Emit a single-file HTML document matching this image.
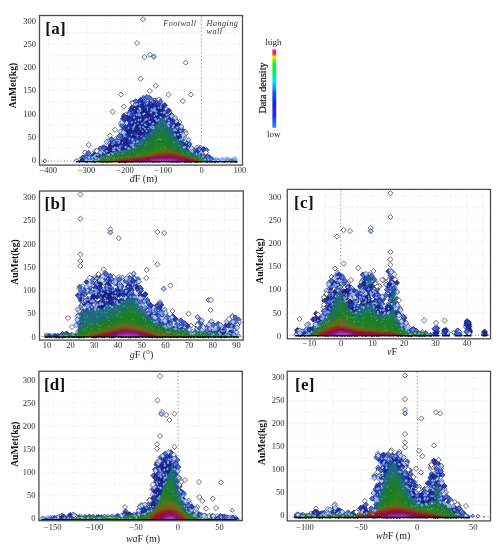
<!DOCTYPE html>
<html lang="en"><head><meta charset="utf-8"><title>Data density scatter plots</title>
<style>html,body{margin:0;padding:0;background:#fff}body{width:501px;height:550px;overflow:hidden}svg{display:block;font-family:"Liberation Serif", "DejaVu Serif", serif}</style></head><body>
<svg width="501" height="550" viewBox="0 0 501 550">
<defs><filter id="b1" x="-20%" y="-50%" width="140%" height="200%"><feGaussianBlur stdDeviation="0.8"/></filter><filter id="b2" x="-20%" y="-50%" width="140%" height="200%"><feGaussianBlur stdDeviation="1.3"/></filter><filter id="b3" x="-20%" y="-50%" width="140%" height="200%"><feGaussianBlur stdDeviation="2.2"/></filter><radialGradient id="gl"><stop offset="0.15" stop-color="#ffffff"/><stop offset="0.75" stop-color="#c6daff"/></radialGradient><radialGradient id="gm"><stop offset="0.15" stop-color="#cfe0ff"/><stop offset="0.75" stop-color="#5a84f0"/></radialGradient><radialGradient id="gd"><stop offset="0.15" stop-color="#8fb2f8"/><stop offset="0.75" stop-color="#3050d6"/></radialGradient><radialGradient id="gk"><stop offset="0.15" stop-color="#587ae6"/><stop offset="0.75" stop-color="#2234b4"/></radialGradient><path id="mw" d="M0 -2.6 L2.6 0 L0 2.6 L-2.6 0Z" fill="#fff" stroke="#5c5c5c" stroke-width="0.9"/><path id="mb" d="M0 -2.6 L2.6 0 L0 2.6 L-2.6 0Z" fill="url(#gm)" stroke="#55629a" stroke-width="0.9"/><path id="ms" d="M0 -1.9L1.9 0L0 1.9L-1.9 0Z" fill="#fff" stroke="#4a4a4a" stroke-width="0.95"/><path id="mu" d="M0 -1.9L1.9 0L0 1.9L-1.9 0Z" fill="#7fa4f4" stroke="#3c4a8c" stroke-width="0.9"/><circle id="mt" r="0.8" fill="#555"/><path id="ml" d="M0 -2.6 L2.6 0 L0 2.6 L-2.6 0Z" fill="#b4ceff" stroke="#4a5890" stroke-width="0.8"/><path id="mm" d="M0 -2.6 L2.6 0 L0 2.6 L-2.6 0Z" fill="#4a70e4" stroke="#222f88" stroke-width="0.8"/><path id="md" d="M0 -2.6 L2.6 0 L0 2.6 L-2.6 0Z" fill="#2640bc" stroke="#141b74" stroke-width="0.8"/><path id="mk" d="M0 -2.6 L2.6 0 L0 2.6 L-2.6 0Z" fill="#1c2a98" stroke="#0e1460" stroke-width="0.8"/><linearGradient id="cb" x1="0" y1="0" x2="0" y2="1"><stop offset="0" stop-color="#ff20d0"/><stop offset="0.025" stop-color="#ff10a0"/><stop offset="0.045" stop-color="#ff1020"/><stop offset="0.07" stop-color="#ff6000"/><stop offset="0.095" stop-color="#fff000"/><stop offset="0.13" stop-color="#80f000"/><stop offset="0.18" stop-color="#20f020"/><stop offset="0.28" stop-color="#00f050"/><stop offset="0.35" stop-color="#00f0b0"/><stop offset="0.41" stop-color="#00e8f0"/><stop offset="0.48" stop-color="#00a8ff"/><stop offset="0.56" stop-color="#1050ff"/><stop offset="0.7" stop-color="#1020f0"/><stop offset="0.85" stop-color="#1830f8"/><stop offset="0.93" stop-color="#2060ff"/><stop offset="1" stop-color="#3a86ff"/></linearGradient></defs>
<rect width="501" height="550" fill="#fff"/>
<g id="panel-a">
<path d="M48.3 15.5V165.1M67.5 15.5V165.1M86.6 15.5V165.1M105.8 15.5V165.1M124.9 15.5V165.1M144.1 15.5V165.1M163.2 15.5V165.1M182.3 15.5V165.1M201.5 15.5V165.1M220.7 15.5V165.1M239.8 15.5V165.1M39.5 21.1H242.5M39.5 32.7H242.5M39.5 44.2H242.5M39.5 55.8H242.5M39.5 67.4H242.5M39.5 79H242.5M39.5 90.5H242.5M39.5 102.1H242.5M39.5 113.7H242.5M39.5 125.3H242.5M39.5 136.8H242.5M39.5 148.4H242.5M39.5 160H242.5" stroke="#f3f3f3" stroke-width="0.7" fill="none"/>
<path d="M41.5 161.2H240.5" stroke="#8a8a8a" stroke-width="1" stroke-dasharray="1 2.2" fill="none"/>
<clipPath id="clipa"><rect x="39.5" y="15.5" width="203" height="146.3"/></clipPath>
<use href="#mw" x="143" y="19.2"/>
<use href="#mw" x="137" y="43.1"/>
<use href="#mw" x="144.6" y="57.1"/>
<use href="#mw" x="149.8" y="54.7"/>
<use href="#mb" x="153.8" y="56.7"/>
<use href="#mw" x="185.7" y="62.7"/>
<use href="#mw" x="140.6" y="78.7"/>
<use href="#mw" x="155.8" y="85.8"/>
<use href="#mw" x="149.8" y="91"/>
<use href="#mw" x="121" y="94.6"/>
<use href="#mw" x="168.5" y="94.6"/>
<use href="#mw" x="190.9" y="94.6"/>
<use href="#mw" x="182.9" y="101"/>
<use href="#mw" x="132.6" y="102.6"/>
<use href="#mw" x="123.8" y="106.6"/>
<use href="#mw" x="112.7" y="111.8"/>
<use href="#mw" x="125.8" y="114.6"/>
<use href="#mw" x="121" y="123.8"/>
<use href="#mw" x="115" y="129.8"/>
<use href="#mw" x="109.9" y="135.7"/>
<use href="#mw" x="88.7" y="144.9"/>
<use href="#mw" x="85.1" y="152.5"/>
<use href="#ms" x="44.8" y="160.9"/>
<g clip-path="url(#clipa)">
<path d="M205 163.2L205 157L206.5 157.6L208.6 156.9L210.5 157.2L212.3 156.5L214.7 157.2L216.5 157.2L218.8 157.8L220.4 157.9L222.8 157.1L224.6 157.5L226.4 156.8L228 156.8L231.4 157.9L234.4 156.3L237.5 158L237.5 163.2Z" fill="#8fb6fb"/>
<use href="#mm" x="232.6" y="161.6"/>
<use href="#mm" x="209" y="161.5"/>
<use href="#ml" x="226.8" y="162.3"/>
<use href="#mm" x="213.1" y="162.1"/>
<use href="#ml" x="233.9" y="162.4"/>
<use href="#mm" x="213.1" y="161.7"/>
<use href="#mm" x="230.5" y="162.2"/>
<use href="#mm" x="213.9" y="162"/>
<use href="#ml" x="235.2" y="162.6"/>
<use href="#ml" x="215.2" y="161.6"/>
<use href="#mm" x="213" y="161.8"/>
<use href="#ml" x="217.8" y="161.5"/>
<use href="#ml" x="227.7" y="161.9"/>
<use href="#ml" x="230.4" y="162.3"/>
<path d="M206 159.3h2.5v1.1h-2.5zM210.9 159.4h2v1.1h-2zM214.2 159h2.2v1.1h-2.2zM221.9 159h1.2v1.1h-1.2zM224.1 159.5h1.3v1.1h-1.3zM227.2 159.5h1v1.1h-1zM232.2 159.2h2v1.1h-2z" fill="#35b9e6" opacity="0.85"/>
</g>
<mask id="maska" maskUnits="userSpaceOnUse" x="0" y="0" width="501" height="550"><path d="M75 167.2L75 160.4L80 157L85 153.6L91 151.5L97.4 148.6L104 144L110 140L116 137L120 133L122 120L124 114L127 110L132 104L137 100L145 97.5L150 97.5L157 98.5L162.4 101.2L166 105L170 110L175 116L179 120.5L182.4 125L185 130L187.4 135L189 140L191 145L193 147.5L195 148.6L197.5 147L200 146L203.5 148L207 151L210 154L213 157.5L215 160.8L215 167.2Z" fill="#fff" stroke="#000" stroke-width="19" stroke-linejoin="round"/></mask>
<g clip-path="url(#clipa)"><rect x="39.5" y="15.5" width="203" height="149.6" fill="#1c2893" mask="url(#maska)"/></g>
<g clip-path="url(#clipa)">
<use href="#mw" x="206.4" y="158.9"/>
<use href="#ml" x="121.4" y="151.6"/>
<use href="#ml" x="161.2" y="117.5"/>
<use href="#ml" x="182.1" y="144"/>
<use href="#mm" x="138.5" y="140.8"/>
<use href="#mm" x="199.6" y="156.2"/>
<use href="#ml" x="97.8" y="156.7"/>
<use href="#mm" x="141" y="137.6"/>
<use href="#mm" x="112" y="152.6"/>
<use href="#mw" x="87.9" y="160.6"/>
<use href="#mm" x="198.2" y="157"/>
<use href="#mm" x="160.2" y="119.4"/>
<use href="#mm" x="115.8" y="150.8"/>
<use href="#mm" x="164.3" y="118.1"/>
<use href="#ml" x="170.4" y="127.2"/>
<use href="#md" x="165.8" y="120.4"/>
<use href="#md" x="94.6" y="158.7"/>
<use href="#mm" x="183.9" y="146.5"/>
<use href="#ml" x="101.1" y="156.9"/>
<use href="#md" x="112.4" y="153.8"/>
<use href="#md" x="205.4" y="157.2"/>
<use href="#md" x="147" y="135.5"/>
<use href="#ml" x="167.1" y="120"/>
<use href="#md" x="125.5" y="148"/>
<use href="#ml" x="173.8" y="132.7"/>
<use href="#mm" x="199.3" y="154.4"/>
<use href="#mm" x="202.2" y="156.1"/>
<use href="#mm" x="205" y="158"/>
<use href="#mm" x="125.4" y="150"/>
<use href="#mm" x="126.9" y="147.1"/>
<use href="#ml" x="88.3" y="159.4"/>
<use href="#mm" x="155.8" y="122.5"/>
<use href="#ml" x="94.3" y="161.1"/>
<use href="#md" x="128.5" y="148.9"/>
<use href="#mm" x="154.4" y="125.5"/>
<use href="#mm" x="155.4" y="124.8"/>
<use href="#md" x="87.5" y="161.1"/>
<use href="#md" x="104.8" y="156.4"/>
<use href="#md" x="130" y="148.8"/>
<use href="#ml" x="93.6" y="158.7"/>
<use href="#mm" x="132.3" y="147.1"/>
<use href="#md" x="135.6" y="141.7"/>
<use href="#md" x="158.2" y="123.2"/>
<use href="#mm" x="114.2" y="152.6"/>
<use href="#mm" x="186.4" y="149"/>
<use href="#mk" x="148.2" y="134.4"/>
<use href="#md" x="113.3" y="151.4"/>
<use href="#mk" x="161.1" y="116.9"/>
<use href="#mm" x="175.8" y="134.3"/>
<use href="#mk" x="157.3" y="119.8"/>
<use href="#mm" x="182.8" y="144.1"/>
<use href="#md" x="121.2" y="149.4"/>
<use href="#md" x="108.4" y="151.9"/>
<use href="#mk" x="159.2" y="118.6"/>
<use href="#mk" x="120.8" y="152.6"/>
<use href="#ml" x="196.5" y="153.1"/>
<use href="#mk" x="159.5" y="120.6"/>
<use href="#mm" x="116.6" y="150.1"/>
<use href="#mk" x="113.5" y="150.3"/>
<use href="#ml" x="124.9" y="150.3"/>
<use href="#ml" x="96.2" y="158.6"/>
<use href="#mk" x="113.2" y="151.4"/>
<use href="#md" x="180.7" y="142.2"/>
<use href="#mk" x="153.2" y="127.7"/>
<use href="#md" x="150.9" y="128.3"/>
<use href="#mm" x="120.7" y="150.3"/>
<use href="#mm" x="146.3" y="134.9"/>
<use href="#md" x="135.2" y="145.9"/>
<use href="#ml" x="191.4" y="152.6"/>
<use href="#md" x="122.9" y="147.9"/>
<use href="#md" x="181.2" y="142.8"/>
<use href="#mm" x="161.5" y="115.8"/>
<use href="#md" x="204.1" y="159.1"/>
<use href="#mm" x="135.2" y="142.8"/>
<use href="#ml" x="199.7" y="156.6"/>
<use href="#mm" x="174.7" y="134.8"/>
<use href="#ml" x="187.4" y="148.9"/>
<use href="#mk" x="115.4" y="152.5"/>
<use href="#mk" x="170" y="127.1"/>
<use href="#mk" x="115.8" y="149.8"/>
<use href="#ml" x="133.4" y="144.5"/>
<use href="#ml" x="196.9" y="155.1"/>
<use href="#ml" x="202.1" y="157.4"/>
<use href="#md" x="184.8" y="146.6"/>
<use href="#ml" x="170.7" y="128.3"/>
<use href="#md" x="145.8" y="137.3"/>
<use href="#md" x="158.9" y="121.1"/>
<use href="#mk" x="151.8" y="128.1"/>
<use href="#ml" x="140.3" y="140.2"/>
<use href="#md" x="159.4" y="118.6"/>
<use href="#mk" x="171.6" y="127.4"/>
<use href="#mk" x="189.8" y="151.6"/>
<use href="#mm" x="85.2" y="160.3"/>
<use href="#md" x="152" y="126.3"/>
<use href="#mm" x="191.6" y="153"/>
<use href="#md" x="200.5" y="154.5"/>
<use href="#mm" x="137.9" y="140.7"/>
<use href="#mk" x="179.8" y="140.9"/>
<use href="#md" x="173.5" y="131.9"/>
<use href="#mm" x="179.3" y="139.6"/>
<use href="#ml" x="189.6" y="150.7"/>
<use href="#ml" x="193.4" y="152.4"/>
<use href="#mk" x="157.1" y="124.5"/>
<use href="#mm" x="87" y="161.1"/>
<use href="#mk" x="98.3" y="159"/>
<use href="#md" x="195.1" y="153.8"/>
<use href="#md" x="143.9" y="139.2"/>
<use href="#mm" x="115.3" y="152.1"/>
<use href="#mk" x="145.4" y="135"/>
<use href="#mk" x="197.8" y="156.7"/>
<use href="#md" x="127.8" y="147.2"/>
<use href="#mk" x="130.4" y="147.5"/>
<use href="#mm" x="177.6" y="136.9"/>
<use href="#mk" x="113" y="151.3"/>
<use href="#md" x="146.3" y="136.9"/>
<use href="#mk" x="198.8" y="155.9"/>
<use href="#mk" x="133.7" y="142.9"/>
<use href="#md" x="129.7" y="149.4"/>
<use href="#md" x="162.1" y="116.4"/>
<use href="#md" x="151.3" y="129.9"/>
<use href="#md" x="170.1" y="127.1"/>
<use href="#md" x="103.3" y="157.3"/>
<use href="#mk" x="141.4" y="139.5"/>
<use href="#md" x="193.5" y="154.2"/>
<use href="#md" x="186.1" y="148.1"/>
<use href="#mk" x="148" y="133.2"/>
<use href="#mk" x="133.1" y="144"/>
<use href="#md" x="114.8" y="150"/>
<use href="#md" x="139.4" y="139.1"/>
<use href="#md" x="114.4" y="150.3"/>
<use href="#md" x="122.2" y="151.4"/>
<use href="#md" x="164.1" y="118.3"/>
<use href="#mk" x="193.9" y="154.9"/>
<use href="#md" x="102.7" y="157.5"/>
<use href="#mk" x="205.5" y="159"/>
<use href="#mk" x="109.1" y="151.9"/>
<use href="#md" x="160.4" y="116.6"/>
<use href="#mk" x="108.4" y="154.3"/>
<use href="#mk" x="148.6" y="134.2"/>
<use href="#md" x="100.9" y="157.4"/>
<use href="#mk" x="149.3" y="133.4"/>
<use href="#md" x="168" y="121.7"/>
<use href="#mk" x="106.4" y="154.9"/>
<use href="#mk" x="160.2" y="118.4"/>
<use href="#md" x="127.7" y="148.6"/>
<use href="#mk" x="187.5" y="150.3"/>
<use href="#mk" x="144.2" y="137.5"/>
<use href="#md" x="154.8" y="123.7"/>
<use href="#mk" x="198.7" y="156.4"/>
<use href="#mk" x="135.6" y="144.4"/>
<use href="#mk" x="163.2" y="118"/>
<use href="#md" x="142.7" y="137.2"/>
<use href="#md" x="152.7" y="127.4"/>
<use href="#mk" x="115.1" y="150.4"/>
<use href="#mk" x="125.6" y="148.4"/>
<use href="#mk" x="172.4" y="130.5"/>
<use href="#mk" x="127.1" y="146.6"/>
<use href="#mk" x="122.8" y="150.8"/>
<use href="#mk" x="163" y="116.4"/>
<use href="#mk" x="119.2" y="150.6"/>
<use href="#mk" x="173" y="129.9"/>
<use href="#mk" x="127.4" y="149.5"/>
<use href="#mk" x="172.8" y="130.3"/>
<use href="#mk" x="101.5" y="154.3"/>
<use href="#mk" x="122.3" y="149.3"/>
</g>
<mask id="clipap" maskUnits="userSpaceOnUse" x="0" y="0" width="501" height="550"><path d="M75 169.2L75 160.4L80 157L85 153.6L91 151.5L97.4 148.6L104 144L110 140L116 137L120 133L122 120L124 114L127 110L132 104L137 100L145 97.5L150 97.5L157 98.5L162.4 101.2L166 105L170 110L175 116L179 120.5L182.4 125L185 130L187.4 135L189 140L191 145L193 147.5L195 148.6L197.5 147L200 146L203.5 148L207 151L210 154L213 157.5L215 160.8L215 169.2Z" fill="#fff" stroke="#000" stroke-width="3" stroke-linejoin="round"/></mask>
<g clip-path="url(#clipa)"><g mask="url(#clipap)">
<path d="M84.5 169.2L84.5 160.7L96.5 156.4L109.5 150.8L118.5 149L127.5 146.1L136.5 140.6L145.5 132.3L154.5 122.1L159.5 116.7L163.5 112.9L166.5 116.2L169.8 122.1L175.2 131.3L182.4 140.6L187.7 147.1L193.1 150.8L200.3 153.6L206.5 157.4L210.5 160.7L210.5 169.2Z" fill="#1d4c98" filter="url(#b2)" opacity="0.8"/>
<path d="M85.5 169.2L85.5 161.2L97.5 157.2L110.5 152.1L119.5 150.4L128.5 147.7L137.5 142.7L146.5 135L155.5 125.6L158.5 120.6L162.5 117.1L165.5 120.2L168.8 125.6L174.2 134.1L181.4 142.7L186.7 148.7L192.1 152.1L199.3 154.6L205.5 158.2L209.5 161.2L209.5 169.2Z" fill="#1a6c78" filter="url(#b2)" opacity="0.95"/>
<path d="M87.5 169.2L87.5 161.2L99.5 158.2L112.5 154.3L121.5 153L130.5 151L139.5 147.2L148.5 141.3L157.5 134.2L156.5 130.5L160.5 127.8L163.5 130.1L166.8 134.2L172.2 140.7L179.4 147.2L184.7 151.7L190.1 154.3L197.3 156.2L203.5 158.9L207.5 161.2L207.5 169.2Z" fill="#1e7d28" filter="url(#b3)"/>
<path d="M91.5 169.2L91.5 161.2L103.5 159.4L116.5 157.1L125.5 156.3L134.5 155.1L143.5 152.8L152.5 149.3L153.5 145L160.5 142.8L156.5 141.2L159.5 142.5L162.8 145L168.2 148.9L175.4 152.8L180.7 155.5L186.1 157.1L193.3 158.2L199.5 159.8L203.5 161.2L203.5 169.2Z" fill="#33801c" filter="url(#b3)" opacity="0.7"/>
<path d="M100 169.2L100 161L120 158.2L140 155.2L155 151.5L166 148.8L176 151.5L186 155.5L195 159L200 161L200 169.2Z" fill="#646c18" filter="url(#b2)"/>
<path d="M115 169.2L115 161L135 158.7L150 156.3L160 154.3L166 153.4L175 154.6L185 157L195 160L198 161L198 169.2Z" fill="#a81424" filter="url(#b1)"/>
<path d="M119 169.2L119 161.1L139 159.6L154 158.2L164 156.9L162 156.4L171 157.1L181 158.6L191 160.5L194 161.1L194 169.2Z" fill="#860e38" filter="url(#b1)"/>
<path d="M140 169.2L140 161L150 159.2L160 157.8L170 157.5L180 158.7L188 161L188 169.2Z" fill="#82108a" filter="url(#b1)"/>
<ellipse cx="164" cy="160.6" rx="14.4" ry="1.4" fill="#a844b4" filter="url(#b1)"/>
<path d="M166.4 118.8h0.9v0.9h-0.9zM141.2 143.4h0.9v0.9h-0.9zM182.9 148.1h0.9v0.9h-0.9zM137.7 141.5h0.9v0.9h-0.9zM193.7 152.2h0.9v0.9h-0.9zM98.3 157h0.9v0.9h-0.9zM112.7 158.1h0.9v0.9h-0.9zM100.4 158.3h0.9v0.9h-0.9zM157.5 139h0.9v0.9h-0.9zM108.8 158.5h0.9v0.9h-0.9zM114.1 157.6h0.9v0.9h-0.9zM205.2 157.5h0.9v0.9h-0.9zM161.4 128.8h0.9v0.9h-0.9zM150.7 132.8h0.9v0.9h-0.9zM132.1 145.1h0.9v0.9h-0.9zM103.8 157.8h0.9v0.9h-0.9zM96.6 158.9h0.9v0.9h-0.9zM133.6 151.7h0.9v0.9h-0.9zM127.6 156h0.9v0.9h-0.9zM165.8 125.3h0.9v0.9h-0.9zM93.5 158.6h0.9v0.9h-0.9zM95.6 159.5h0.9v0.9h-0.9zM194.7 157.6h0.9v0.9h-0.9zM203.5 156.6h0.9v0.9h-0.9zM145.3 134.5h0.9v0.9h-0.9zM174.6 132.5h0.9v0.9h-0.9zM102.9 156.1h0.9v0.9h-0.9zM99.5 156h0.9v0.9h-0.9zM187 152.3h0.9v0.9h-0.9zM88.1 160.1h0.9v0.9h-0.9zM174.3 141.9h0.9v0.9h-0.9zM181.2 149.9h0.9v0.9h-0.9zM164.2 127.2h0.9v0.9h-0.9zM114.9 150.6h0.9v0.9h-0.9zM114.1 152.1h0.9v0.9h-0.9zM88.5 160.2h0.9v0.9h-0.9zM141.2 138.7h0.9v0.9h-0.9zM105.9 154.3h0.9v0.9h-0.9zM118.4 150.1h0.9v0.9h-0.9zM162.9 119h0.9v0.9h-0.9zM171.6 128.5h0.9v0.9h-0.9zM201.4 158.1h0.9v0.9h-0.9zM135.3 146.3h0.9v0.9h-0.9zM163.2 146.2h0.9v0.9h-0.9zM184.4 148h0.9v0.9h-0.9zM121.2 153.4h0.9v0.9h-0.9zM125.8 149.9h0.9v0.9h-0.9zM102.8 156.5h0.9v0.9h-0.9zM113.3 152.4h0.9v0.9h-0.9zM94.9 157.9h0.9v0.9h-0.9zM107.7 152.6h0.9v0.9h-0.9zM173.3 130.8h0.9v0.9h-0.9zM95.1 160.2h0.9v0.9h-0.9zM155.2 140.5h0.9v0.9h-0.9zM156.3 148.4h0.9v0.9h-0.9zM146.1 142.1h0.9v0.9h-0.9zM106.1 157.4h0.9v0.9h-0.9zM100.5 156.3h0.9v0.9h-0.9zM200.3 155.5h0.9v0.9h-0.9zM116.4 152.2h0.9v0.9h-0.9zM112.8 153.3h0.9v0.9h-0.9zM89.8 159.5h0.9v0.9h-0.9zM153.8 128.1h0.9v0.9h-0.9zM136.6 154.7h0.9v0.9h-0.9zM113.1 157.6h0.9v0.9h-0.9zM133.3 150.6h0.9v0.9h-0.9zM176.9 140.2h0.9v0.9h-0.9zM188.9 154.2h0.9v0.9h-0.9zM107.7 155.2h0.9v0.9h-0.9zM206.2 159h0.9v0.9h-0.9zM143.8 139.4h0.9v0.9h-0.9zM138.9 144h0.9v0.9h-0.9zM110.9 152h0.9v0.9h-0.9zM108.2 153.5h0.9v0.9h-0.9zM113.6 155.5h0.9v0.9h-0.9zM122.1 153.1h0.9v0.9h-0.9zM202.5 159.5h0.9v0.9h-0.9zM173.9 147.7h0.9v0.9h-0.9zM159.6 148.2h0.9v0.9h-0.9zM106.2 158h0.9v0.9h-0.9zM171.5 136.2h0.9v0.9h-0.9zM135 147.9h0.9v0.9h-0.9zM178 141.5h0.9v0.9h-0.9zM203.4 159.2h0.9v0.9h-0.9zM110.9 156.1h0.9v0.9h-0.9zM97.9 159.7h0.9v0.9h-0.9zM106.3 158.7h0.9v0.9h-0.9zM135.9 143.7h0.9v0.9h-0.9zM107.2 156.8h0.9v0.9h-0.9zM96.8 157.1h0.9v0.9h-0.9zM198.3 156.4h0.9v0.9h-0.9zM160.2 139h0.9v0.9h-0.9zM157.9 125.8h0.9v0.9h-0.9zM143.6 150.2h0.9v0.9h-0.9zM129.2 152.3h0.9v0.9h-0.9zM100.2 157.1h0.9v0.9h-0.9zM102.5 155.3h0.9v0.9h-0.9zM178.3 145h0.9v0.9h-0.9zM120.9 150.9h0.9v0.9h-0.9zM110 151.7h0.9v0.9h-0.9zM201.4 159.6h0.9v0.9h-0.9zM206.6 158.7h0.9v0.9h-0.9zM99 159h0.9v0.9h-0.9zM159.4 139.1h0.9v0.9h-0.9zM137.4 153.8h0.9v0.9h-0.9zM157.2 139.6h0.9v0.9h-0.9zM122.3 149.5h0.9v0.9h-0.9zM173.1 141.8h0.9v0.9h-0.9zM198.8 155h0.9v0.9h-0.9zM115.8 151.6h0.9v0.9h-0.9zM108.3 152.8h0.9v0.9h-0.9zM108.3 157.7h0.9v0.9h-0.9zM198.9 157.1h0.9v0.9h-0.9zM203.3 159.6h0.9v0.9h-0.9zM111.3 152.8h0.9v0.9h-0.9zM123.4 151.5h0.9v0.9h-0.9zM144.8 144.5h0.9v0.9h-0.9zM164.8 147.5h0.9v0.9h-0.9zM174.7 135.6h0.9v0.9h-0.9zM162.9 121.6h0.9v0.9h-0.9zM167.8 129.6h0.9v0.9h-0.9zM178.8 144.7h0.9v0.9h-0.9zM159 122h0.9v0.9h-0.9zM121.8 156.6h0.9v0.9h-0.9zM95.6 160.2h0.9v0.9h-0.9zM113.8 150.9h0.9v0.9h-0.9zM98.2 159.1h0.9v0.9h-0.9zM117 154.2h0.9v0.9h-0.9zM96.7 160h0.9v0.9h-0.9zM195.8 154.6h0.9v0.9h-0.9zM182.3 152.7h0.9v0.9h-0.9zM109.2 153.7h0.9v0.9h-0.9zM98 156.7h0.9v0.9h-0.9zM129.6 149.3h0.9v0.9h-0.9zM180.3 148.5h0.9v0.9h-0.9zM167.5 122.8h0.9v0.9h-0.9zM111.8 151.8h0.9v0.9h-0.9zM118.5 152.9h0.9v0.9h-0.9zM157.7 126h0.9v0.9h-0.9zM198.5 155h0.9v0.9h-0.9zM119.7 150.9h0.9v0.9h-0.9zM158.2 138.2h0.9v0.9h-0.9zM188.8 151.8h0.9v0.9h-0.9zM91.6 160.1h0.9v0.9h-0.9zM189.1 149.4h0.9v0.9h-0.9z" fill="#9fe0d0" opacity="0.45"/>
</g></g>
<g clip-path="url(#clipa)">
<use href="#mw" x="125" y="123.7"/>
<use href="#mw" x="187.2" y="142.8"/>
<use href="#mw" x="180" y="128.1"/>
<use href="#mw" x="130.1" y="112.2"/>
<use href="#mw" x="187.5" y="144.1"/>
<use href="#ml" x="160.7" y="115.4"/>
<use href="#ml" x="117.1" y="145.5"/>
<use href="#ml" x="191.7" y="150"/>
<use href="#ml" x="124.6" y="126"/>
<use href="#ml" x="138.8" y="102.7"/>
<use href="#ml" x="166.8" y="111.9"/>
<use href="#ml" x="88.1" y="158.5"/>
<use href="#ml" x="112.4" y="148"/>
<use href="#mw" x="80.1" y="160"/>
<use href="#ml" x="84.5" y="159.9"/>
<use href="#ml" x="113.9" y="146.6"/>
<use href="#ml" x="141.9" y="100.7"/>
<use href="#ml" x="127.2" y="117.8"/>
<use href="#ml" x="130.7" y="135.9"/>
<use href="#ml" x="108.5" y="141.3"/>
<use href="#ml" x="110" y="143.6"/>
<use href="#mw" x="90.8" y="156.3"/>
<use href="#ml" x="173" y="120.9"/>
<use href="#ml" x="129.4" y="117.1"/>
<use href="#mw" x="112.1" y="143.9"/>
<use href="#ml" x="185.4" y="131.6"/>
<use href="#ml" x="102.7" y="147.5"/>
<use href="#ml" x="156.1" y="102.9"/>
<use href="#mw" x="115.9" y="138.9"/>
<use href="#ml" x="203.5" y="154.7"/>
<use href="#ml" x="196.7" y="147.6"/>
<use href="#ml" x="179.3" y="126.6"/>
<use href="#mm" x="138.8" y="119.3"/>
<use href="#mm" x="133.5" y="117.1"/>
<use href="#mm" x="90.1" y="158.3"/>
<use href="#mm" x="179" y="128.8"/>
<use href="#mm" x="154.7" y="108.6"/>
<use href="#mw" x="113.5" y="142.4"/>
<use href="#mm" x="158.9" y="117.2"/>
<use href="#mm" x="135.3" y="107.6"/>
<use href="#ml" x="166.7" y="111.3"/>
<use href="#ml" x="135.5" y="128"/>
<use href="#mm" x="113.4" y="149.5"/>
<use href="#mm" x="142.7" y="123.8"/>
<use href="#mm" x="180.9" y="130.2"/>
<use href="#mm" x="126.9" y="141.1"/>
<use href="#mm" x="181.5" y="138.1"/>
<use href="#mw" x="185.7" y="133.8"/>
<use href="#mm" x="151.7" y="110.9"/>
<use href="#ml" x="182.1" y="133.2"/>
<use href="#ml" x="127.8" y="141.7"/>
<use href="#mm" x="132.2" y="131.4"/>
<use href="#mm" x="162.8" y="109.1"/>
<use href="#ml" x="126.9" y="129.5"/>
<use href="#ml" x="95.1" y="151.2"/>
<use href="#mw" x="174.1" y="121.3"/>
<use href="#mm" x="143.4" y="126.9"/>
<use href="#mm" x="143.4" y="101"/>
<use href="#mm" x="182.2" y="140"/>
<use href="#mm" x="181.3" y="138.9"/>
<use href="#mm" x="182.2" y="138.1"/>
<use href="#mw" x="124.4" y="132.2"/>
<use href="#mm" x="159.2" y="116.1"/>
<use href="#mm" x="130.9" y="112"/>
<use href="#mm" x="82.6" y="157.7"/>
<use href="#ml" x="176.5" y="124.3"/>
<use href="#mm" x="149.6" y="115.2"/>
<use href="#ml" x="200.3" y="147.7"/>
<use href="#ml" x="156.7" y="106.9"/>
<use href="#ml" x="127.7" y="118.1"/>
<use href="#mm" x="133.9" y="105.8"/>
<use href="#mm" x="127.1" y="140.2"/>
<use href="#ml" x="127.3" y="117.3"/>
<use href="#ml" x="129.7" y="123"/>
<use href="#ml" x="85.4" y="156"/>
<use href="#mm" x="127.6" y="140.5"/>
<use href="#md" x="145.8" y="118.8"/>
<use href="#md" x="152.6" y="111.8"/>
<use href="#mm" x="105.5" y="152.4"/>
<use href="#ml" x="132.3" y="109.9"/>
<use href="#ml" x="202.5" y="152.9"/>
<use href="#mm" x="196.8" y="150.9"/>
<use href="#ml" x="144.7" y="100.2"/>
<use href="#mm" x="126.2" y="119.8"/>
<use href="#ml" x="184.1" y="137.3"/>
<use href="#ml" x="213.2" y="161.2"/>
<use href="#mm" x="193.5" y="149.9"/>
<use href="#ml" x="132.4" y="130.1"/>
<use href="#ml" x="133.6" y="109.6"/>
<use href="#ml" x="171.7" y="116.3"/>
<use href="#md" x="148.3" y="110.1"/>
<use href="#mm" x="148.5" y="104.5"/>
<use href="#mw" x="83" y="158.8"/>
<use href="#md" x="135.3" y="106.5"/>
<use href="#md" x="125.2" y="139.3"/>
<use href="#ml" x="176.8" y="125.7"/>
<use href="#md" x="97.1" y="154.3"/>
<use href="#mm" x="153.2" y="108.6"/>
<use href="#md" x="122.8" y="132.8"/>
<use href="#ml" x="93.9" y="154.8"/>
<use href="#ml" x="124.1" y="134.3"/>
<use href="#md" x="112.1" y="148"/>
<use href="#mm" x="131.3" y="108.7"/>
<use href="#md" x="92.3" y="156.6"/>
<use href="#md" x="155.8" y="100.6"/>
<use href="#mw" x="179.4" y="121.9"/>
<use href="#md" x="154" y="104.6"/>
<use href="#ml" x="208.1" y="156.3"/>
<use href="#md" x="158.8" y="115.9"/>
<use href="#md" x="126.8" y="121"/>
<use href="#md" x="144.7" y="123.1"/>
<use href="#ml" x="181.7" y="138"/>
<use href="#md" x="158" y="106"/>
<use href="#mm" x="146.3" y="118.4"/>
<use href="#mm" x="130" y="116.5"/>
<use href="#md" x="119.6" y="146.3"/>
<use href="#ml" x="187.3" y="143.6"/>
<use href="#mm" x="199.2" y="150.8"/>
<use href="#md" x="133.2" y="112.6"/>
<use href="#md" x="158.8" y="110.6"/>
<use href="#mm" x="180.1" y="126.7"/>
<use href="#md" x="154.9" y="107.9"/>
<use href="#mw" x="181.1" y="127.1"/>
<use href="#mm" x="140.9" y="129.7"/>
<use href="#mm" x="160" y="109"/>
<use href="#mm" x="133" y="128"/>
<use href="#mm" x="135.7" y="140.8"/>
<use href="#md" x="153.7" y="113.8"/>
<use href="#md" x="174" y="124.3"/>
<use href="#ml" x="129.4" y="139.2"/>
<use href="#mm" x="137" y="132.2"/>
<use href="#mm" x="103.9" y="147.2"/>
<use href="#mm" x="161.8" y="114.7"/>
<use href="#mm" x="117.7" y="146"/>
<use href="#md" x="131.3" y="143.5"/>
<use href="#md" x="123.9" y="133.8"/>
<use href="#ml" x="156.5" y="104"/>
<use href="#md" x="94.9" y="155.7"/>
<use href="#mm" x="203.7" y="153.3"/>
<use href="#mm" x="140.9" y="135.8"/>
<use href="#md" x="111.9" y="148.7"/>
<use href="#md" x="133.1" y="123.8"/>
<use href="#mm" x="187.8" y="146.8"/>
<use href="#md" x="152.5" y="114.6"/>
<use href="#mw" x="171.4" y="115"/>
<use href="#md" x="126.2" y="135.4"/>
<use href="#md" x="117.2" y="146.3"/>
<use href="#mm" x="170.6" y="115.9"/>
<use href="#ml" x="147" y="101.2"/>
<use href="#mm" x="129.4" y="133.2"/>
<use href="#md" x="133.7" y="127.8"/>
<use href="#mk" x="141.3" y="131.2"/>
<use href="#mk" x="136.1" y="125.6"/>
<use href="#ml" x="142.2" y="130.5"/>
<use href="#ml" x="106.4" y="142.1"/>
<use href="#mk" x="137.1" y="125"/>
<use href="#mm" x="136" y="104.3"/>
<use href="#mm" x="84" y="157.9"/>
<use href="#md" x="145.5" y="107.6"/>
<use href="#mm" x="131.7" y="131"/>
<use href="#ml" x="109.3" y="148.2"/>
<use href="#mk" x="155" y="107.5"/>
<use href="#ml" x="154" y="101.5"/>
<use href="#ml" x="99.5" y="153.8"/>
<use href="#mk" x="120.8" y="145.4"/>
<use href="#mk" x="162.3" y="113.7"/>
<use href="#mk" x="137.8" y="132"/>
<use href="#md" x="113.3" y="146.6"/>
<use href="#mm" x="117.4" y="142.1"/>
<use href="#ml" x="122.3" y="138.9"/>
<use href="#mk" x="151.9" y="125.6"/>
<use href="#md" x="137.8" y="124.3"/>
<use href="#md" x="209.3" y="157.6"/>
<use href="#md" x="148" y="113.4"/>
<use href="#md" x="137.2" y="103.4"/>
<use href="#ml" x="88.1" y="157.2"/>
<use href="#ml" x="157.3" y="100.4"/>
<use href="#md" x="161.9" y="112.4"/>
<use href="#md" x="135.8" y="108.9"/>
<use href="#mk" x="137.7" y="114.7"/>
<use href="#ml" x="176.6" y="121.6"/>
<use href="#mm" x="128.9" y="119.2"/>
<use href="#md" x="112.7" y="145.5"/>
<use href="#mk" x="148.4" y="106.6"/>
<use href="#md" x="117.9" y="143.4"/>
<use href="#mk" x="134.3" y="137.4"/>
<use href="#mk" x="162.5" y="107.4"/>
<use href="#md" x="123.1" y="118.8"/>
<use href="#ml" x="144.3" y="107.7"/>
<use href="#md" x="134.6" y="112"/>
<use href="#md" x="134.7" y="110.9"/>
<use href="#mk" x="144.7" y="113.6"/>
<use href="#md" x="149" y="103.1"/>
<use href="#md" x="170.1" y="121.9"/>
<use href="#md" x="138.4" y="122"/>
<use href="#md" x="133.7" y="116.3"/>
<use href="#mk" x="133.5" y="123.8"/>
<use href="#ml" x="130.9" y="114.8"/>
<use href="#mk" x="132.3" y="131.5"/>
<use href="#md" x="186.3" y="145.5"/>
<use href="#mk" x="130.2" y="132.9"/>
<use href="#ml" x="147.4" y="119.9"/>
<use href="#mm" x="202.9" y="153.8"/>
<use href="#md" x="129.6" y="138.1"/>
<use href="#mm" x="154.9" y="111.5"/>
<use href="#mw" x="169.3" y="112.1"/>
<use href="#ml" x="76.3" y="161.2"/>
<use href="#md" x="127" y="119.6"/>
<use href="#mm" x="131.7" y="115.5"/>
<use href="#md" x="152.2" y="120.9"/>
<use href="#mk" x="103.3" y="152.8"/>
<use href="#md" x="147.2" y="103.8"/>
<use href="#mm" x="152.4" y="118.2"/>
<use href="#mk" x="110.6" y="148"/>
<use href="#md" x="201.5" y="151.6"/>
<use href="#mm" x="115.3" y="144.1"/>
<use href="#mm" x="176.4" y="131.9"/>
<use href="#ml" x="188.4" y="139.9"/>
<use href="#md" x="172.1" y="125.1"/>
<use href="#ml" x="120.4" y="131.6"/>
<use href="#mm" x="150.1" y="105"/>
<use href="#mk" x="143.2" y="106.9"/>
<use href="#mw" x="134.6" y="108.6"/>
<use href="#mm" x="147.6" y="107"/>
<use href="#ml" x="126.7" y="130.3"/>
<use href="#mm" x="173.4" y="121.5"/>
<use href="#ml" x="176.9" y="124.5"/>
<use href="#md" x="127.6" y="132"/>
<use href="#mm" x="127.1" y="131.1"/>
<use href="#mk" x="138.7" y="112.3"/>
<use href="#md" x="134.7" y="133.1"/>
<use href="#mm" x="132.9" y="113"/>
<use href="#mm" x="143.3" y="100.6"/>
<use href="#md" x="149.6" y="119.9"/>
<use href="#mk" x="137.4" y="118.1"/>
<use href="#mk" x="148.3" y="115.9"/>
<use href="#mm" x="146.1" y="109.6"/>
<use href="#mk" x="117.9" y="146.6"/>
<use href="#mm" x="207.5" y="157"/>
<use href="#ml" x="158.2" y="106.1"/>
<use href="#mm" x="159.7" y="104.7"/>
<use href="#mk" x="179.6" y="137.4"/>
<use href="#mm" x="129.7" y="141.8"/>
<use href="#md" x="126.1" y="126.5"/>
<use href="#mm" x="153.9" y="108.3"/>
<use href="#ml" x="154.1" y="100.5"/>
<use href="#mk" x="145.2" y="127"/>
<use href="#md" x="156.1" y="104.3"/>
<use href="#md" x="130.8" y="111"/>
<use href="#mw" x="191.4" y="149.6"/>
<use href="#md" x="136.4" y="137.5"/>
<use href="#mk" x="108.4" y="151.2"/>
<use href="#ml" x="199.5" y="151.7"/>
<use href="#md" x="164.3" y="108.5"/>
<use href="#mw" x="156" y="102.5"/>
<use href="#md" x="201.7" y="151.6"/>
<use href="#mm" x="116.6" y="140.3"/>
<use href="#mk" x="123.2" y="145.1"/>
<use href="#mw" x="133.9" y="105.7"/>
<use href="#mk" x="146.3" y="113.6"/>
<use href="#md" x="143.1" y="117.3"/>
<use href="#mk" x="131.2" y="116.2"/>
<use href="#ml" x="105" y="150.7"/>
<use href="#mm" x="130.3" y="128.1"/>
<use href="#mk" x="141.1" y="116"/>
<use href="#mk" x="133.7" y="124.9"/>
<use href="#mm" x="145.7" y="114.5"/>
<use href="#mk" x="135.8" y="132.4"/>
<use href="#md" x="127.9" y="124.4"/>
<use href="#md" x="152.2" y="120.5"/>
<use href="#md" x="124.1" y="129.1"/>
<use href="#mm" x="125.7" y="132.9"/>
<use href="#ml" x="157.5" y="103.1"/>
<use href="#md" x="138.1" y="127.9"/>
<use href="#mm" x="126.4" y="135"/>
<use href="#mm" x="140.5" y="113.7"/>
<use href="#md" x="145.6" y="121.4"/>
<use href="#md" x="114.6" y="148.5"/>
<use href="#ml" x="139.7" y="118.8"/>
<use href="#mk" x="112.8" y="150"/>
<use href="#md" x="136.6" y="138.6"/>
<use href="#mk" x="156.1" y="109"/>
<use href="#mw" x="190.5" y="148.8"/>
<use href="#ml" x="135.8" y="126.7"/>
<use href="#md" x="127.3" y="123.1"/>
<use href="#mm" x="138.1" y="112.2"/>
<use href="#md" x="176.2" y="127"/>
<use href="#mm" x="139.3" y="114.9"/>
<use href="#mm" x="143.6" y="97.8"/>
<use href="#ml" x="123.3" y="132.5"/>
<use href="#mm" x="133.3" y="141.8"/>
<use href="#mk" x="174.5" y="119.6"/>
<use href="#md" x="149.3" y="112.5"/>
<use href="#ml" x="126.6" y="123"/>
<use href="#mm" x="177.5" y="126.5"/>
<use href="#ml" x="173" y="118.4"/>
<use href="#ml" x="153.8" y="117.9"/>
<use href="#md" x="130.2" y="139.4"/>
<use href="#md" x="118.7" y="147.4"/>
<use href="#md" x="106.2" y="148.5"/>
<use href="#md" x="163.4" y="113.8"/>
<use href="#mm" x="157.6" y="114.4"/>
<use href="#mm" x="163.6" y="107.6"/>
<use href="#mk" x="133.5" y="111.4"/>
<use href="#mm" x="133" y="139.6"/>
<use href="#mm" x="156.4" y="103.3"/>
<use href="#mm" x="102.5" y="151.7"/>
<use href="#md" x="105.6" y="150.4"/>
<use href="#mm" x="113.2" y="145.3"/>
<use href="#mk" x="82.1" y="160.6"/>
<use href="#md" x="132.9" y="121.4"/>
<use href="#md" x="125.7" y="139.1"/>
<use href="#mk" x="124.8" y="147.1"/>
<use href="#md" x="153.5" y="102.1"/>
<use href="#ml" x="127.9" y="138.3"/>
<use href="#md" x="165.6" y="113"/>
<use href="#md" x="135.6" y="116.6"/>
<use href="#md" x="182" y="130"/>
<use href="#mk" x="130.5" y="128.1"/>
<use href="#md" x="159.7" y="113.2"/>
<use href="#mm" x="172" y="122.5"/>
<use href="#mm" x="129.4" y="116.4"/>
<use href="#mm" x="153.6" y="107.6"/>
<use href="#ml" x="183.5" y="134.9"/>
<use href="#ml" x="133.7" y="133.3"/>
<use href="#md" x="136.2" y="128.6"/>
<use href="#ml" x="104.7" y="151.5"/>
<use href="#mk" x="142.1" y="110.6"/>
<use href="#md" x="127.4" y="130.7"/>
<use href="#md" x="106.9" y="151.2"/>
<use href="#mm" x="132.5" y="112.9"/>
<use href="#mk" x="121.8" y="145.8"/>
<use href="#md" x="143.9" y="115.4"/>
<use href="#mm" x="137" y="132.3"/>
<use href="#mk" x="156" y="120.4"/>
<use href="#mk" x="142.7" y="106.8"/>
<use href="#mk" x="141.8" y="114.9"/>
<use href="#ml" x="160.5" y="104"/>
<use href="#mm" x="136.5" y="110.2"/>
<use href="#mm" x="145.3" y="121.5"/>
<use href="#ml" x="101.5" y="151.2"/>
<use href="#mk" x="134.7" y="119.5"/>
<use href="#ml" x="158.3" y="104.3"/>
<use href="#mm" x="149.8" y="124.3"/>
<use href="#ml" x="99.6" y="152.5"/>
<use href="#mm" x="115.3" y="148.9"/>
<use href="#mk" x="199" y="151.2"/>
<use href="#mm" x="111.1" y="144.5"/>
<use href="#mk" x="131.2" y="118.1"/>
<use href="#md" x="145.4" y="123.9"/>
<use href="#mm" x="152.7" y="120"/>
<use href="#mk" x="137.3" y="110.8"/>
<use href="#md" x="141.6" y="103.3"/>
<use href="#md" x="122.4" y="142.5"/>
<use href="#md" x="128.8" y="126.4"/>
<use href="#ml" x="176.4" y="121.2"/>
<use href="#mm" x="112.2" y="147.6"/>
<use href="#mm" x="86.4" y="156.7"/>
<use href="#md" x="121.7" y="140.2"/>
<use href="#md" x="175.9" y="126.8"/>
<use href="#mk" x="110.1" y="149.5"/>
<use href="#mk" x="139.2" y="115.1"/>
<use href="#md" x="148.1" y="111.8"/>
<use href="#md" x="151.6" y="121.2"/>
<use href="#ml" x="143.5" y="113.2"/>
<use href="#mk" x="150.9" y="122.2"/>
<use href="#md" x="140.8" y="102.9"/>
<use href="#mk" x="145.1" y="129.3"/>
<use href="#mk" x="154.6" y="116.7"/>
<use href="#md" x="110.8" y="145.9"/>
<use href="#ml" x="170.3" y="116"/>
<use href="#mk" x="144.6" y="119.7"/>
<use href="#mk" x="113.4" y="144.9"/>
<use href="#mk" x="136.9" y="113.9"/>
<use href="#mm" x="129.7" y="118.8"/>
<use href="#mm" x="116.3" y="147.1"/>
<use href="#mm" x="131" y="122.1"/>
<use href="#md" x="173.6" y="119.4"/>
<use href="#md" x="163.9" y="113.4"/>
<use href="#mk" x="112" y="145.8"/>
<use href="#mm" x="157.3" y="118.9"/>
<use href="#md" x="138.3" y="118.8"/>
<use href="#mk" x="146.6" y="116.7"/>
<use href="#mk" x="136.8" y="114.2"/>
<use href="#mk" x="127.1" y="137"/>
<use href="#md" x="130.3" y="135.9"/>
<use href="#md" x="127.7" y="118"/>
<use href="#mk" x="136.8" y="133.6"/>
<use href="#mm" x="134.2" y="131.3"/>
<use href="#mm" x="199.5" y="149"/>
<use href="#md" x="121.1" y="147.3"/>
<use href="#mk" x="152.8" y="106.7"/>
<use href="#md" x="133.6" y="115"/>
<use href="#mk" x="138" y="137.6"/>
<use href="#mk" x="141.3" y="125.1"/>
<use href="#mk" x="148.7" y="119.5"/>
<use href="#md" x="128.7" y="139.7"/>
<use href="#md" x="127.8" y="129.4"/>
<use href="#md" x="130" y="120.1"/>
<use href="#md" x="107.5" y="150.8"/>
<use href="#md" x="145.4" y="107.5"/>
<use href="#mk" x="128.4" y="116.6"/>
<use href="#mk" x="170.2" y="119"/>
<use href="#mk" x="174.7" y="126.1"/>
<use href="#mm" x="135.4" y="126.9"/>
<use href="#mm" x="201" y="152.3"/>
<use href="#md" x="166.5" y="114.8"/>
<use href="#mm" x="159.1" y="107.4"/>
<use href="#mm" x="113.4" y="143"/>
<use href="#mm" x="210.9" y="158.9"/>
<use href="#md" x="172.3" y="124.2"/>
<use href="#md" x="138.1" y="123.6"/>
<use href="#md" x="149.8" y="124.6"/>
<use href="#md" x="131.4" y="122.6"/>
<use href="#mk" x="147.3" y="124.6"/>
<use href="#md" x="120.6" y="148.3"/>
<use href="#md" x="156.9" y="106.3"/>
<use href="#mm" x="142.3" y="129.9"/>
<use href="#md" x="128.5" y="141.7"/>
<use href="#mk" x="139.1" y="129.5"/>
<use href="#mk" x="122.9" y="147.1"/>
<use href="#mm" x="143.1" y="110"/>
<use href="#mm" x="108.9" y="149.3"/>
<use href="#mk" x="147.6" y="107.3"/>
<use href="#mm" x="136.7" y="121.1"/>
<use href="#mm" x="134.2" y="126.4"/>
<use href="#mm" x="119.1" y="148.4"/>
<use href="#mm" x="138.4" y="126.7"/>
<use href="#md" x="135.2" y="125.1"/>
<use href="#mk" x="139.5" y="123.4"/>
<use href="#mk" x="157.1" y="110.7"/>
<use href="#mk" x="157.2" y="111.3"/>
<use href="#md" x="132.7" y="132.5"/>
<use href="#md" x="130.4" y="131.6"/>
<use href="#mm" x="103.5" y="148.6"/>
<use href="#mm" x="121.9" y="143.1"/>
<use href="#mk" x="107.5" y="150.6"/>
<use href="#md" x="136.6" y="128.1"/>
<use href="#md" x="119.5" y="137.8"/>
<use href="#mm" x="147.4" y="104.1"/>
<use href="#md" x="126.4" y="143.8"/>
<use href="#mm" x="130.1" y="114.5"/>
<use href="#md" x="131.5" y="133.7"/>
<use href="#mm" x="129.3" y="112.9"/>
<use href="#md" x="148.3" y="118.5"/>
<use href="#mk" x="130.2" y="131.6"/>
<use href="#mm" x="137.3" y="121.7"/>
<use href="#mm" x="139.8" y="113.8"/>
<use href="#mm" x="88.5" y="152.8"/>
<use href="#mm" x="156.3" y="111.4"/>
<use href="#md" x="171.3" y="115.5"/>
<use href="#mm" x="100.3" y="148.5"/>
<use href="#md" x="155.7" y="118.8"/>
<use href="#md" x="139.8" y="112.8"/>
<use href="#mk" x="148.9" y="106.2"/>
<use href="#md" x="126.9" y="136.8"/>
<use href="#md" x="148.2" y="117.9"/>
<use href="#mk" x="156.2" y="120.5"/>
<use href="#mk" x="124.8" y="143.4"/>
<use href="#mk" x="137.1" y="122.7"/>
<use href="#mm" x="150.7" y="107.1"/>
<use href="#mk" x="135.7" y="134.2"/>
<use href="#md" x="161.8" y="112.1"/>
<use href="#mk" x="177.8" y="132.3"/>
<use href="#mk" x="153.1" y="111.1"/>
<use href="#mk" x="151.9" y="107.1"/>
<use href="#md" x="138.8" y="132"/>
<use href="#mk" x="152.3" y="108.5"/>
<use href="#mk" x="142.5" y="124"/>
<use href="#mk" x="143.2" y="110.7"/>
<use href="#mk" x="134.9" y="135.5"/>
<use href="#mk" x="110.9" y="148.2"/>
<use href="#mk" x="133.6" y="131.1"/>
<use href="#mk" x="164.3" y="108.1"/>
<use href="#md" x="155.9" y="107.1"/>
<use href="#md" x="137.3" y="137.8"/>
<use href="#md" x="136.6" y="107.1"/>
<use href="#md" x="144.7" y="117.6"/>
<use href="#md" x="132.7" y="107"/>
<use href="#md" x="124.2" y="119.8"/>
<use href="#md" x="170.9" y="115.5"/>
<use href="#md" x="143.4" y="128.6"/>
<use href="#mk" x="159.2" y="115.3"/>
<use href="#md" x="140.4" y="116.6"/>
<use href="#md" x="136.8" y="117.7"/>
<use href="#mk" x="155.1" y="118.4"/>
<use href="#md" x="151.2" y="111.4"/>
<use href="#mk" x="138.9" y="112.8"/>
<use href="#md" x="145.4" y="116.9"/>
<use href="#mk" x="160.6" y="112.9"/>
<use href="#mk" x="140.6" y="133.2"/>
<use href="#mk" x="117.8" y="145.6"/>
<use href="#mk" x="178.2" y="124.7"/>
<use href="#md" x="138.8" y="115.3"/>
<use href="#md" x="138" y="107.1"/>
<use href="#md" x="126.4" y="146.6"/>
<use href="#md" x="126.9" y="136.5"/>
<use href="#md" x="154.5" y="107.2"/>
<use href="#mk" x="148" y="121.2"/>
<use href="#mk" x="137.4" y="119.9"/>
<use href="#md" x="176.2" y="130.6"/>
<use href="#md" x="168" y="119.6"/>
<use href="#md" x="140.6" y="100.2"/>
<use href="#md" x="138" y="121.2"/>
<use href="#md" x="135.3" y="134.2"/>
<use href="#md" x="144.3" y="109.6"/>
<use href="#mk" x="121.6" y="143.8"/>
<use href="#md" x="121.8" y="145.3"/>
<use href="#md" x="138.7" y="112.8"/>
<use href="#md" x="136.5" y="123.5"/>
<use href="#md" x="98.6" y="155.2"/>
<use href="#mk" x="137" y="107.3"/>
<use href="#md" x="146" y="106.6"/>
<use href="#md" x="158.3" y="104.3"/>
<use href="#mk" x="159" y="109.3"/>
<use href="#mk" x="136.2" y="120.8"/>
<use href="#md" x="148.5" y="118.9"/>
<use href="#mk" x="142" y="110.3"/>
<use href="#md" x="147.1" y="130.8"/>
<use href="#mk" x="124.5" y="140.8"/>
<use href="#md" x="154.1" y="117"/>
<use href="#mk" x="107.4" y="151"/>
<use href="#md" x="137" y="105"/>
<use href="#mk" x="142" y="130.5"/>
<use href="#mk" x="129" y="131"/>
<use href="#mk" x="150.9" y="124.5"/>
<use href="#mk" x="120.1" y="137"/>
<use href="#mk" x="136.3" y="128.8"/>
<use href="#mk" x="139.7" y="125.3"/>
<use href="#mk" x="134" y="122.2"/>
<use href="#mk" x="156" y="117.7"/>
<use href="#mk" x="146.2" y="110.7"/>
<use href="#mk" x="187" y="143.7"/>
<use href="#mk" x="116.7" y="148"/>
<use href="#mk" x="118.9" y="141.4"/>
<use href="#mk" x="146.7" y="115.9"/>
<use href="#mk" x="130" y="132.4"/>
<use href="#mk" x="143.4" y="126.7"/>
<use href="#mk" x="158.7" y="108.5"/>
<use href="#mk" x="95.8" y="153"/>
<use href="#mk" x="178" y="135"/>
<use href="#mk" x="147.4" y="123.6"/>
<path d="M184 145.7l1.4 1.4l-1.4 1.4l-1.4 -1.4zM161 107.2l1 1l-1 1l-1 -1zM137 141.2l1 1l-1 1l-1 -1zM152.5 109.4l1 1l-1 1l-1 -1zM175 133.2l1.5 1.5l-1.5 1.5l-1.5 -1.5zM173 126.1l1.3 1.3l-1.3 1.3l-1.3 -1.3zM174 124.1l1.2 1.2l-1.2 1.2l-1.2 -1.2zM138 109.7l1.4 1.4l-1.4 1.4l-1.4 -1.4zM151 126.4l1.2 1.2l-1.2 1.2l-1.2 -1.2zM169 119.4l1.2 1.2l-1.2 1.2l-1.2 -1.2zM151.5 126.3l1.1 1.1l-1.1 1.1l-1.1 -1.1zM147.5 101.2l1 1l-1 1l-1 -1zM112.5 152.5l1.3 1.3l-1.3 1.3l-1.3 -1.3zM140 108.1l1.3 1.3l-1.3 1.3l-1.3 -1.3zM119.5 148.7l1.3 1.3l-1.3 1.3l-1.3 -1.3zM158.5 118.7l1.3 1.3l-1.3 1.3l-1.3 -1.3zM142 121.9l1.3 1.3l-1.3 1.3l-1.3 -1.3zM168 122.1l1.2 1.2l-1.2 1.2l-1.2 -1.2zM153 109.3l1.1 1.1l-1.1 1.1l-1.1 -1.1zM123.5 129.9l1.4 1.4l-1.4 1.4l-1.4 -1.4zM128.5 146.9l1.5 1.5l-1.5 1.5l-1.5 -1.5zM137 113.8l1.1 1.1l-1.1 1.1l-1.1 -1.1zM87 159.3l1.1 1.1l-1.1 1.1l-1.1 -1.1zM95 156l1.1 1.1l-1.1 1.1l-1.1 -1.1zM114 140.8l1 1l-1 1l-1 -1zM137.5 139.5l1.4 1.4l-1.4 1.4l-1.4 -1.4zM106.5 149.7l1.5 1.5l-1.5 1.5l-1.5 -1.5zM100 152.6l1 1l-1 1l-1 -1zM135.5 120.1l1.1 1.1l-1.1 1.1l-1.1 -1.1zM144 137.1l1 1l-1 1l-1 -1zM93.5 155.4l1.3 1.3l-1.3 1.3l-1.3 -1.3zM145 123.3l1.3 1.3l-1.3 1.3l-1.3 -1.3zM140.5 118.8l1 1l-1 1l-1 -1zM140 102.3l1 1l-1 1l-1 -1zM169 121.3l1.1 1.1l-1.1 1.1l-1.1 -1.1zM154.5 115.1l1 1l-1 1l-1 -1zM155.5 109.9l1.1 1.1l-1.1 1.1l-1.1 -1.1zM96 156.8l1.3 1.3l-1.3 1.3l-1.3 -1.3zM173 124.9l0.9 0.9l-0.9 0.9l-0.9 -0.9zM92.5 158.3l1.3 1.3l-1.3 1.3l-1.3 -1.3zM118 141.6l0.9 0.9l-0.9 0.9l-0.9 -0.9zM142.5 130.1l1.1 1.1l-1.1 1.1l-1.1 -1.1zM95.5 159.5l1.2 1.2l-1.2 1.2l-1.2 -1.2zM149.5 117.2l0.9 0.9l-0.9 0.9l-0.9 -0.9zM205 158.4l1.2 1.2l-1.2 1.2l-1.2 -1.2zM175 128.1l1.4 1.4l-1.4 1.4l-1.4 -1.4zM130.5 143.9l1.1 1.1l-1.1 1.1l-1.1 -1.1zM128.5 127l1.1 1.1l-1.1 1.1l-1.1 -1.1zM202.5 151.7l1.4 1.4l-1.4 1.4l-1.4 -1.4zM144 121l1 1l-1 1l-1 -1zM169.5 122.8l1 1l-1 1l-1 -1zM185.5 145.7l1.2 1.2l-1.2 1.2l-1.2 -1.2zM97.5 153.1l1.4 1.4l-1.4 1.4l-1.4 -1.4zM150 125.8l1 1l-1 1l-1 -1zM146.5 117.7l1.5 1.5l-1.5 1.5l-1.5 -1.5zM148.5 99.8l0.9 0.9l-0.9 0.9l-0.9 -0.9zM156.5 113.1l1.4 1.4l-1.4 1.4l-1.4 -1.4zM124.5 133.8l1.4 1.4l-1.4 1.4l-1.4 -1.4zM186.5 141.8l0.9 0.9l-0.9 0.9l-0.9 -0.9zM178 126.2l1.1 1.1l-1.1 1.1l-1.1 -1.1zM102 149.1l0.9 0.9l-0.9 0.9l-0.9 -0.9zM146 124.4l1 1l-1 1l-1 -1zM177 126.2l1.4 1.4l-1.4 1.4l-1.4 -1.4zM125.5 145.7l1.5 1.5l-1.5 1.5l-1.5 -1.5zM117 139.6l1.2 1.2l-1.2 1.2l-1.2 -1.2zM156.5 113.3l1.4 1.4l-1.4 1.4l-1.4 -1.4zM153 108.4l0.9 0.9l-0.9 0.9l-0.9 -0.9zM138 122.6l1 1l-1 1l-1 -1zM186.5 141.5l1.3 1.3l-1.3 1.3l-1.3 -1.3zM107.5 153.4l1.1 1.1l-1.1 1.1l-1.1 -1.1zM180.5 129.5l1.4 1.4l-1.4 1.4l-1.4 -1.4zM208.5 158.4l1.3 1.3l-1.3 1.3l-1.3 -1.3zM98 153.4l1.2 1.2l-1.2 1.2l-1.2 -1.2zM203 155.8l1 1l-1 1l-1 -1zM192.5 150.6l1.3 1.3l-1.3 1.3l-1.3 -1.3zM165.5 118.5l1.1 1.1l-1.1 1.1l-1.1 -1.1zM168 123.7l1.2 1.2l-1.2 1.2l-1.2 -1.2zM92 156.4l1.3 1.3l-1.3 1.3l-1.3 -1.3zM172.5 125l1.1 1.1l-1.1 1.1l-1.1 -1.1zM139.5 106.7l1.5 1.5l-1.5 1.5l-1.5 -1.5zM133 146.3l1.1 1.1l-1.1 1.1l-1.1 -1.1zM120 145.2l1.3 1.3l-1.3 1.3l-1.3 -1.3zM155.5 107l1.1 1.1l-1.1 1.1l-1.1 -1.1zM203 154.9l1 1l-1 1l-1 -1zM182.5 136.5l1.2 1.2l-1.2 1.2l-1.2 -1.2zM99.5 150.5l1.3 1.3l-1.3 1.3l-1.3 -1.3zM98.5 157.7l1.3 1.3l-1.3 1.3l-1.3 -1.3zM178 133.2l1.4 1.4l-1.4 1.4l-1.4 -1.4zM136.5 113.3l1.4 1.4l-1.4 1.4l-1.4 -1.4zM120.5 137.4l1.2 1.2l-1.2 1.2l-1.2 -1.2zM143 126l1.3 1.3l-1.3 1.3l-1.3 -1.3zM98.5 158l1 1l-1 1l-1 -1zM133.5 126.2l1.3 1.3l-1.3 1.3l-1.3 -1.3zM154.5 109.4l1.3 1.3l-1.3 1.3l-1.3 -1.3zM134 141l1.4 1.4l-1.4 1.4l-1.4 -1.4zM132 120.8l1.4 1.4l-1.4 1.4l-1.4 -1.4zM174 128.7l1.1 1.1l-1.1 1.1l-1.1 -1.1zM176 129.3l1.1 1.1l-1.1 1.1l-1.1 -1.1zM132 143.6l1.5 1.5l-1.5 1.5l-1.5 -1.5zM138.5 118.6l1.3 1.3l-1.3 1.3l-1.3 -1.3zM147.5 106.7l1.2 1.2l-1.2 1.2l-1.2 -1.2zM86.5 159.6l1.4 1.4l-1.4 1.4l-1.4 -1.4zM129.5 137.3l1.3 1.3l-1.3 1.3l-1.3 -1.3zM139 112.2l1 1l-1 1l-1 -1zM137.5 134.6l1.2 1.2l-1.2 1.2l-1.2 -1.2zM173 125.8l1.4 1.4l-1.4 1.4l-1.4 -1.4zM158.5 106.4l1.1 1.1l-1.1 1.1l-1.1 -1.1zM161.5 111.6l1.1 1.1l-1.1 1.1l-1.1 -1.1zM145 119.1l1.2 1.2l-1.2 1.2l-1.2 -1.2zM153 122.2l1.4 1.4l-1.4 1.4l-1.4 -1.4zM95.5 153.9l1.2 1.2l-1.2 1.2l-1.2 -1.2zM132 138.5l1.3 1.3l-1.3 1.3l-1.3 -1.3zM89.5 159.2l1.5 1.5l-1.5 1.5l-1.5 -1.5zM174 128.8l1.4 1.4l-1.4 1.4l-1.4 -1.4zM99 151.3l1.1 1.1l-1.1 1.1l-1.1 -1.1zM124.5 132.8l1 1l-1 1l-1 -1zM113 147.3l1.1 1.1l-1.1 1.1l-1.1 -1.1zM128.5 113.1l1.4 1.4l-1.4 1.4l-1.4 -1.4zM196.5 152.6l1.3 1.3l-1.3 1.3l-1.3 -1.3zM160.5 105.7l1.2 1.2l-1.2 1.2l-1.2 -1.2zM154.5 107.6l1.4 1.4l-1.4 1.4l-1.4 -1.4zM115 146.1l1.4 1.4l-1.4 1.4l-1.4 -1.4zM122.5 141.7l1 1l-1 1l-1 -1zM165 111.2l1.1 1.1l-1.1 1.1l-1.1 -1.1zM167.5 116.5l1.1 1.1l-1.1 1.1l-1.1 -1.1zM152.5 100.5l1.2 1.2l-1.2 1.2l-1.2 -1.2zM133 127.7l1.3 1.3l-1.3 1.3l-1.3 -1.3zM112 143.6l1 1l-1 1l-1 -1zM147.5 108.9l1 1l-1 1l-1 -1zM151 111.3l1.3 1.3l-1.3 1.3l-1.3 -1.3zM89 155.8l1.3 1.3l-1.3 1.3l-1.3 -1.3zM199.5 152.7l1.1 1.1l-1.1 1.1l-1.1 -1.1zM150 120.5l1.4 1.4l-1.4 1.4l-1.4 -1.4zM109 154.1l1.2 1.2l-1.2 1.2l-1.2 -1.2zM139 113.9l1.2 1.2l-1.2 1.2l-1.2 -1.2zM180 138.3l1.3 1.3l-1.3 1.3l-1.3 -1.3zM125.5 131.3l0.9 0.9l-0.9 0.9l-0.9 -0.9zM156.5 119.3l1.2 1.2l-1.2 1.2l-1.2 -1.2zM95.5 153.6l1.2 1.2l-1.2 1.2l-1.2 -1.2zM101.5 153.3l1 1l-1 1l-1 -1zM133.5 145.7l1.4 1.4l-1.4 1.4l-1.4 -1.4zM119.5 140.4l1.1 1.1l-1.1 1.1l-1.1 -1.1zM169 125l1.2 1.2l-1.2 1.2l-1.2 -1.2zM140 113.7l1.4 1.4l-1.4 1.4l-1.4 -1.4zM120 137.8l1 1l-1 1l-1 -1zM189 146.9l0.9 0.9l-0.9 0.9l-0.9 -0.9zM160.5 115.9l1.4 1.4l-1.4 1.4l-1.4 -1.4zM117.5 146.5l1.5 1.5l-1.5 1.5l-1.5 -1.5zM125 135.4l1.1 1.1l-1.1 1.1l-1.1 -1.1zM199.5 148.9l1.1 1.1l-1.1 1.1l-1.1 -1.1zM119 141.9l1.2 1.2l-1.2 1.2l-1.2 -1.2zM95 154.1l1.3 1.3l-1.3 1.3l-1.3 -1.3zM134.5 124.7l1 1l-1 1l-1 -1zM182.5 134.7l1.1 1.1l-1.1 1.1l-1.1 -1.1zM168 113.2l1.2 1.2l-1.2 1.2l-1.2 -1.2zM119 139.5l1.2 1.2l-1.2 1.2l-1.2 -1.2zM140.5 128.1l1 1l-1 1l-1 -1zM145 127.4l1.3 1.3l-1.3 1.3l-1.3 -1.3zM153 127.2l1.2 1.2l-1.2 1.2l-1.2 -1.2zM152 124.6l1 1l-1 1l-1 -1zM118.5 148.5l0.9 0.9l-0.9 0.9l-0.9 -0.9zM201 150.9l1.3 1.3l-1.3 1.3l-1.3 -1.3zM157 120l1.1 1.1l-1.1 1.1l-1.1 -1.1zM131.5 133.4l1.2 1.2l-1.2 1.2l-1.2 -1.2zM166.5 113.7l1.1 1.1l-1.1 1.1l-1.1 -1.1zM146.5 129.8l1.1 1.1l-1.1 1.1l-1.1 -1.1zM140 125.3l1.3 1.3l-1.3 1.3l-1.3 -1.3zM91.5 159.2l1.2 1.2l-1.2 1.2l-1.2 -1.2zM151.5 108.1l1.4 1.4l-1.4 1.4l-1.4 -1.4zM139 103.4l0.9 0.9l-0.9 0.9l-0.9 -0.9zM134 116.1l1.4 1.4l-1.4 1.4l-1.4 -1.4zM153.5 125.5l1.3 1.3l-1.3 1.3l-1.3 -1.3zM155.5 117.4l1.5 1.5l-1.5 1.5l-1.5 -1.5zM164 111.1l1.5 1.5l-1.5 1.5l-1.5 -1.5zM146.5 102.7l1.1 1.1l-1.1 1.1l-1.1 -1.1zM165.5 117.1l1.3 1.3l-1.3 1.3l-1.3 -1.3zM114.5 149.6l1 1l-1 1l-1 -1zM114.5 146.7l1.1 1.1l-1.1 1.1l-1.1 -1.1zM180.5 138.2l1.1 1.1l-1.1 1.1l-1.1 -1.1zM201.5 149.7l1.2 1.2l-1.2 1.2l-1.2 -1.2zM135 123.4l1 1l-1 1l-1 -1zM113 148.9l1.4 1.4l-1.4 1.4l-1.4 -1.4zM133 143.5l1.3 1.3l-1.3 1.3l-1.3 -1.3zM149.5 120.6l1.2 1.2l-1.2 1.2l-1.2 -1.2zM140.5 109.6l1.3 1.3l-1.3 1.3l-1.3 -1.3zM148.5 127.5l1 1l-1 1l-1 -1zM86 157.9l1.1 1.1l-1.1 1.1l-1.1 -1.1zM153.5 126.7l1.1 1.1l-1.1 1.1l-1.1 -1.1zM86 159.5l1.4 1.4l-1.4 1.4l-1.4 -1.4z" fill="#a3c2fb" opacity="0.78"/>
<use href="#mw" x="96.8" y="151"/>
<use href="#mm" x="111.5" y="139.3"/>
<use href="#ml" x="119.1" y="137.3"/>
<use href="#mm" x="119.6" y="135.8"/>
<use href="#mm" x="121.9" y="125.7"/>
<use href="#ml" x="121.7" y="122.3"/>
<use href="#mm" x="124.3" y="117"/>
<use href="#md" x="124" y="115.9"/>
<use href="#mw" x="132.8" y="103.3"/>
<use href="#ml" x="135.7" y="103.9"/>
<use href="#mm" x="135.5" y="101.3"/>
<use href="#mm" x="147" y="97.1"/>
<use href="#ml" x="149" y="97.9"/>
<use href="#mm" x="150" y="98.1"/>
<use href="#mw" x="159.2" y="99.6"/>
<use href="#mm" x="160.5" y="101.5"/>
<use href="#md" x="164.8" y="105.2"/>
<use href="#ml" x="166.3" y="109.1"/>
<use href="#md" x="168.7" y="110.5"/>
<use href="#ml" x="171.9" y="116.1"/>
<use href="#ml" x="175.4" y="117.9"/>
<use href="#ml" x="181.4" y="126.6"/>
<use href="#mm" x="189.5" y="143.9"/>
<use href="#ml" x="191.5" y="148.1"/>
<use href="#md" x="203.5" y="149.2"/>
<use href="#mm" x="206.5" y="150.1"/>
<use href="#mw" x="205.8" y="152.5"/>
</g>
<path d="M201.4 16.5V160.2" stroke="#6e6e6e" stroke-width="1" stroke-dasharray="1 2.6" fill="none" opacity="0.85"/>
<path d="M76 161H237.5V162.4L235.8 162.9L234.1 162.5L232.9 162.6L231.8 162.5L230.6 162.7L229.3 162.3L227.8 162.7L226.2 162.3L224.5 163L222.8 162.5L221.1 162.5L219.4 162.3L217.9 163L216.5 162.2L214.8 163.3L213 162.2L211.7 163L210.3 162.6L209.6 162.8L208.8 162.3L207.5 163L206.2 162.5L204.8 162.8L203.4 162.3L202.6 162.6L201.7 162.6L200.3 162.8L198.8 162.6L198 162.9L197.2 162.5L196.1 163.2L195 162.5L193.4 162.6L191.9 162.4L190.8 163.3L189.7 162.6L188.1 162.8L186.5 162.4L185.2 163.1L183.9 162.5L182.5 162.5L181 162.3L179.3 163.1L177.7 162.3L176.9 163.3L176 162.5L174.6 162.8L173.1 162.4L172 162.9L171 162.6L170.2 162.5L169.3 162.5L167.7 162.5L166 162.5L165.3 162.6L164.5 162.2L162.9 162.6L161.3 162.2L159.7 163.1L158.1 162.2L157.1 162.8L156.1 162.4L155.3 162.7L154.4 162.5L152.8 163L151.1 162.3L149.5 162.8L147.8 162.2L146.3 163L144.8 162.2L143.7 162.7L142.6 162.5L141.6 162.7L140.6 162.4L139.8 163.2L138.9 162.3L138 162.6L137.2 162.4L135.7 162.8L134.2 162.3L133 163.1L131.8 162.4L130.7 163.1L129.6 162.5L128.2 162.8L126.8 162.4L125.1 163.2L123.4 162.6L122.3 163.1L121.1 162.5L119.6 163.2L118 162.5L116.3 162.6L114.6 162.2L113.8 162.8L113 162.3L111.9 162.8L110.9 162.5L109.5 162.8L108.2 162.4L106.9 163.2L105.7 162.2L104.2 162.7L102.8 162.4L101.8 163L100.9 162.5L99.8 162.8L98.7 162.2L97.3 162.6L95.9 162.3L94.9 163.2L93.9 162.4L92.4 162.5L91 162.4L89.5 162.5L88.1 162.3L87.1 163.2L86.2 162.4L85.1 162.8L84 162.2L82.3 162.6L80.6 162.2L79.4 162.9L78.1 162.3L77.1 162.6L76 162.4Z" fill="#0b0b0b"/>
<rect x="39.5" y="15.5" width="203" height="149.6" fill="none" stroke="#4d4d4d" stroke-width="1.3"/>
<g font-size="8.5" fill="#2e2e2e"><text x="35.9" y="24" text-anchor="end">300</text><text x="35.9" y="47.1" text-anchor="end">250</text><text x="35.9" y="70.3" text-anchor="end">200</text><text x="35.9" y="93.4" text-anchor="end">150</text><text x="35.9" y="116.6" text-anchor="end">100</text><text x="35.9" y="139.8" text-anchor="end">50</text><text x="35.9" y="162.9" text-anchor="end">0</text><text x="48.3" y="173.3" text-anchor="middle">−400</text><text x="86.6" y="173.3" text-anchor="middle">−300</text><text x="124.9" y="173.3" text-anchor="middle">−200</text><text x="163.2" y="173.3" text-anchor="middle">−100</text><text x="201.5" y="173.3" text-anchor="middle">0</text><text x="239.8" y="173.3" text-anchor="middle">100</text></g>
<text x="45.3" y="33.9" font-size="17" font-weight="bold" letter-spacing="0.3" fill="#111">[a]</text>
<text x="143.5" y="182.2" font-size="10" text-anchor="middle" fill="#222"><tspan font-style="italic">d</tspan>F (m)</text>
<text transform="translate(15.7 85.5) rotate(-90)" font-size="9.6" font-weight="bold" text-anchor="middle" fill="#111">AuMet(kg)</text>
</g>
<g id="panel-b">
<path d="M46.9 191V340.1M58.8 191V340.1M70.6 191V340.1M82.5 191V340.1M94.3 191V340.1M106.2 191V340.1M118 191V340.1M129.8 191V340.1M141.7 191V340.1M153.5 191V340.1M165.4 191V340.1M177.2 191V340.1M189.1 191V340.1M200.9 191V340.1M212.8 191V340.1M224.6 191V340.1M236.5 191V340.1M39.5 196.9H243.3M39.5 208.5H243.3M39.5 220.2H243.3M39.5 231.8H243.3M39.5 243.4H243.3M39.5 255H243.3M39.5 266.6H243.3M39.5 278.3H243.3M39.5 289.9H243.3M39.5 301.5H243.3M39.5 313.1H243.3M39.5 324.8H243.3M39.5 336.4H243.3" stroke="#f3f3f3" stroke-width="0.7" fill="none"/>
<path d="M41.5 336.5H241.3" stroke="#8a8a8a" stroke-width="1" stroke-dasharray="1 2.2" fill="none"/>
<clipPath id="clipb"><rect x="39.5" y="191" width="203.8" height="146.1"/></clipPath>
<use href="#mw" x="80.4" y="194.5"/>
<use href="#mw" x="80.4" y="218.7"/>
<use href="#mw" x="110.4" y="229.4"/>
<use href="#mb" x="110.4" y="232.4"/>
<use href="#mw" x="118.8" y="238.2"/>
<use href="#mw" x="157.3" y="232"/>
<use href="#mw" x="164.2" y="233"/>
<use href="#mw" x="80.4" y="254.4"/>
<use href="#mw" x="80.4" y="261"/>
<use href="#mw" x="80.4" y="266"/>
<use href="#mw" x="157.3" y="264.4"/>
<use href="#mw" x="103.6" y="269.3"/>
<use href="#mw" x="146.8" y="270"/>
<use href="#mw" x="146.2" y="278"/>
<use href="#mw" x="130" y="275"/>
<use href="#mb" x="133.7" y="273.7"/>
<use href="#mb" x="163.7" y="288.7"/>
<use href="#mw" x="170.4" y="285.5"/>
<use href="#mw" x="160" y="302"/>
<use href="#mb" x="208.6" y="300"/>
<use href="#mw" x="211" y="300"/>
<use href="#mw" x="210.6" y="310"/>
<use href="#mw" x="188.6" y="313.7"/>
<use href="#mw" x="172.4" y="311"/>
<use href="#mb" x="197.4" y="317"/>
<use href="#mw" x="191" y="325.6"/>
<use href="#mw" x="232.3" y="316"/>
<use href="#mw" x="68" y="318"/>
<use href="#mw" x="72" y="327"/>
<g clip-path="url(#clipb)">
<path d="M44 338.5L44 333L45.7 333.2L48.9 333.6L51.2 333L53 333L55.7 333.4L58.7 333.1L60.8 333.6L64.2 333L66.2 332.7L68 333.5L69.6 332.6L71.9 332.7L74.4 333.7L77 334L77 338.5Z" fill="#8fb6fb"/>
<use href="#md" x="59.1" y="336.7"/>
<use href="#mm" x="58.9" y="336.9"/>
<use href="#ml" x="60.1" y="336.8"/>
<use href="#ml" x="47" y="337.1"/>
<use href="#ml" x="55" y="337.9"/>
<use href="#ml" x="62.1" y="337.4"/>
<use href="#md" x="53.9" y="336.9"/>
<use href="#ml" x="75.4" y="337.2"/>
<use href="#ml" x="53.9" y="337.2"/>
<use href="#mm" x="69" y="336.7"/>
<use href="#mm" x="68.1" y="336.8"/>
<use href="#mm" x="67.6" y="337.9"/>
<use href="#ml" x="73.4" y="336.8"/>
<use href="#mm" x="69.2" y="336.8"/>
<path d="M49.1 334.3h2.5v1.1h-2.5zM52.5 334.8h1.7v1.1h-1.7zM64.4 334.5h1.6v1.1h-1.6zM71 334.8h1.3v1.1h-1.3z" fill="#35b9e6" opacity="0.85"/>
</g>
<mask id="maskb" maskUnits="userSpaceOnUse" x="0" y="0" width="501" height="550"><path d="M44 342.5L44 335.5L46 333.5L58 333.5L62 331.5L66 331L70 333L76 332L77 290L80 285L85 280L90 277.5L100 272.5L108 274L115 275L122 277.5L128 276L135 275L138 278L142 287L146 297L150 303L155 304L160 302.4L164 308L167.4 315L175 317.4L185 322.4L192.4 330L196 322L200 318.6L205 325L212.4 318.6L216 323L220 325L225 321L230 318.6L237.3 316L239 320L239.2 336L239.2 342.5Z" fill="#fff" stroke="#000" stroke-width="19" stroke-linejoin="round"/></mask>
<g clip-path="url(#clipb)">
<use href="#mw" x="183.8" y="329.9"/>
<use href="#mw" x="193.8" y="333.3"/>
<use href="#ml" x="140.8" y="307.4"/>
<use href="#mw" x="66.2" y="333.5"/>
<use href="#ml" x="238.6" y="336.4"/>
<use href="#ml" x="197.5" y="330.4"/>
<use href="#ml" x="187.4" y="329.6"/>
<use href="#ml" x="124.3" y="299.9"/>
<use href="#ml" x="85.6" y="308.3"/>
<use href="#ml" x="72.3" y="336.2"/>
<use href="#ml" x="177.4" y="329.2"/>
<use href="#ml" x="151.2" y="316.2"/>
<use href="#ml" x="164.1" y="326.5"/>
<use href="#ml" x="71.1" y="336"/>
<use href="#ml" x="65.7" y="334.9"/>
<use href="#ml" x="215.5" y="334"/>
<use href="#mm" x="150.9" y="318.6"/>
<use href="#mm" x="158" y="322.8"/>
<use href="#mm" x="136.5" y="299"/>
<use href="#mm" x="180.5" y="330.5"/>
<use href="#ml" x="77" y="334.1"/>
<use href="#md" x="164.7" y="325.2"/>
<use href="#mm" x="169.2" y="327.8"/>
<use href="#mm" x="187.2" y="331.3"/>
<use href="#mm" x="81.2" y="331.7"/>
<use href="#mm" x="96.8" y="309.7"/>
<use href="#mm" x="71.8" y="335.2"/>
<use href="#mm" x="212.5" y="331.4"/>
<use href="#md" x="114.8" y="303.6"/>
<use href="#md" x="110.2" y="308.2"/>
<use href="#ml" x="151.7" y="317.1"/>
<use href="#ml" x="68.6" y="335.8"/>
<use href="#mm" x="99.5" y="308.9"/>
<use href="#md" x="124.1" y="301.8"/>
<use href="#md" x="79.2" y="314.6"/>
<use href="#md" x="181.9" y="329.2"/>
<use href="#mk" x="102.7" y="307.2"/>
<use href="#mw" x="81.8" y="325.2"/>
<use href="#ml" x="216.5" y="334.2"/>
<use href="#md" x="148.7" y="317.5"/>
<use href="#mk" x="127.8" y="298.1"/>
<use href="#mk" x="172" y="327.6"/>
<use href="#mk" x="115.1" y="305.1"/>
<use href="#md" x="133.4" y="296.9"/>
<use href="#mm" x="57.9" y="336"/>
<use href="#ml" x="84.6" y="308.1"/>
<use href="#mm" x="232" y="334.3"/>
<use href="#ml" x="203.5" y="334.5"/>
<use href="#md" x="113.2" y="304.6"/>
<use href="#mk" x="102.4" y="306.2"/>
<use href="#ml" x="78.3" y="331.6"/>
<use href="#ml" x="72.8" y="335.1"/>
<use href="#md" x="161.8" y="325.4"/>
<use href="#md" x="81.9" y="329.3"/>
<use href="#ml" x="188.7" y="330.4"/>
<use href="#ml" x="217.6" y="334.2"/>
<use href="#md" x="131.4" y="295"/>
<use href="#mk" x="159" y="322.3"/>
<use href="#md" x="162.6" y="323.3"/>
<use href="#ml" x="65.1" y="334.8"/>
<use href="#mk" x="102.1" y="306.6"/>
<use href="#md" x="215.4" y="333.8"/>
<use href="#mk" x="161" y="325.9"/>
<use href="#mm" x="62.4" y="334.3"/>
<use href="#mk" x="211.1" y="331.7"/>
<use href="#mk" x="97.9" y="309.3"/>
<use href="#md" x="133.2" y="295.5"/>
<use href="#mm" x="136.4" y="298.4"/>
<use href="#mm" x="134.7" y="298.7"/>
<use href="#ml" x="81.4" y="309.6"/>
<use href="#mm" x="233.7" y="334.6"/>
<use href="#ml" x="66.6" y="333.8"/>
<use href="#ml" x="183.6" y="329.9"/>
<use href="#mm" x="62.6" y="334"/>
<use href="#md" x="67.1" y="334.2"/>
<use href="#mm" x="122.3" y="302.5"/>
<use href="#mk" x="111.7" y="303.9"/>
<use href="#mm" x="228.8" y="334.7"/>
<use href="#mm" x="163.5" y="326.5"/>
<use href="#md" x="162.8" y="323"/>
<use href="#mm" x="63.8" y="336.3"/>
<use href="#md" x="157.6" y="323.3"/>
<use href="#mm" x="105.2" y="306.5"/>
<use href="#md" x="162.9" y="326.5"/>
<use href="#mk" x="126.9" y="299.9"/>
<use href="#mm" x="80.8" y="319.8"/>
<use href="#md" x="213.5" y="333.9"/>
<use href="#mm" x="80.9" y="316.4"/>
<use href="#mk" x="103.2" y="309.2"/>
<use href="#mk" x="127.3" y="299.4"/>
<use href="#mk" x="126.1" y="298.9"/>
<use href="#mk" x="116.2" y="306.4"/>
<use href="#md" x="85.6" y="309.6"/>
<use href="#md" x="123.4" y="299"/>
<use href="#mk" x="120.2" y="301.1"/>
<use href="#md" x="182.5" y="330.5"/>
<use href="#md" x="89.4" y="310.9"/>
<use href="#md" x="84.3" y="309.4"/>
<use href="#mk" x="111.5" y="305.5"/>
<use href="#mk" x="101.4" y="307.9"/>
<use href="#mk" x="92.3" y="307.8"/>
</g>
<mask id="clipbp" maskUnits="userSpaceOnUse" x="0" y="0" width="501" height="550"><path d="M44 344.5L44 335.5L46 333.5L58 333.5L62 331.5L66 331L70 333L76 332L77 290L80 285L85 280L90 277.5L100 272.5L108 274L115 275L122 277.5L128 276L135 275L138 278L142 287L146 297L150 303L155 304L160 302.4L164 308L167.4 315L175 317.4L185 322.4L192.4 330L196 322L200 318.6L205 325L212.4 318.6L216 323L220 325L225 321L230 318.6L237.3 316L239 320L239.2 336L239.2 344.5Z" fill="#fff" stroke="#000" stroke-width="3" stroke-linejoin="round"/></mask>
<g clip-path="url(#clipb)"><g mask="url(#clipbp)">
<path d="M57.5 344.5L57.5 336L60.5 333.2L69.5 332.6L75.5 332L76.9 329.3L78.5 313.9L80.3 308.7L87.5 306.6L96.5 305.8L105.5 304.9L114.5 302.1L123.5 297.4L127.5 293.8L131.5 291.9L134.5 293.8L137 297.4L142.4 305.8L147.7 312.3L154.9 318L160.3 321.6L173.5 326.7L191.5 329.8L218.5 332L235.5 334.5L239.5 336L239.5 344.5Z" fill="#1d4c98" filter="url(#b2)" opacity="0.8"/>
<path d="M58.5 344.5L58.5 336.5L61.5 333.9L70.5 333.4L76.5 332.8L77.9 330.3L79.5 316.1L81.3 311.3L88.5 309.4L97.5 308.7L106.5 307.8L115.5 305.2L124.5 300.9L128.5 297.6L130.5 295.8L133.5 297.6L136 300.9L141.4 308.7L146.7 314.6L153.9 319.9L159.3 323.2L172.5 327.9L190.5 330.8L217.5 332.8L234.5 335.1L238.5 336.5L238.5 344.5Z" fill="#1a6c78" filter="url(#b2)" opacity="0.95"/>
<path d="M60 344.5L60 336.5L63 334.5L76 334L79 331L80.8 328L97 322.5L115 315.3L124 309.5L131 305.4L137 309.5L141.9 315.3L150.8 322.5L159.8 327L173 330.5L191 333L218 334.6L235 336.5L235 344.5Z" fill="#1e7d28" filter="url(#b3)"/>
<path d="M64 344.5L64 336.5L67 335.3L80 335L83 333.2L84.8 331.4L101 328.1L119 323.8L128 320.3L135 317.8L133 320.3L137.9 323.8L146.8 328.1L155.8 330.8L169 332.9L187 334.4L214 335.4L231 336.5L231 344.5Z" fill="#33801c" filter="url(#b3)" opacity="0.7"/>
<path d="M82 344.5L82 336.5L92 332.5L102 329.5L112 326.5L120 324L127 322.5L134 323.5L142 326.5L152 330L165 333L180 335.5L185 336.5L185 344.5Z" fill="#646c18" filter="url(#b2)"/>
<path d="M91.6 344.5L91.6 336.5L100 334L110 331.5L120 329.3L125.7 328.8L132 329.3L140 331L150 333.5L158 336.5L158 344.5Z" fill="#a81424" filter="url(#b1)"/>
<path d="M95.6 344.5L95.6 336.5L104 334.9L114 333.4L124 332L121.7 331.7L128 332L136 333.1L146 334.6L154 336.5L154 344.5Z" fill="#860e38" filter="url(#b1)"/>
<path d="M108 344.5L108 336.5L115 333L122 331.5L130 331.2L138 332.5L145 335L148 336.5L148 344.5Z" fill="#82108a" filter="url(#b1)"/>
<ellipse cx="128" cy="335.9" rx="12" ry="2" fill="#a844b4" filter="url(#b1)"/>
<path d="M143.6 318h0.9v0.9h-0.9zM219.3 334.3h0.9v0.9h-0.9zM168.4 326.1h0.9v0.9h-0.9zM197.7 333.5h0.9v0.9h-0.9zM191.1 332.6h0.9v0.9h-0.9zM157.8 321.3h0.9v0.9h-0.9zM235.7 335.3h0.9v0.9h-0.9zM108.2 309.3h0.9v0.9h-0.9zM133.6 299.9h0.9v0.9h-0.9zM151.7 327.5h0.9v0.9h-0.9zM98.3 307.6h0.9v0.9h-0.9zM77.5 332.5h0.9v0.9h-0.9zM116 306.1h0.9v0.9h-0.9zM183.8 329.8h0.9v0.9h-0.9zM91.9 324h0.9v0.9h-0.9zM229 334.5h0.9v0.9h-0.9zM96.4 311.6h0.9v0.9h-0.9zM182.1 334.7h0.9v0.9h-0.9zM197.1 334.4h0.9v0.9h-0.9zM182.6 333.3h0.9v0.9h-0.9zM220.5 333h0.9v0.9h-0.9zM169.5 331.3h0.9v0.9h-0.9zM206.4 331.9h0.9v0.9h-0.9zM216.8 335h0.9v0.9h-0.9zM74.5 333.7h0.9v0.9h-0.9zM137.8 302.6h0.9v0.9h-0.9zM107.3 309.4h0.9v0.9h-0.9zM206.7 332.2h0.9v0.9h-0.9zM81 324.9h0.9v0.9h-0.9zM151.2 320.4h0.9v0.9h-0.9zM191.5 331.5h0.9v0.9h-0.9zM233.4 334.8h0.9v0.9h-0.9zM111.3 322.6h0.9v0.9h-0.9zM207.4 332h0.9v0.9h-0.9zM130.7 311.5h0.9v0.9h-0.9zM186.5 332.3h0.9v0.9h-0.9zM79.9 316.2h0.9v0.9h-0.9zM212.6 333h0.9v0.9h-0.9zM201.5 331.3h0.9v0.9h-0.9zM67.3 335h0.9v0.9h-0.9zM195.7 331.6h0.9v0.9h-0.9zM166 331.1h0.9v0.9h-0.9zM105.5 306.6h0.9v0.9h-0.9zM152.1 324.9h0.9v0.9h-0.9zM140.9 311.4h0.9v0.9h-0.9zM190.9 333.9h0.9v0.9h-0.9zM137.1 309.9h0.9v0.9h-0.9zM226.8 335.2h0.9v0.9h-0.9zM226.9 334.9h0.9v0.9h-0.9zM63.9 334.7h0.9v0.9h-0.9zM146.1 313.9h0.9v0.9h-0.9zM123.5 306.4h0.9v0.9h-0.9zM229.3 335.5h0.9v0.9h-0.9zM105.4 314.7h0.9v0.9h-0.9zM228.9 335.5h0.9v0.9h-0.9zM117.1 315.7h0.9v0.9h-0.9zM120.7 304.4h0.9v0.9h-0.9zM206 333.8h0.9v0.9h-0.9zM231.9 334.7h0.9v0.9h-0.9zM219.3 334.8h0.9v0.9h-0.9zM178.6 329h0.9v0.9h-0.9zM204.1 332h0.9v0.9h-0.9zM169.8 332.3h0.9v0.9h-0.9zM77 332h0.9v0.9h-0.9zM68.7 333.3h0.9v0.9h-0.9zM116.4 309.1h0.9v0.9h-0.9zM200.3 331.3h0.9v0.9h-0.9zM98.3 328.5h0.9v0.9h-0.9zM151.9 317.1h0.9v0.9h-0.9zM142.9 316.6h0.9v0.9h-0.9zM150.4 326.6h0.9v0.9h-0.9zM192.1 330.6h0.9v0.9h-0.9zM99.6 325.3h0.9v0.9h-0.9zM227.9 335.1h0.9v0.9h-0.9zM151.1 319.9h0.9v0.9h-0.9zM62.4 334.9h0.9v0.9h-0.9zM212.9 332.7h0.9v0.9h-0.9zM72.4 334.1h0.9v0.9h-0.9zM156.3 321.5h0.9v0.9h-0.9zM209.8 332h0.9v0.9h-0.9zM211.2 333.2h0.9v0.9h-0.9zM163.7 326.5h0.9v0.9h-0.9zM168.6 326.8h0.9v0.9h-0.9zM222.6 335h0.9v0.9h-0.9zM60.9 334.4h0.9v0.9h-0.9zM96.6 316.3h0.9v0.9h-0.9zM62.3 335.4h0.9v0.9h-0.9zM179.6 331.1h0.9v0.9h-0.9zM106.4 312.2h0.9v0.9h-0.9zM153.1 321.1h0.9v0.9h-0.9zM79.3 314.4h0.9v0.9h-0.9zM208.9 332.2h0.9v0.9h-0.9zM76.9 335.2h0.9v0.9h-0.9zM120.5 301.1h0.9v0.9h-0.9zM61 334.2h0.9v0.9h-0.9zM118.4 312.3h0.9v0.9h-0.9zM158.5 328.9h0.9v0.9h-0.9zM78.3 323.7h0.9v0.9h-0.9zM66.5 333.6h0.9v0.9h-0.9zM82 310.6h0.9v0.9h-0.9zM217.4 333.7h0.9v0.9h-0.9zM162.7 326.1h0.9v0.9h-0.9zM158 325.9h0.9v0.9h-0.9zM167.3 332.1h0.9v0.9h-0.9zM226.3 334.3h0.9v0.9h-0.9zM184.4 332.2h0.9v0.9h-0.9zM219.6 335.5h0.9v0.9h-0.9zM147.2 313.5h0.9v0.9h-0.9zM148.9 317.4h0.9v0.9h-0.9zM112.6 305.9h0.9v0.9h-0.9zM204.7 331.8h0.9v0.9h-0.9zM87.1 315.5h0.9v0.9h-0.9zM107 317.1h0.9v0.9h-0.9zM120.5 316.6h0.9v0.9h-0.9zM137.8 301.7h0.9v0.9h-0.9zM167.8 327.3h0.9v0.9h-0.9zM157.7 322.7h0.9v0.9h-0.9zM61.1 335.4h0.9v0.9h-0.9zM75.5 332.6h0.9v0.9h-0.9zM139.6 304.8h0.9v0.9h-0.9zM221.5 333.5h0.9v0.9h-0.9zM157.1 323.4h0.9v0.9h-0.9zM219.8 335.4h0.9v0.9h-0.9zM85.6 331.2h0.9v0.9h-0.9zM184.8 330.7h0.9v0.9h-0.9zM135.4 303.1h0.9v0.9h-0.9zM164.4 327.4h0.9v0.9h-0.9zM208.2 333.1h0.9v0.9h-0.9zM116.3 304.6h0.9v0.9h-0.9zM164.4 324.3h0.9v0.9h-0.9zM90.6 310.7h0.9v0.9h-0.9zM116 303.3h0.9v0.9h-0.9zM162 323.8h0.9v0.9h-0.9zM114.3 305.7h0.9v0.9h-0.9zM91.5 321.9h0.9v0.9h-0.9zM116.5 314.6h0.9v0.9h-0.9zM89.6 323.2h0.9v0.9h-0.9zM85.7 328.5h0.9v0.9h-0.9zM214.7 332.4h0.9v0.9h-0.9zM146.8 326.2h0.9v0.9h-0.9zM160.7 323.2h0.9v0.9h-0.9zM87.7 317.4h0.9v0.9h-0.9zM104.2 311.6h0.9v0.9h-0.9zM209.4 334.5h0.9v0.9h-0.9zM179 333.3h0.9v0.9h-0.9zM82.3 328.4h0.9v0.9h-0.9zM139.7 306.7h0.9v0.9h-0.9zM72.2 335.1h0.9v0.9h-0.9zM127.3 307.4h0.9v0.9h-0.9zM144.7 321h0.9v0.9h-0.9zM146.4 325.8h0.9v0.9h-0.9zM184.2 330.2h0.9v0.9h-0.9zM91.1 328.5h0.9v0.9h-0.9zM132 318.6h0.9v0.9h-0.9zM62.8 333.9h0.9v0.9h-0.9zM163.7 326.3h0.9v0.9h-0.9zM155.4 324.3h0.9v0.9h-0.9zM135.1 299.9h0.9v0.9h-0.9zM214.2 334.3h0.9v0.9h-0.9zM177.4 334.1h0.9v0.9h-0.9zM73.8 334.4h0.9v0.9h-0.9zM108.4 320.3h0.9v0.9h-0.9zM190.6 333.9h0.9v0.9h-0.9zM211.3 333.8h0.9v0.9h-0.9zM195 335.3h0.9v0.9h-0.9zM222.7 335h0.9v0.9h-0.9zM223.6 335.1h0.9v0.9h-0.9zM233.2 335h0.9v0.9h-0.9zM168.7 331.9h0.9v0.9h-0.9zM173 328h0.9v0.9h-0.9zM108 306.3h0.9v0.9h-0.9zM175.8 328.1h0.9v0.9h-0.9zM90.1 324.4h0.9v0.9h-0.9zM84.3 321.3h0.9v0.9h-0.9zM235.6 335.4h0.9v0.9h-0.9zM84.8 313.2h0.9v0.9h-0.9zM141 308.7h0.9v0.9h-0.9zM172.5 333.2h0.9v0.9h-0.9zM129.6 295.4h0.9v0.9h-0.9zM72.2 333.6h0.9v0.9h-0.9zM80.6 321h0.9v0.9h-0.9zM124.1 305.2h0.9v0.9h-0.9zM147.6 324.2h0.9v0.9h-0.9zM203.3 335.1h0.9v0.9h-0.9zM84.2 317.3h0.9v0.9h-0.9zM83.8 329.5h0.9v0.9h-0.9zM64.6 334.4h0.9v0.9h-0.9zM179.4 329.9h0.9v0.9h-0.9zM72.4 333.9h0.9v0.9h-0.9zM60.3 335h0.9v0.9h-0.9zM110.4 308.4h0.9v0.9h-0.9zM226.8 333.9h0.9v0.9h-0.9zM108.5 326.1h0.9v0.9h-0.9zM70.3 334.6h0.9v0.9h-0.9zM87.2 326.5h0.9v0.9h-0.9zM138.3 308.1h0.9v0.9h-0.9zM95.7 307.4h0.9v0.9h-0.9zM190.8 331.2h0.9v0.9h-0.9zM62.4 334.7h0.9v0.9h-0.9zM85.7 317.2h0.9v0.9h-0.9zM170.3 329h0.9v0.9h-0.9zM234.8 335.1h0.9v0.9h-0.9zM134.3 311.8h0.9v0.9h-0.9zM100.6 310.7h0.9v0.9h-0.9zM101.3 312.3h0.9v0.9h-0.9zM110.4 313.9h0.9v0.9h-0.9zM79.8 315.1h0.9v0.9h-0.9zM95.8 307.3h0.9v0.9h-0.9zM157.9 321.7h0.9v0.9h-0.9zM213.3 333.8h0.9v0.9h-0.9zM157.4 321h0.9v0.9h-0.9zM96.3 323.6h0.9v0.9h-0.9zM119.3 311h0.9v0.9h-0.9z" fill="#9fe0d0" opacity="0.45"/>
</g></g>
<g clip-path="url(#clipb)">
<use href="#mw" x="151.1" y="310.2"/>
<use href="#mw" x="96.1" y="278.7"/>
<use href="#mw" x="234.3" y="321.2"/>
<use href="#ml" x="210.6" y="322.1"/>
<use href="#ml" x="105" y="273.1"/>
<use href="#ml" x="236.7" y="332.1"/>
<use href="#ml" x="128.9" y="282.4"/>
<use href="#ml" x="81.7" y="288.6"/>
<use href="#ml" x="139.8" y="297.7"/>
<use href="#ml" x="86" y="288.3"/>
<use href="#mw" x="230.8" y="322.7"/>
<use href="#ml" x="103.6" y="283.4"/>
<use href="#mw" x="82.7" y="288.5"/>
<use href="#ml" x="129.7" y="279.8"/>
<use href="#mw" x="118.4" y="279.2"/>
<use href="#mw" x="117.1" y="280.5"/>
<use href="#ml" x="219.1" y="329.5"/>
<use href="#mw" x="198.7" y="327.6"/>
<use href="#ml" x="109.5" y="278.6"/>
<use href="#ml" x="129.2" y="284.2"/>
<use href="#ml" x="97.8" y="276.6"/>
<use href="#ml" x="114.7" y="279.5"/>
<use href="#mw" x="203.6" y="327.2"/>
<use href="#ml" x="138.7" y="296.1"/>
<use href="#mw" x="164.6" y="315.4"/>
<use href="#mm" x="103.8" y="279.3"/>
<use href="#mm" x="90.2" y="301.6"/>
<use href="#mm" x="95.8" y="302.8"/>
<use href="#mm" x="170.5" y="321.7"/>
<use href="#mm" x="167.8" y="317.1"/>
<use href="#mm" x="113.8" y="301.2"/>
<use href="#mw" x="138.8" y="288.1"/>
<use href="#mm" x="113.3" y="278.6"/>
<use href="#ml" x="235.6" y="319.4"/>
<use href="#mm" x="140" y="290.2"/>
<use href="#mm" x="122.3" y="281.8"/>
<use href="#mm" x="135.4" y="286"/>
<use href="#mw" x="211.2" y="327.2"/>
<use href="#mm" x="167.2" y="321.4"/>
<use href="#mw" x="225.8" y="326.2"/>
<use href="#mm" x="99" y="275.3"/>
<use href="#ml" x="232.1" y="321.2"/>
<use href="#ml" x="46.4" y="336.3"/>
<use href="#mm" x="158.9" y="320.2"/>
<use href="#ml" x="126.3" y="280.7"/>
<use href="#mw" x="145.9" y="304.1"/>
<use href="#ml" x="145.9" y="304.7"/>
<use href="#mm" x="109.3" y="286.9"/>
<use href="#ml" x="212.6" y="328"/>
<use href="#mm" x="96.1" y="296.7"/>
<use href="#mm" x="152.5" y="310.1"/>
<use href="#mw" x="81.2" y="300.8"/>
<use href="#mm" x="90.4" y="306"/>
<use href="#ml" x="138.1" y="289.7"/>
<use href="#mm" x="236.4" y="325"/>
<use href="#mm" x="128.4" y="279.3"/>
<use href="#mm" x="157.8" y="307.3"/>
<use href="#mw" x="232.6" y="317.3"/>
<use href="#ml" x="107.9" y="276.1"/>
<use href="#mw" x="82.7" y="286.3"/>
<use href="#ml" x="47.4" y="336"/>
<use href="#mm" x="207.2" y="326.9"/>
<use href="#mw" x="118.8" y="280.2"/>
<use href="#ml" x="115" y="283.6"/>
<use href="#mm" x="130.2" y="285.2"/>
<use href="#ml" x="80.7" y="296.1"/>
<use href="#mm" x="218.9" y="330.9"/>
<use href="#ml" x="126.7" y="279.6"/>
<use href="#mm" x="233.6" y="326.7"/>
<use href="#mm" x="105.2" y="289.3"/>
<use href="#mm" x="155" y="308.5"/>
<use href="#mm" x="141" y="295.3"/>
<use href="#mm" x="104.9" y="277.7"/>
<use href="#mw" x="116.3" y="282.9"/>
<use href="#md" x="114.1" y="294.2"/>
<use href="#md" x="177.1" y="324"/>
<use href="#mm" x="156.3" y="318.4"/>
<use href="#ml" x="147.2" y="309.5"/>
<use href="#mm" x="219" y="327.2"/>
<use href="#ml" x="158.8" y="310.6"/>
<use href="#mm" x="84.9" y="291.4"/>
<use href="#mm" x="81.1" y="306"/>
<use href="#ml" x="235.9" y="319.3"/>
<use href="#ml" x="143.1" y="301.2"/>
<use href="#ml" x="108.5" y="280.6"/>
<use href="#mm" x="95.3" y="287.9"/>
<use href="#mm" x="129.4" y="290.2"/>
<use href="#mm" x="234.5" y="322.8"/>
<use href="#ml" x="95.9" y="277.2"/>
<use href="#md" x="124.9" y="294.6"/>
<use href="#md" x="90.5" y="291.5"/>
<use href="#mm" x="142.7" y="297.9"/>
<use href="#md" x="109.7" y="296.9"/>
<use href="#mw" x="113.5" y="277.2"/>
<use href="#md" x="156.2" y="314.5"/>
<use href="#mm" x="129.9" y="284"/>
<use href="#ml" x="178.5" y="325.4"/>
<use href="#mm" x="100.1" y="291.5"/>
<use href="#mm" x="114.1" y="292.2"/>
<use href="#md" x="77.9" y="295.3"/>
<use href="#ml" x="110.4" y="280.1"/>
<use href="#ml" x="123.3" y="292.3"/>
<use href="#ml" x="199.5" y="324.6"/>
<use href="#md" x="99.2" y="289.2"/>
<use href="#md" x="119.2" y="295"/>
<use href="#md" x="226.1" y="325.3"/>
<use href="#ml" x="233.9" y="325"/>
<use href="#mm" x="92.2" y="298.9"/>
<use href="#ml" x="92.8" y="280.5"/>
<use href="#md" x="199.1" y="327"/>
<use href="#mw" x="95.4" y="282"/>
<use href="#ml" x="131.3" y="280.7"/>
<use href="#mm" x="92.5" y="283"/>
<use href="#mw" x="163.8" y="314"/>
<use href="#md" x="87.5" y="289.5"/>
<use href="#mm" x="108.9" y="297.9"/>
<use href="#mm" x="107.1" y="286.7"/>
<use href="#md" x="111" y="299.1"/>
<use href="#md" x="86.6" y="282"/>
<use href="#md" x="223.5" y="330.4"/>
<use href="#md" x="172.9" y="316.4"/>
<use href="#md" x="115.5" y="301.2"/>
<use href="#md" x="156.6" y="305.9"/>
<use href="#ml" x="137.8" y="289.4"/>
<use href="#ml" x="95.7" y="294.2"/>
<use href="#mm" x="120.2" y="291.1"/>
<use href="#mm" x="176.5" y="326.8"/>
<use href="#mk" x="95.2" y="294.4"/>
<use href="#md" x="128.2" y="286.3"/>
<use href="#ml" x="85.2" y="293.6"/>
<use href="#mm" x="197.3" y="326.6"/>
<use href="#mm" x="145.2" y="308.3"/>
<use href="#mw" x="101.9" y="280.3"/>
<use href="#ml" x="124.7" y="297.2"/>
<use href="#ml" x="233.9" y="322"/>
<use href="#mm" x="159.3" y="315.8"/>
<use href="#mm" x="231.6" y="323"/>
<use href="#mm" x="130.5" y="289"/>
<use href="#mm" x="158.1" y="304.9"/>
<use href="#mk" x="109.2" y="285.7"/>
<use href="#md" x="105.1" y="298.6"/>
<use href="#mm" x="100" y="287.7"/>
<use href="#mm" x="161.6" y="321.1"/>
<use href="#md" x="114.2" y="296.3"/>
<use href="#mm" x="224.1" y="329.4"/>
<use href="#ml" x="122.3" y="277.7"/>
<use href="#ml" x="230.8" y="320.8"/>
<use href="#mm" x="127" y="290.6"/>
<use href="#mm" x="207.1" y="330.6"/>
<use href="#mw" x="123.2" y="281.1"/>
<use href="#mm" x="90.2" y="287.3"/>
<use href="#mk" x="117.9" y="284.4"/>
<use href="#mk" x="99.2" y="305.4"/>
<use href="#mk" x="105.1" y="297.5"/>
<use href="#mm" x="170.4" y="323.9"/>
<use href="#mw" x="211.1" y="323.4"/>
<use href="#mm" x="96.7" y="296.4"/>
<use href="#mm" x="200.8" y="323.3"/>
<use href="#ml" x="89.3" y="284.7"/>
<use href="#md" x="140.6" y="296"/>
<use href="#md" x="134.2" y="277.8"/>
<use href="#ml" x="197.2" y="328.5"/>
<use href="#mm" x="95.9" y="291.1"/>
<use href="#mm" x="233.2" y="321.8"/>
<use href="#mm" x="160.9" y="311.7"/>
<use href="#mk" x="110.8" y="300.4"/>
<use href="#mm" x="155.4" y="311.6"/>
<use href="#md" x="150.4" y="307.8"/>
<use href="#mm" x="140.8" y="302.2"/>
<use href="#mk" x="111" y="294.2"/>
<use href="#md" x="105.6" y="302.4"/>
<use href="#mm" x="106.1" y="297.4"/>
<use href="#mk" x="119.7" y="291.1"/>
<use href="#mm" x="109.7" y="301.7"/>
<use href="#mk" x="101.7" y="305.8"/>
<use href="#ml" x="199.8" y="326.2"/>
<use href="#md" x="140.6" y="288.7"/>
<use href="#md" x="120.7" y="290.7"/>
<use href="#mm" x="91.9" y="278.6"/>
<use href="#md" x="127.7" y="287.5"/>
<use href="#mm" x="118" y="279.7"/>
<use href="#mw" x="82" y="304.7"/>
<use href="#md" x="107.8" y="280.9"/>
<use href="#mm" x="157.6" y="306.3"/>
<use href="#mm" x="138" y="279.1"/>
<use href="#mm" x="217.5" y="329.4"/>
<use href="#mm" x="111.6" y="279.2"/>
<use href="#mm" x="110.1" y="276"/>
<use href="#mm" x="134.2" y="280.8"/>
<use href="#mw" x="82.5" y="303.6"/>
<use href="#md" x="109.1" y="280.6"/>
<use href="#mm" x="100.6" y="296.6"/>
<use href="#md" x="114.4" y="292.8"/>
<use href="#ml" x="153.2" y="307.3"/>
<use href="#mk" x="98.8" y="286.2"/>
<use href="#md" x="131.8" y="290"/>
<use href="#mm" x="177.9" y="324.7"/>
<use href="#ml" x="122.3" y="281.7"/>
<use href="#mm" x="183" y="324.5"/>
<use href="#mm" x="111.3" y="288.1"/>
<use href="#mm" x="81.1" y="300.1"/>
<use href="#ml" x="108.7" y="280"/>
<use href="#mk" x="152.1" y="315.2"/>
<use href="#mm" x="109.9" y="282.9"/>
<use href="#mm" x="83.3" y="290"/>
<use href="#ml" x="134.4" y="278.5"/>
<use href="#mm" x="95.4" y="291.3"/>
<use href="#mk" x="87.9" y="298.8"/>
<use href="#mk" x="104.3" y="292.4"/>
<use href="#mk" x="109.5" y="297.7"/>
<use href="#mm" x="175.4" y="319.9"/>
<use href="#ml" x="211.5" y="321.4"/>
<use href="#ml" x="140.5" y="298.1"/>
<use href="#ml" x="197.9" y="323.6"/>
<use href="#mm" x="121.6" y="292.4"/>
<use href="#md" x="102" y="301.1"/>
<use href="#mm" x="135.6" y="284.5"/>
<use href="#mm" x="121.6" y="286.2"/>
<use href="#md" x="55.3" y="336"/>
<use href="#mm" x="149" y="313"/>
<use href="#mm" x="86.4" y="292.6"/>
<use href="#mk" x="92" y="299"/>
<use href="#mm" x="232.8" y="327.8"/>
<use href="#mm" x="233" y="327.8"/>
<use href="#ml" x="155.1" y="317.6"/>
<use href="#mm" x="92.3" y="292.9"/>
<use href="#md" x="99" y="291.8"/>
<use href="#mk" x="117" y="301.2"/>
<use href="#mm" x="233.8" y="330.6"/>
<use href="#mm" x="97.1" y="291"/>
<use href="#ml" x="223.9" y="331.8"/>
<use href="#mm" x="115.2" y="301.9"/>
<use href="#md" x="117.9" y="293.7"/>
<use href="#ml" x="87.3" y="290.5"/>
<use href="#mm" x="129.5" y="278.1"/>
<use href="#ml" x="99.7" y="283.2"/>
<use href="#mk" x="117.4" y="295"/>
<use href="#md" x="110.5" y="290.5"/>
<use href="#ml" x="117.3" y="279"/>
<use href="#mm" x="199" y="324.4"/>
<use href="#ml" x="233" y="321.9"/>
<use href="#md" x="161.2" y="304.9"/>
<use href="#ml" x="84.5" y="307.4"/>
<use href="#ml" x="103.2" y="276.4"/>
<use href="#mm" x="216.2" y="327.3"/>
<use href="#mk" x="129.8" y="286.7"/>
<use href="#md" x="232.1" y="325.7"/>
<use href="#mm" x="139.9" y="287.6"/>
<use href="#ml" x="215.5" y="326.6"/>
<use href="#mm" x="83.9" y="290.8"/>
<use href="#md" x="166.4" y="321.3"/>
<use href="#md" x="109.2" y="303.5"/>
<use href="#mm" x="82.2" y="295.4"/>
<use href="#mm" x="165.6" y="319.5"/>
<use href="#ml" x="86.5" y="286.7"/>
<use href="#mm" x="89.9" y="305"/>
<use href="#mm" x="131.2" y="292.6"/>
<use href="#ml" x="77.8" y="316.3"/>
<use href="#ml" x="164.8" y="320.8"/>
<use href="#md" x="130" y="287.7"/>
<use href="#md" x="127" y="289.2"/>
<use href="#mm" x="80.8" y="291"/>
<use href="#md" x="96.1" y="287.2"/>
<use href="#mk" x="109.7" y="295.6"/>
<use href="#mk" x="99.3" y="303"/>
<use href="#mm" x="93" y="301.4"/>
<use href="#mk" x="100.1" y="284.3"/>
<use href="#md" x="99.7" y="288.1"/>
<use href="#mk" x="97.1" y="282.5"/>
<use href="#mm" x="235.3" y="317.4"/>
<use href="#mk" x="109.6" y="297.8"/>
<use href="#md" x="138.9" y="291.2"/>
<use href="#mk" x="107.1" y="294.2"/>
<use href="#mk" x="91.2" y="301.4"/>
<use href="#mk" x="113.4" y="297.1"/>
<use href="#mm" x="223.4" y="331.4"/>
<use href="#md" x="116.8" y="289.7"/>
<use href="#mm" x="131.9" y="280.1"/>
<use href="#md" x="115.3" y="291"/>
<use href="#md" x="119.5" y="288"/>
<use href="#mm" x="114.7" y="294.7"/>
<use href="#md" x="96.6" y="284.4"/>
<use href="#mk" x="230" y="332.2"/>
<use href="#md" x="117.4" y="292.8"/>
<use href="#mm" x="122.9" y="292.3"/>
<use href="#mm" x="149.7" y="308.1"/>
<use href="#mk" x="114.7" y="295.8"/>
<use href="#md" x="82.4" y="296.5"/>
<use href="#md" x="123.6" y="295.2"/>
<use href="#md" x="220.4" y="331.4"/>
<use href="#mm" x="102.3" y="293.3"/>
<use href="#mk" x="102.6" y="295.1"/>
<use href="#mk" x="136.2" y="286.9"/>
<use href="#mm" x="213.1" y="324.8"/>
<use href="#mm" x="199.2" y="327.6"/>
<use href="#mm" x="80.6" y="298.5"/>
<use href="#md" x="159.6" y="307.8"/>
<use href="#mm" x="120.6" y="287.8"/>
<use href="#md" x="228.7" y="325.8"/>
<use href="#mk" x="105.6" y="293.6"/>
<use href="#md" x="102.7" y="290.1"/>
<use href="#mk" x="84.3" y="303.8"/>
<use href="#mk" x="114.9" y="299.2"/>
<use href="#mm" x="162.2" y="314.6"/>
<use href="#mk" x="126.4" y="292.1"/>
<use href="#mm" x="125.9" y="281.1"/>
<use href="#md" x="116.3" y="300.8"/>
<use href="#md" x="49.1" y="336"/>
<use href="#md" x="113.4" y="291.7"/>
<use href="#md" x="97.8" y="277.6"/>
<use href="#md" x="125.1" y="292.1"/>
<use href="#md" x="145.2" y="294.6"/>
<use href="#mk" x="97.2" y="296.7"/>
<use href="#md" x="111.9" y="300.1"/>
<use href="#md" x="108.5" y="279.4"/>
<use href="#md" x="133.1" y="280.8"/>
<use href="#mk" x="87.7" y="301"/>
<use href="#mk" x="82" y="299.3"/>
<use href="#mk" x="102.4" y="304.1"/>
<use href="#md" x="187.6" y="326.2"/>
<use href="#mk" x="106.4" y="295.8"/>
<use href="#mk" x="92.5" y="297.3"/>
<use href="#mk" x="107.4" y="296.1"/>
<use href="#mk" x="223.1" y="332.2"/>
<use href="#mk" x="107.4" y="284.2"/>
<use href="#mk" x="105.9" y="291.5"/>
<use href="#mk" x="113.3" y="292.5"/>
<use href="#mk" x="102.8" y="304.4"/>
<use href="#mk" x="110.7" y="301.7"/>
<use href="#mk" x="106.2" y="295.2"/>
<path d="M154 314.8l1.3 1.3l-1.3 1.3l-1.3 -1.3zM81 306l0.9 0.9l-0.9 0.9l-0.9 -0.9zM102 275.5l1.2 1.2l-1.2 1.2l-1.2 -1.2zM109 285.5l1.1 1.1l-1.1 1.1l-1.1 -1.1zM115 294.9l1.1 1.1l-1.1 1.1l-1.1 -1.1zM95.5 291l1 1l-1 1l-1 -1zM175 327.3l1.1 1.1l-1.1 1.1l-1.1 -1.1zM128 286.1l0.9 0.9l-0.9 0.9l-0.9 -0.9zM112.5 294.3l1.3 1.3l-1.3 1.3l-1.3 -1.3zM100 302.9l1.5 1.5l-1.5 1.5l-1.5 -1.5zM119 303.5l1 1l-1 1l-1 -1zM136 295.8l1.4 1.4l-1.4 1.4l-1.4 -1.4zM115.5 291.5l1.3 1.3l-1.3 1.3l-1.3 -1.3zM231 327l1.1 1.1l-1.1 1.1l-1.1 -1.1zM215 327.4l1.3 1.3l-1.3 1.3l-1.3 -1.3zM116 294.9l1 1l-1 1l-1 -1zM155.5 308.9l1.1 1.1l-1.1 1.1l-1.1 -1.1zM95.5 306.7l1.4 1.4l-1.4 1.4l-1.4 -1.4zM172 324.6l1.2 1.2l-1.2 1.2l-1.2 -1.2zM88 305.5l1.4 1.4l-1.4 1.4l-1.4 -1.4zM230 332.1l1.2 1.2l-1.2 1.2l-1.2 -1.2zM148 312.3l1.2 1.2l-1.2 1.2l-1.2 -1.2zM91.5 290.3l1.2 1.2l-1.2 1.2l-1.2 -1.2zM107 304.9l0.9 0.9l-0.9 0.9l-0.9 -0.9zM115 278.6l1 1l-1 1l-1 -1zM136.5 300.2l1.2 1.2l-1.2 1.2l-1.2 -1.2zM175.5 324.4l1.3 1.3l-1.3 1.3l-1.3 -1.3zM94.5 302.4l1.3 1.3l-1.3 1.3l-1.3 -1.3zM104.5 307.2l1.1 1.1l-1.1 1.1l-1.1 -1.1zM96.5 290.3l1 1l-1 1l-1 -1zM114.5 281.3l1 1l-1 1l-1 -1zM106.5 295.2l0.9 0.9l-0.9 0.9l-0.9 -0.9zM114.5 299.3l1.4 1.4l-1.4 1.4l-1.4 -1.4zM97 276.8l1.5 1.5l-1.5 1.5l-1.5 -1.5zM216 327.7l1.5 1.5l-1.5 1.5l-1.5 -1.5zM99 279.7l1.2 1.2l-1.2 1.2l-1.2 -1.2zM101 279.5l1.4 1.4l-1.4 1.4l-1.4 -1.4zM155 316.4l1 1l-1 1l-1 -1zM209.5 326.7l1.5 1.5l-1.5 1.5l-1.5 -1.5zM140.5 298.1l0.9 0.9l-0.9 0.9l-0.9 -0.9zM85 300.4l1.3 1.3l-1.3 1.3l-1.3 -1.3zM107 287.7l1.2 1.2l-1.2 1.2l-1.2 -1.2zM60.5 335.1l1.1 1.1l-1.1 1.1l-1.1 -1.1zM73.5 334.8l0.9 0.9l-0.9 0.9l-0.9 -0.9zM193 332.6l1.4 1.4l-1.4 1.4l-1.4 -1.4zM103 287.4l1.1 1.1l-1.1 1.1l-1.1 -1.1zM82.5 298.4l1.2 1.2l-1.2 1.2l-1.2 -1.2zM96 281.6l1.2 1.2l-1.2 1.2l-1.2 -1.2zM93 300l1.5 1.5l-1.5 1.5l-1.5 -1.5zM166 320.9l1.5 1.5l-1.5 1.5l-1.5 -1.5zM97 304.1l1.5 1.5l-1.5 1.5l-1.5 -1.5zM221 329.2l0.9 0.9l-0.9 0.9l-0.9 -0.9zM231.5 324.5l1.5 1.5l-1.5 1.5l-1.5 -1.5zM83 297.1l1 1l-1 1l-1 -1zM174.5 322l1 1l-1 1l-1 -1zM138.5 297.1l1.2 1.2l-1.2 1.2l-1.2 -1.2zM145 300.3l1.2 1.2l-1.2 1.2l-1.2 -1.2zM102.5 292.5l1.2 1.2l-1.2 1.2l-1.2 -1.2zM83.5 302.4l0.9 0.9l-0.9 0.9l-0.9 -0.9zM84 305.2l1.2 1.2l-1.2 1.2l-1.2 -1.2zM179 325.8l1.1 1.1l-1.1 1.1l-1.1 -1.1zM234.5 328.1l1.3 1.3l-1.3 1.3l-1.3 -1.3zM140 304.2l1 1l-1 1l-1 -1zM94 291.9l0.9 0.9l-0.9 0.9l-0.9 -0.9zM103 281l1.1 1.1l-1.1 1.1l-1.1 -1.1zM130.5 296l1.1 1.1l-1.1 1.1l-1.1 -1.1zM125.5 289.8l1 1l-1 1l-1 -1zM87 296.6l1 1l-1 1l-1 -1zM120 284l1 1l-1 1l-1 -1zM141.5 303.3l1.2 1.2l-1.2 1.2l-1.2 -1.2zM120 285.4l1.4 1.4l-1.4 1.4l-1.4 -1.4zM160 311.8l1.1 1.1l-1.1 1.1l-1.1 -1.1zM86 298.3l1.2 1.2l-1.2 1.2l-1.2 -1.2zM139.5 303.8l1.1 1.1l-1.1 1.1l-1.1 -1.1zM120 286.8l1.2 1.2l-1.2 1.2l-1.2 -1.2zM165 324.8l1.5 1.5l-1.5 1.5l-1.5 -1.5zM96 289.2l0.9 0.9l-0.9 0.9l-0.9 -0.9zM140 295.8l1.5 1.5l-1.5 1.5l-1.5 -1.5zM148 308.8l1.1 1.1l-1.1 1.1l-1.1 -1.1zM120.5 284.2l1.2 1.2l-1.2 1.2l-1.2 -1.2zM206 327.1l1.2 1.2l-1.2 1.2l-1.2 -1.2zM161.5 316.6l1.5 1.5l-1.5 1.5l-1.5 -1.5zM90 281.1l1.4 1.4l-1.4 1.4l-1.4 -1.4zM92 305.6l1.4 1.4l-1.4 1.4l-1.4 -1.4zM91 300l1.5 1.5l-1.5 1.5l-1.5 -1.5zM170 325.2l1.5 1.5l-1.5 1.5l-1.5 -1.5zM119 282.6l1 1l-1 1l-1 -1zM173 322.1l1 1l-1 1l-1 -1zM143.5 307.6l1 1l-1 1l-1 -1zM134.5 295.5l1.4 1.4l-1.4 1.4l-1.4 -1.4zM114.5 279.6l1.2 1.2l-1.2 1.2l-1.2 -1.2zM116.5 277.7l1.5 1.5l-1.5 1.5l-1.5 -1.5zM99 278l1.1 1.1l-1.1 1.1l-1.1 -1.1zM166 316.8l1.2 1.2l-1.2 1.2l-1.2 -1.2zM126 291.6l1 1l-1 1l-1 -1zM152 314.5l1.4 1.4l-1.4 1.4l-1.4 -1.4zM232 327.5l1.2 1.2l-1.2 1.2l-1.2 -1.2zM153.5 316.7l1 1l-1 1l-1 -1zM105.5 276.4l1.2 1.2l-1.2 1.2l-1.2 -1.2zM215.5 327.4l1.1 1.1l-1.1 1.1l-1.1 -1.1zM105 281.6l1 1l-1 1l-1 -1zM138 295.9l1.3 1.3l-1.3 1.3l-1.3 -1.3zM229 332.3l0.9 0.9l-0.9 0.9l-0.9 -0.9zM112.5 294.5l1.2 1.2l-1.2 1.2l-1.2 -1.2zM104.5 288.8l1 1l-1 1l-1 -1zM166.5 326.5l1.3 1.3l-1.3 1.3l-1.3 -1.3zM118.5 282.9l1 1l-1 1l-1 -1zM96 291.6l1.3 1.3l-1.3 1.3l-1.3 -1.3zM184 326.3l1 1l-1 1l-1 -1zM152.5 308l1.5 1.5l-1.5 1.5l-1.5 -1.5zM161 312.1l1.4 1.4l-1.4 1.4l-1.4 -1.4zM88.5 304.8l1.2 1.2l-1.2 1.2l-1.2 -1.2zM118.5 284.3l1.2 1.2l-1.2 1.2l-1.2 -1.2zM89 295.8l1.2 1.2l-1.2 1.2l-1.2 -1.2zM162 311.6l1.1 1.1l-1.1 1.1l-1.1 -1.1zM162 314.3l1 1l-1 1l-1 -1zM105 297.2l1 1l-1 1l-1 -1zM94.5 308.3l0.9 0.9l-0.9 0.9l-0.9 -0.9zM111.5 277.4l1.1 1.1l-1.1 1.1l-1.1 -1.1zM153 310.1l1.2 1.2l-1.2 1.2l-1.2 -1.2zM102 276.6l1.5 1.5l-1.5 1.5l-1.5 -1.5zM228.5 328.2l1.5 1.5l-1.5 1.5l-1.5 -1.5zM226.5 327.3l1 1l-1 1l-1 -1zM234.5 334l1.1 1.1l-1.1 1.1l-1.1 -1.1zM123 296.4l1.3 1.3l-1.3 1.3l-1.3 -1.3zM228.5 334l1.2 1.2l-1.2 1.2l-1.2 -1.2zM119.5 280.7l1.4 1.4l-1.4 1.4l-1.4 -1.4zM175.5 327.7l1.4 1.4l-1.4 1.4l-1.4 -1.4zM88 303.1l1 1l-1 1l-1 -1zM97.5 283.3l1.3 1.3l-1.3 1.3l-1.3 -1.3zM126 295.5l1.2 1.2l-1.2 1.2l-1.2 -1.2zM235.5 334.4l0.9 0.9l-0.9 0.9l-0.9 -0.9zM202.5 328.9l1.3 1.3l-1.3 1.3l-1.3 -1.3zM106.5 279.9l1.3 1.3l-1.3 1.3l-1.3 -1.3zM132.5 283.9l1.2 1.2l-1.2 1.2l-1.2 -1.2zM87.5 298.8l1.1 1.1l-1.1 1.1l-1.1 -1.1zM150 308.9l1.2 1.2l-1.2 1.2l-1.2 -1.2zM132 290.2l1 1l-1 1l-1 -1zM95.5 308.8l1.2 1.2l-1.2 1.2l-1.2 -1.2zM112 306l1.3 1.3l-1.3 1.3l-1.3 -1.3zM219 331.3l1.2 1.2l-1.2 1.2l-1.2 -1.2zM92 279.1l1 1l-1 1l-1 -1zM220 332.3l1.5 1.5l-1.5 1.5l-1.5 -1.5zM66 334.8l1.3 1.3l-1.3 1.3l-1.3 -1.3zM107.5 290.3l1.2 1.2l-1.2 1.2l-1.2 -1.2zM91 291.8l1.1 1.1l-1.1 1.1l-1.1 -1.1zM96 293.3l1.1 1.1l-1.1 1.1l-1.1 -1.1zM101.5 289.2l1 1l-1 1l-1 -1zM154.5 321.1l1.2 1.2l-1.2 1.2l-1.2 -1.2zM116 282.7l1 1l-1 1l-1 -1zM138 290.8l1.2 1.2l-1.2 1.2l-1.2 -1.2zM103.5 287.9l1 1l-1 1l-1 -1zM133.5 295.6l1.2 1.2l-1.2 1.2l-1.2 -1.2zM232.5 333l1.1 1.1l-1.1 1.1l-1.1 -1.1zM96.5 280.5l0.9 0.9l-0.9 0.9l-0.9 -0.9zM200.5 332.7l0.9 0.9l-0.9 0.9l-0.9 -0.9zM110 304.4l1.4 1.4l-1.4 1.4l-1.4 -1.4zM122 300.9l1 1l-1 1l-1 -1zM100.5 301.3l1.4 1.4l-1.4 1.4l-1.4 -1.4zM211 323.8l1 1l-1 1l-1 -1zM145 305.4l1.4 1.4l-1.4 1.4l-1.4 -1.4zM137 296.1l1 1l-1 1l-1 -1zM153 314.2l1 1l-1 1l-1 -1zM96 288.8l1 1l-1 1l-1 -1zM101 301.9l1.1 1.1l-1.1 1.1l-1.1 -1.1zM216 327.2l1.4 1.4l-1.4 1.4l-1.4 -1.4zM162 318.6l1.3 1.3l-1.3 1.3l-1.3 -1.3zM231.5 324.3l1.1 1.1l-1.1 1.1l-1.1 -1.1zM100.5 303.5l1 1l-1 1l-1 -1zM168 324l1.4 1.4l-1.4 1.4l-1.4 -1.4zM176 327.8l1.3 1.3l-1.3 1.3l-1.3 -1.3zM88 305.4l1 1l-1 1l-1 -1zM97.5 303l1.4 1.4l-1.4 1.4l-1.4 -1.4zM134.5 285.5l1.3 1.3l-1.3 1.3l-1.3 -1.3zM175.5 321.5l0.9 0.9l-0.9 0.9l-0.9 -0.9zM96 306.4l1.1 1.1l-1.1 1.1l-1.1 -1.1zM116.5 286.7l1.1 1.1l-1.1 1.1l-1.1 -1.1zM235 330.5l1.2 1.2l-1.2 1.2l-1.2 -1.2zM164 318.5l0.9 0.9l-0.9 0.9l-0.9 -0.9zM142.5 296.7l1.1 1.1l-1.1 1.1l-1.1 -1.1zM123.5 282l1.4 1.4l-1.4 1.4l-1.4 -1.4zM210 328.8l1.2 1.2l-1.2 1.2l-1.2 -1.2zM130 278.4l1.1 1.1l-1.1 1.1l-1.1 -1.1zM120 283.9l1.2 1.2l-1.2 1.2l-1.2 -1.2zM107.5 278l1 1l-1 1l-1 -1zM107 284.6l1.3 1.3l-1.3 1.3l-1.3 -1.3zM89.5 298l1.4 1.4l-1.4 1.4l-1.4 -1.4zM212 326.2l1.3 1.3l-1.3 1.3l-1.3 -1.3zM113 285.4l1.1 1.1l-1.1 1.1l-1.1 -1.1zM86 283.9l1 1l-1 1l-1 -1zM194.5 331.7l1.4 1.4l-1.4 1.4l-1.4 -1.4zM213 329l1.4 1.4l-1.4 1.4l-1.4 -1.4zM212 334.4l0.9 0.9l-0.9 0.9l-0.9 -0.9zM82.5 295.2l1.4 1.4l-1.4 1.4l-1.4 -1.4zM193.5 333.2l0.9 0.9l-0.9 0.9l-0.9 -0.9zM126.5 289.4l1.5 1.5l-1.5 1.5l-1.5 -1.5zM157 320.4l1.3 1.3l-1.3 1.3l-1.3 -1.3zM92.5 298.8l1.3 1.3l-1.3 1.3l-1.3 -1.3zM224 329.7l1.2 1.2l-1.2 1.2l-1.2 -1.2zM136 292.4l1.5 1.5l-1.5 1.5l-1.5 -1.5zM89.5 307.8l1.3 1.3l-1.3 1.3l-1.3 -1.3zM125 284.1l1 1l-1 1l-1 -1zM82 307.4l1.2 1.2l-1.2 1.2l-1.2 -1.2zM90 296.3l1 1l-1 1l-1 -1zM101.5 291.9l1.2 1.2l-1.2 1.2l-1.2 -1.2zM112 283.4l1.2 1.2l-1.2 1.2l-1.2 -1.2zM126 287.1l0.9 0.9l-0.9 0.9l-0.9 -0.9zM112.5 289.4l1.2 1.2l-1.2 1.2l-1.2 -1.2zM150 306.5l1 1l-1 1l-1 -1zM190.5 332l1.4 1.4l-1.4 1.4l-1.4 -1.4zM143 303.5l1.2 1.2l-1.2 1.2l-1.2 -1.2zM102 279.5l0.9 0.9l-0.9 0.9l-0.9 -0.9zM96 282.4l1 1l-1 1l-1 -1zM115.5 280.2l1.1 1.1l-1.1 1.1l-1.1 -1.1zM125 298.7l1 1l-1 1l-1 -1zM226 333.4l1.2 1.2l-1.2 1.2l-1.2 -1.2zM135.5 282l1.2 1.2l-1.2 1.2l-1.2 -1.2zM106.5 284.2l1 1l-1 1l-1 -1zM233 322.2l1.3 1.3l-1.3 1.3l-1.3 -1.3zM213.5 333.2l1.1 1.1l-1.1 1.1l-1.1 -1.1zM95 288.3l1.3 1.3l-1.3 1.3l-1.3 -1.3zM183 328.6l1 1l-1 1l-1 -1zM129 280l1 1l-1 1l-1 -1zM92 283.7l1.2 1.2l-1.2 1.2l-1.2 -1.2zM154 312.1l1.3 1.3l-1.3 1.3l-1.3 -1.3zM92.5 284.8l1.1 1.1l-1.1 1.1l-1.1 -1.1zM98.5 308l0.9 0.9l-0.9 0.9l-0.9 -0.9zM117.5 302.5l1.2 1.2l-1.2 1.2l-1.2 -1.2zM128 285.2l1.2 1.2l-1.2 1.2l-1.2 -1.2zM82.5 287.7l1.3 1.3l-1.3 1.3l-1.3 -1.3zM227.5 330.7l1.4 1.4l-1.4 1.4l-1.4 -1.4zM198 329.5l1.3 1.3l-1.3 1.3l-1.3 -1.3zM98.5 308.4l1 1l-1 1l-1 -1zM234 333.2l1.3 1.3l-1.3 1.3l-1.3 -1.3zM102.5 302.5l1.5 1.5l-1.5 1.5l-1.5 -1.5zM117 300.8l1.5 1.5l-1.5 1.5l-1.5 -1.5zM105.5 299.1l1.2 1.2l-1.2 1.2l-1.2 -1.2zM222 330l1.3 1.3l-1.3 1.3l-1.3 -1.3zM122.5 281.5l1.1 1.1l-1.1 1.1l-1.1 -1.1zM90 285.9l0.9 0.9l-0.9 0.9l-0.9 -0.9zM227.5 331.3l0.9 0.9l-0.9 0.9l-0.9 -0.9zM101.5 279.2l1 1l-1 1l-1 -1zM103 292.2l1.2 1.2l-1.2 1.2l-1.2 -1.2zM114 288.7l1.1 1.1l-1.1 1.1l-1.1 -1.1zM86.5 304.2l1.1 1.1l-1.1 1.1l-1.1 -1.1zM82.5 300.2l1.3 1.3l-1.3 1.3l-1.3 -1.3z" fill="#a3c2fb" opacity="0.78"/>
<use href="#ml" x="76.1" y="325"/>
<use href="#mm" x="78.7" y="322.7"/>
<use href="#ml" x="77.3" y="319.7"/>
<use href="#mw" x="79.1" y="310.9"/>
<use href="#ml" x="77.6" y="309.5"/>
<use href="#mm" x="79" y="296.1"/>
<use href="#mw" x="79.4" y="288.1"/>
<use href="#mm" x="79.8" y="286.8"/>
<use href="#mw" x="89.8" y="277.7"/>
<use href="#mw" x="98.5" y="274.1"/>
<use href="#mm" x="105.7" y="273.6"/>
<use href="#mw" x="119" y="277"/>
<use href="#mm" x="119.2" y="279.2"/>
<use href="#ml" x="126.4" y="278.4"/>
<use href="#ml" x="138.9" y="281.6"/>
<use href="#mm" x="140.9" y="290.4"/>
<use href="#md" x="145.3" y="294.2"/>
<use href="#mm" x="147.4" y="300"/>
<use href="#mm" x="148.4" y="303"/>
<use href="#md" x="150.9" y="305.4"/>
<use href="#mm" x="159.9" y="303.6"/>
<use href="#ml" x="164.9" y="309.8"/>
<use href="#ml" x="165.7" y="312.9"/>
<use href="#ml" x="171.9" y="317.4"/>
<use href="#md" x="175.4" y="319"/>
<use href="#ml" x="178.5" y="321.3"/>
<use href="#mm" x="180.9" y="320.5"/>
<use href="#mm" x="183.8" y="322.8"/>
<use href="#mm" x="185.4" y="323.9"/>
<use href="#ml" x="189.5" y="329.7"/>
<use href="#mw" x="197.4" y="325.2"/>
<use href="#mm" x="200.8" y="320.2"/>
<use href="#ml" x="201.8" y="320.6"/>
<use href="#ml" x="209.1" y="324.7"/>
<use href="#mm" x="218" y="323.8"/>
<use href="#ml" x="219.8" y="324.9"/>
<use href="#ml" x="220.7" y="325.2"/>
<use href="#ml" x="226.7" y="321.6"/>
<use href="#mw" x="229.1" y="319.2"/>
<use href="#mm" x="238.5" y="319.5"/>
<use href="#ml" x="239.3" y="322.6"/>
<use href="#mw" x="237.4" y="325"/>
<use href="#ml" x="237.1" y="327.7"/>
</g>
<path d="M44.5 336.3H239.2V337.7L238.2 338.1L237.2 337.6L236.4 338.3L235.5 337.6L234.2 338.3L232.8 337.6L231.7 338.1L230.6 337.6L229.5 338.1L228.3 337.5L226.9 338.1L225.5 337.9L224.2 338.3L222.9 337.6L221.5 338.5L220.1 337.8L218.3 338L216.6 337.5L215.6 338.1L214.5 337.7L213.5 338L212.4 337.6L211.2 338.1L209.9 337.6L208.3 338.5L206.7 337.6L205.6 338.2L204.6 337.7L203 338.5L201.4 337.5L200.5 338.3L199.7 337.9L198.6 338.3L197.4 337.9L196.5 337.8L195.5 337.5L193.9 338.4L192.3 337.5L190.8 338.4L189.2 337.6L188.1 338.4L187.1 337.7L186.2 338.3L185.2 337.7L183.5 338.2L181.8 337.7L180.6 338L179.3 337.6L177.6 338.3L175.9 337.8L174.9 338L174 337.9L173 337.9L172 337.6L171 338.4L170 337.8L168.5 337.9L167 337.7L165.3 338.1L163.6 337.8L162.5 338.4L161.3 337.8L160 338.3L158.8 337.8L157.5 338.4L156.2 337.7L155.1 338.5L154 337.5L152.5 338.5L151 337.7L150.2 338.1L149.3 337.9L148.2 338.1L147 337.5L145.6 338.3L144.1 337.5L142.4 338.1L140.8 337.6L139.1 338.1L137.5 337.7L135.8 338.2L134.2 337.7L133.3 337.9L132.5 337.6L130.8 338.4L129.2 337.8L128.2 338.6L127.3 337.5L126 337.9L124.7 337.8L123.9 338L123.1 337.7L121.4 338.2L119.7 337.6L118.8 338.2L117.8 337.5L116.6 337.8L115.4 337.5L113.8 338.3L112.2 337.9L111.3 338.5L110.4 337.6L109.3 338.5L108.3 337.6L107.3 337.8L106.3 337.5L104.7 338.3L103.1 337.8L101.8 338.3L100.5 337.6L99.7 337.8L98.9 337.7L98.1 338.2L97.3 337.6L96 338.5L94.6 337.9L93.6 338.5L92.5 337.9L91 337.8L89.4 337.6L88.5 337.8L87.6 337.7L86.4 337.8L85.2 337.5L84 338.6L82.8 337.6L81.8 338.6L80.7 337.7L79.1 338.4L77.4 337.8L76.2 337.9L75.1 337.8L74.3 338.2L73.5 337.8L72 338.1L70.4 337.5L68.8 338.3L67.2 337.6L65.6 338.1L64 337.9L62.3 338.5L60.6 337.7L59 338.5L57.5 337.7L56.2 338.5L55 337.8L53.7 337.8L52.5 337.6L51.4 338.1L50.4 337.7L49.5 338.1L48.7 337.6L46.9 338.1L45.2 337.8L44.9 338.1L44.5 337.8Z" fill="#0b0b0b"/>
<rect x="39.5" y="191" width="203.8" height="149.1" fill="none" stroke="#4d4d4d" stroke-width="1.3"/>
<g font-size="8.5" fill="#2e2e2e"><text x="35.7" y="200" text-anchor="end">300</text><text x="35.7" y="223.2" text-anchor="end">250</text><text x="35.7" y="246.5" text-anchor="end">200</text><text x="35.7" y="269.7" text-anchor="end">150</text><text x="35.7" y="293" text-anchor="end">100</text><text x="35.7" y="316.2" text-anchor="end">50</text><text x="35.7" y="339.5" text-anchor="end">0</text><text x="46.9" y="347.9" text-anchor="middle">10</text><text x="70.6" y="347.9" text-anchor="middle">20</text><text x="94.3" y="347.9" text-anchor="middle">30</text><text x="118" y="347.9" text-anchor="middle">40</text><text x="141.7" y="347.9" text-anchor="middle">50</text><text x="165.4" y="347.9" text-anchor="middle">60</text><text x="189.1" y="347.9" text-anchor="middle">70</text><text x="212.8" y="347.9" text-anchor="middle">80</text><text x="236.5" y="347.9" text-anchor="middle">90</text></g>
<text x="44.5" y="209.4" font-size="17" font-weight="bold" letter-spacing="0.3" fill="#111">[b]</text>
<text x="141.5" y="357.5" font-size="10" text-anchor="middle" fill="#222"><tspan font-style="italic">g</tspan>F (°)</text>
<text transform="translate(17.8 262) rotate(-90)" font-size="9.6" font-weight="bold" text-anchor="middle" fill="#111">AuMet(kg)</text>
</g>
<g id="panel-c">
<path d="M293.8 189.4V338.8M309.5 189.4V338.8M325.2 189.4V338.8M341 189.4V338.8M356.8 189.4V338.8M372.5 189.4V338.8M388.2 189.4V338.8M404 189.4V338.8M419.8 189.4V338.8M435.5 189.4V338.8M451.2 189.4V338.8M467 189.4V338.8M482.8 189.4V338.8M287.3 196.2H490.5M287.3 207.8H490.5M287.3 219.4H490.5M287.3 231H490.5M287.3 242.6H490.5M287.3 254.2H490.5M287.3 265.8H490.5M287.3 277.4H490.5M287.3 289H490.5M287.3 300.6H490.5M287.3 312.2H490.5M287.3 323.8H490.5M287.3 335.4H490.5" stroke="#f3f3f3" stroke-width="0.7" fill="none"/>
<path d="M289.3 335.2H488.5" stroke="#8a8a8a" stroke-width="1" stroke-dasharray="1 2.2" fill="none"/>
<clipPath id="clipc"><rect x="287.3" y="189.4" width="203.2" height="146.4"/></clipPath>
<use href="#mw" x="390.4" y="193.2"/>
<use href="#mw" x="390.4" y="217"/>
<use href="#mw" x="390.4" y="251.9"/>
<use href="#mw" x="390.4" y="259.4"/>
<use href="#mw" x="390.4" y="264.8"/>
<use href="#mw" x="343.7" y="230"/>
<use href="#mw" x="350" y="231"/>
<use href="#mw" x="337" y="236.6"/>
<use href="#mw" x="370.7" y="228"/>
<use href="#mb" x="370.7" y="231.2"/>
<use href="#mw" x="343.7" y="263.6"/>
<use href="#mw" x="335" y="268.5"/>
<use href="#mw" x="358.2" y="268"/>
<use href="#mw" x="373.3" y="271"/>
<use href="#mw" x="351" y="280"/>
<use href="#mw" x="383.5" y="280"/>
<use href="#mw" x="379.3" y="286.2"/>
<use href="#mw" x="329.4" y="282.4"/>
<use href="#mw" x="326.2" y="295"/>
<use href="#mw" x="323.7" y="307.4"/>
<use href="#mw" x="402.3" y="316"/>
<use href="#mw" x="424.2" y="320.4"/>
<use href="#mw" x="436" y="323"/>
<use href="#mw" x="444.6" y="320.6"/>
<use href="#mb" x="467" y="321"/>
<use href="#mb" x="484.6" y="331.5"/>
<use href="#ms" x="453.3" y="332.4"/>
<use href="#mw" x="299.5" y="319"/>
<use href="#mw" x="382.2" y="280"/>
<use href="#mw" x="379.7" y="286.2"/>
<g clip-path="url(#clipc)">
</g>
<mask id="maskc" maskUnits="userSpaceOnUse" x="0" y="0" width="501" height="550"><path d="M296.5 341.2L296.5 334.5L297.5 330.5L299 327.5L303 329L306 326L310 322.4L314 316L317.4 312.4L320 312L322.4 307.4L324 298L326.2 290L329 282L332.4 275L336 273L340 272.5L343 276L345 280L349 281.5L352.4 282.4L355 287L357.4 292.4L360 283L362.4 275L366 273L370 272.5L373 276L375 280L378 287L380 292.4L383 297L385 300L386 285L387.3 272.5L390 270L392.3 270L394.5 274L396 280L398 292L400 305L403.4 317.4L411 323.6L418.4 328.6L427 331L432 334.5L432 341.2Z" fill="#fff" stroke="#000" stroke-width="19" stroke-linejoin="round"/></mask>
<g clip-path="url(#clipc)">
<use href="#mw" x="314.2" y="327.4"/>
<use href="#ml" x="413.4" y="334.2"/>
<use href="#ml" x="426.3" y="334.2"/>
<use href="#ml" x="333.9" y="299.2"/>
<use href="#mm" x="325.9" y="315.1"/>
<use href="#mm" x="374.5" y="305.9"/>
<use href="#mm" x="379.4" y="312.9"/>
<use href="#mm" x="322.8" y="317.8"/>
<use href="#mm" x="317.9" y="324"/>
<use href="#mm" x="328.8" y="311.2"/>
<use href="#ml" x="355.7" y="309.9"/>
<use href="#mm" x="318.8" y="325"/>
<use href="#ml" x="392.2" y="311.5"/>
<use href="#md" x="362.8" y="303.9"/>
<use href="#ml" x="368.7" y="302"/>
<use href="#md" x="351.6" y="311"/>
<use href="#mm" x="425.6" y="333.1"/>
<use href="#md" x="384.2" y="315.9"/>
<use href="#ml" x="417.8" y="332.5"/>
<use href="#md" x="348.7" y="306.2"/>
<use href="#mm" x="380.6" y="314.3"/>
<use href="#md" x="375.4" y="308.6"/>
<use href="#ml" x="420.2" y="333.6"/>
<use href="#mm" x="316.4" y="324.4"/>
<use href="#mm" x="342.4" y="296"/>
<use href="#md" x="380.6" y="314.7"/>
<use href="#md" x="320.9" y="323.1"/>
<use href="#ml" x="422.4" y="332.3"/>
<use href="#mk" x="370.9" y="302.8"/>
<use href="#ml" x="389.2" y="310"/>
<use href="#mk" x="395.3" y="310.7"/>
<use href="#mm" x="410.6" y="331.1"/>
<use href="#mm" x="361.8" y="304.8"/>
<use href="#mm" x="367" y="304.5"/>
<use href="#md" x="355.4" y="313"/>
<use href="#mm" x="351" y="306.8"/>
<use href="#mk" x="342.5" y="295"/>
<use href="#md" x="407.8" y="330.4"/>
<use href="#mm" x="385.4" y="315.8"/>
<use href="#md" x="353.7" y="312.1"/>
<use href="#md" x="378.5" y="311"/>
<use href="#mm" x="320.1" y="322.2"/>
<use href="#mm" x="430.8" y="335.2"/>
<use href="#md" x="378.4" y="314.4"/>
<use href="#mm" x="385.3" y="314.1"/>
<use href="#mm" x="414.7" y="334.6"/>
<use href="#mk" x="333" y="303.9"/>
<use href="#mm" x="384.4" y="314.3"/>
<use href="#mm" x="381.7" y="316.5"/>
<use href="#mm" x="325.3" y="319.4"/>
<use href="#md" x="386.1" y="315.2"/>
<use href="#mk" x="349.6" y="306.2"/>
<use href="#mk" x="327.3" y="311.8"/>
<use href="#ml" x="322.6" y="319.3"/>
<use href="#mm" x="368.1" y="303.9"/>
<use href="#ml" x="392.8" y="310.7"/>
<use href="#md" x="342.4" y="292.9"/>
<use href="#mm" x="400.2" y="322.2"/>
<use href="#mm" x="397.2" y="314.6"/>
<use href="#md" x="349.1" y="308.8"/>
<use href="#mk" x="347.1" y="305.8"/>
<use href="#ml" x="426.7" y="334.2"/>
<use href="#mm" x="344.2" y="299.3"/>
<use href="#md" x="352.6" y="308.7"/>
<use href="#mm" x="327.6" y="314.3"/>
<use href="#mk" x="347.3" y="301.9"/>
<use href="#mk" x="338.2" y="286.6"/>
<use href="#mm" x="386.2" y="315.1"/>
<use href="#mk" x="333.3" y="298.8"/>
<use href="#md" x="323.2" y="321.4"/>
<use href="#mm" x="340.7" y="292.9"/>
<use href="#md" x="338.2" y="287.7"/>
<use href="#ml" x="394.4" y="310.5"/>
<use href="#mm" x="370.5" y="305.4"/>
<use href="#md" x="391.4" y="309.6"/>
<use href="#md" x="334.2" y="301"/>
<use href="#md" x="350.3" y="308.1"/>
<use href="#md" x="375.3" y="309.9"/>
<use href="#md" x="349.1" y="305.1"/>
<use href="#mk" x="381.1" y="313"/>
<use href="#mk" x="386.2" y="315.2"/>
<use href="#mk" x="362" y="306.5"/>
<use href="#mk" x="401.9" y="326.6"/>
<use href="#mk" x="365.3" y="305.8"/>
<use href="#mm" x="359.4" y="307.3"/>
<use href="#md" x="355.5" y="310.3"/>
<use href="#mm" x="415.4" y="331.4"/>
<use href="#mm" x="313.3" y="328.9"/>
<use href="#mm" x="391.7" y="310.8"/>
<use href="#md" x="371.5" y="305.6"/>
<use href="#mm" x="412.7" y="330.7"/>
<use href="#mk" x="356" y="308.6"/>
<use href="#mk" x="356.5" y="312.3"/>
<use href="#md" x="411.8" y="331.5"/>
<use href="#md" x="389.5" y="309.5"/>
<use href="#mk" x="343.9" y="299.7"/>
<use href="#md" x="371.7" y="305.3"/>
<use href="#md" x="347.7" y="303.6"/>
<use href="#md" x="326.3" y="313.7"/>
<use href="#md" x="320.5" y="320.5"/>
<use href="#md" x="379.3" y="313.1"/>
<use href="#md" x="362.2" y="304.4"/>
<use href="#md" x="415.1" y="331"/>
<use href="#mk" x="366.2" y="303.5"/>
<use href="#mk" x="350.5" y="308.7"/>
<use href="#mk" x="405.8" y="329.9"/>
<use href="#mk" x="330.8" y="310.4"/>
<use href="#mk" x="344.8" y="299.4"/>
<use href="#mk" x="378" y="312.6"/>
<use href="#mk" x="385.2" y="315.9"/>
<use href="#mm" x="437.2" y="331.6"/>
<use href="#md" x="437.1" y="328.2"/>
<use href="#md" x="435.1" y="329.6"/>
<use href="#mm" x="436.5" y="331.9"/>
<use href="#ml" x="435.7" y="328.2"/>
<use href="#mm" x="436.4" y="333.1"/>
<use href="#ml" x="436.6" y="328.6"/>
<use href="#mm" x="436.7" y="328.6"/>
<use href="#mm" x="435.2" y="332.9"/>
<use href="#mk" x="435.7" y="333.2"/>
<use href="#mm" x="434.7" y="328.7"/>
<use href="#md" x="436" y="335"/>
<use href="#mk" x="446.5" y="334.3"/>
<use href="#mm" x="445.8" y="332.1"/>
<use href="#mk" x="445.9" y="330.1"/>
<use href="#mk" x="446.4" y="332.4"/>
<use href="#md" x="444.3" y="330.4"/>
<use href="#mm" x="446.1" y="332.8"/>
<use href="#md" x="446.3" y="334.5"/>
<use href="#ml" x="447.9" y="332.6"/>
<use href="#mm" x="443.9" y="333.3"/>
<use href="#md" x="445.4" y="331.4"/>
<use href="#md" x="444.7" y="331.4"/>
<use href="#mk" x="457.9" y="330.8"/>
<use href="#mk" x="456.8" y="334.4"/>
<use href="#mk" x="457.3" y="330.9"/>
<use href="#ml" x="458" y="331"/>
<use href="#md" x="458.6" y="332.3"/>
<use href="#mm" x="456.9" y="333.6"/>
<use href="#ml" x="459.6" y="332.2"/>
<use href="#mm" x="459.6" y="334.6"/>
<use href="#mm" x="457.9" y="334.9"/>
<use href="#mm" x="467.6" y="323.2"/>
<use href="#md" x="469.2" y="324.5"/>
<use href="#md" x="469.6" y="332.5"/>
<use href="#mm" x="468.7" y="333.4"/>
<use href="#mm" x="467.2" y="332.7"/>
<use href="#md" x="468.6" y="329.9"/>
<use href="#mm" x="469.1" y="329.1"/>
<use href="#mm" x="467.1" y="322"/>
<use href="#mm" x="468.5" y="333"/>
<use href="#mm" x="466.4" y="324.7"/>
<use href="#mm" x="466.6" y="322.9"/>
<use href="#ml" x="465.7" y="326.7"/>
<use href="#mm" x="468.9" y="333.9"/>
<use href="#md" x="467.2" y="321.9"/>
<use href="#md" x="466.9" y="325.1"/>
<use href="#mk" x="470" y="331.1"/>
<use href="#md" x="468.1" y="328.2"/>
<use href="#mm" x="468.3" y="326.3"/>
<use href="#mk" x="469.3" y="326.5"/>
<use href="#ml" x="469.1" y="333.5"/>
<use href="#mm" x="466.6" y="331.4"/>
<use href="#md" x="468.8" y="322.5"/>
<use href="#md" x="484" y="334.5"/>
<use href="#mk" x="485.7" y="334.9"/>
<use href="#mm" x="483.6" y="335"/>
<use href="#ml" x="484" y="332.5"/>
<use href="#mk" x="484.5" y="332.4"/>
<use href="#ml" x="297.9" y="331.2"/>
<use href="#mm" x="297.3" y="330"/>
<use href="#mm" x="299.1" y="331.5"/>
<use href="#mk" x="297.4" y="331"/>
<use href="#ml" x="299.3" y="334.1"/>
<use href="#mk" x="298.3" y="330.6"/>
<use href="#ml" x="298" y="332.2"/>
<use href="#ml" x="297.2" y="333.8"/>
</g>
<mask id="clipcp" maskUnits="userSpaceOnUse" x="0" y="0" width="501" height="550"><path d="M296.5 343.2L296.5 334.5L297.5 330.5L299 327.5L303 329L306 326L310 322.4L314 316L317.4 312.4L320 312L322.4 307.4L324 298L326.2 290L329 282L332.4 275L336 273L340 272.5L343 276L345 280L349 281.5L352.4 282.4L355 287L357.4 292.4L360 283L362.4 275L366 273L370 272.5L373 276L375 280L378 287L380 292.4L383 297L385 300L386 285L387.3 272.5L390 270L392.3 270L394.5 274L396 280L398 292L400 305L403.4 317.4L411 323.6L418.4 328.6L427 331L432 334.5L432 343.2Z" fill="#fff" stroke="#000" stroke-width="3" stroke-linejoin="round"/></mask>
<g clip-path="url(#clipc)"><g mask="url(#clipcp)">
<path d="M308.5 343.2L308.5 334.7L310.5 330.4L315.5 324.2L321.1 318.5L326.5 312.9L330 305.7L333.5 296.4L336 289.2L338.1 285.1L340.3 288.7L342.5 294.3L348 303.6L353.5 309.3L357.5 307.2L361.5 303.6L365.5 301.5L370.5 300.5L374.5 304.6L378.5 309.8L382.5 312.3L386.5 310.8L389.5 308.2L392 306.7L394.5 307.2L396.5 310.8L398.5 318L402.2 325.2L409.5 329.9L420.5 331.9L432.5 333.5L438.5 334.7L438.5 343.2Z" fill="#1d4c98" filter="url(#b2)" opacity="0.8"/>
<path d="M309.5 343.2L309.5 335.2L311.5 331.2L316.5 325.5L322.1 320.3L327.5 315.1L331 308.4L334.5 299.9L337 293.2L339.1 289.4L341.3 292.7L343.5 298L349 306.5L354.5 311.7L358.5 309.8L362.5 306.5L366.5 304.6L369.5 303.7L373.5 307.5L377.5 312.2L381.5 314.6L385.5 313.2L388.5 310.8L391 309.4L393.5 309.8L395.5 313.2L397.5 319.8L401.2 326.5L408.5 330.7L419.5 332.6L431.5 334.1L437.5 335.2L437.5 343.2Z" fill="#1a6c78" filter="url(#b2)" opacity="0.95"/>
<path d="M311.5 343.2L311.5 335.2L313.5 332.2L318.5 327.9L324.1 323.9L329.5 319.9L333 314.9L336.5 308.4L339 303.4L341.1 300.5L343.3 303L345.5 307L351 313.5L356.5 317.4L360.5 316L364.5 313.5L368.5 312L367.5 311.3L371.5 314.2L375.5 317.8L379.5 319.6L383.5 318.5L386.5 316.7L389 315.6L391.5 316L393.5 318.5L395.5 323.5L399.2 328.6L406.5 331.8L417.5 333.3L429.5 334.3L435.5 335.2L435.5 343.2Z" fill="#1e7d28" filter="url(#b3)"/>
<path d="M315.5 343.2L315.5 335.2L317.5 333.4L322.5 330.8L328.1 328.4L333.5 326L337 323L340.5 319.1L343 316.1L345.1 314.4L347.3 315.9L349.5 318.3L355 322.2L360.5 324.5L364.5 323.7L368.5 322.2L364.5 321.3L363.5 320.9L367.5 322.6L371.5 324.7L375.5 325.8L379.5 325.2L382.5 324.1L385 323.4L387.5 323.7L389.5 325.2L391.5 328.2L395.2 331.2L402.5 333.2L413.5 334L425.5 334.7L431.5 335.2L431.5 343.2Z" fill="#33801c" filter="url(#b3)" opacity="0.7"/>
<path d="M313 343.2L313 335.2L319 331L325 327L331 322.5L336 319.5L339 318.5L343 320L349 323.5L357 326.5L367 328.5L380 330.5L393 332.5L405 335.2L405 343.2Z" fill="#646c18" filter="url(#b2)"/>
<path d="M316 343.2L316 335.2L322 332.5L328 330L334 327.5L338.6 326L343 327L350 329L358 330.5L368 331.5L380 332.5L392 333.5L402 335.2L402 343.2Z" fill="#a81424" filter="url(#b1)"/>
<path d="M320 343.2L320 335.2L326 333.5L332 332L338 330.4L342.6 329.5L347 330.1L354 331.4L354 332.3L364 332.9L376 333.5L388 334.1L398 335.2L398 343.2Z" fill="#860e38" filter="url(#b1)"/>
<path d="M327 343.2L327 335.2L331 332.5L336 330.5L342 330L348 331L354 333L358 335.2L358 343.2Z" fill="#82108a" filter="url(#b1)"/>
<ellipse cx="342.5" cy="334.6" rx="9.3" ry="2" fill="#a844b4" filter="url(#b1)"/>
<path d="M343 312.8h0.9v0.9h-0.9zM327.5 315.4h0.9v0.9h-0.9zM423.2 333h0.9v0.9h-0.9zM314.4 327.1h0.9v0.9h-0.9zM353 317h0.9v0.9h-0.9zM348.9 305.5h0.9v0.9h-0.9zM337.9 295h0.9v0.9h-0.9zM355.2 313.2h0.9v0.9h-0.9zM432.3 334.1h0.9v0.9h-0.9zM330.3 308.3h0.9v0.9h-0.9zM331.6 304.1h0.9v0.9h-0.9zM357.7 320.9h0.9v0.9h-0.9zM318.6 325.7h0.9v0.9h-0.9zM405.8 333.9h0.9v0.9h-0.9zM370.2 312h0.9v0.9h-0.9zM325 322.4h0.9v0.9h-0.9zM384.5 325.5h0.9v0.9h-0.9zM381.6 321.2h0.9v0.9h-0.9zM331.1 305.9h0.9v0.9h-0.9zM370.9 319.2h0.9v0.9h-0.9zM426 334.1h0.9v0.9h-0.9zM400.7 325.3h0.9v0.9h-0.9zM389.2 315.5h0.9v0.9h-0.9zM364.7 306.4h0.9v0.9h-0.9zM394.9 310.3h0.9v0.9h-0.9zM350.2 317h0.9v0.9h-0.9zM416.6 334h0.9v0.9h-0.9zM430.7 334.1h0.9v0.9h-0.9zM388.6 317.9h0.9v0.9h-0.9zM314.7 329.2h0.9v0.9h-0.9zM406.7 331.6h0.9v0.9h-0.9zM432.5 334.2h0.9v0.9h-0.9zM318.8 323.3h0.9v0.9h-0.9zM383.2 318.8h0.9v0.9h-0.9zM354.5 317.5h0.9v0.9h-0.9zM380.1 321.9h0.9v0.9h-0.9zM314.7 328.8h0.9v0.9h-0.9zM419.1 332.7h0.9v0.9h-0.9zM425.7 333.5h0.9v0.9h-0.9zM386.6 329.3h0.9v0.9h-0.9zM429.6 334.1h0.9v0.9h-0.9zM322.5 318.9h0.9v0.9h-0.9zM327.6 321.1h0.9v0.9h-0.9zM356 316.5h0.9v0.9h-0.9zM363 322.4h0.9v0.9h-0.9zM323.6 319.6h0.9v0.9h-0.9zM427.2 333.8h0.9v0.9h-0.9zM374.4 317.1h0.9v0.9h-0.9zM387.5 315.3h0.9v0.9h-0.9zM397.8 319.4h0.9v0.9h-0.9zM321.8 324.5h0.9v0.9h-0.9zM328.1 321.9h0.9v0.9h-0.9zM385.6 319.1h0.9v0.9h-0.9zM326.3 315.3h0.9v0.9h-0.9zM367.9 310.6h0.9v0.9h-0.9zM377.4 319.4h0.9v0.9h-0.9zM321 321.5h0.9v0.9h-0.9zM359.8 313.9h0.9v0.9h-0.9zM426.1 333.4h0.9v0.9h-0.9zM327 314h0.9v0.9h-0.9zM401.8 329.5h0.9v0.9h-0.9zM320.6 321.8h0.9v0.9h-0.9zM352.1 312.9h0.9v0.9h-0.9zM364.6 303.8h0.9v0.9h-0.9zM362.2 306.6h0.9v0.9h-0.9zM358.3 320.7h0.9v0.9h-0.9zM318.5 330h0.9v0.9h-0.9zM427.6 334.1h0.9v0.9h-0.9zM324 323.9h0.9v0.9h-0.9zM421 333h0.9v0.9h-0.9zM370.9 315.8h0.9v0.9h-0.9zM419.3 332.7h0.9v0.9h-0.9zM428.1 333.5h0.9v0.9h-0.9zM334.1 299.6h0.9v0.9h-0.9zM320.7 322.3h0.9v0.9h-0.9zM428.7 334h0.9v0.9h-0.9zM325.9 316.2h0.9v0.9h-0.9zM363.4 308.2h0.9v0.9h-0.9zM371.8 304.1h0.9v0.9h-0.9zM406.6 330.3h0.9v0.9h-0.9zM430.8 333.9h0.9v0.9h-0.9zM401.5 326.3h0.9v0.9h-0.9zM328.4 320h0.9v0.9h-0.9zM392.3 327.2h0.9v0.9h-0.9zM347.7 304.3h0.9v0.9h-0.9zM418.1 332.2h0.9v0.9h-0.9zM382 315.5h0.9v0.9h-0.9zM397.9 329.7h0.9v0.9h-0.9zM339.3 300.6h0.9v0.9h-0.9zM432.7 334.1h0.9v0.9h-0.9zM399.6 328.1h0.9v0.9h-0.9zM359.2 309.3h0.9v0.9h-0.9zM326.3 323h0.9v0.9h-0.9zM353.8 321.3h0.9v0.9h-0.9zM318.9 324.8h0.9v0.9h-0.9zM420.9 333.1h0.9v0.9h-0.9zM336.3 294h0.9v0.9h-0.9zM353.1 309.8h0.9v0.9h-0.9zM326.1 315.2h0.9v0.9h-0.9zM382.2 318.5h0.9v0.9h-0.9zM400.2 332h0.9v0.9h-0.9zM376 320h0.9v0.9h-0.9zM401 329.5h0.9v0.9h-0.9zM357.4 312.5h0.9v0.9h-0.9zM343.4 301h0.9v0.9h-0.9zM320.6 321.5h0.9v0.9h-0.9zM347.1 317.1h0.9v0.9h-0.9zM384.5 316.7h0.9v0.9h-0.9zM343.3 297.8h0.9v0.9h-0.9zM327.9 319.4h0.9v0.9h-0.9zM362.5 326.3h0.9v0.9h-0.9zM314.2 327.2h0.9v0.9h-0.9zM432.3 334.1h0.9v0.9h-0.9zM330.9 307.4h0.9v0.9h-0.9zM328.6 316.9h0.9v0.9h-0.9zM346.7 315.5h0.9v0.9h-0.9zM415.6 331.8h0.9v0.9h-0.9zM337.6 297h0.9v0.9h-0.9zM354.1 321.6h0.9v0.9h-0.9zM329.3 312.4h0.9v0.9h-0.9zM346.6 318.8h0.9v0.9h-0.9zM324.4 320.8h0.9v0.9h-0.9zM421.8 333.6h0.9v0.9h-0.9zM309.5 334.2h0.9v0.9h-0.9zM330.1 307.9h0.9v0.9h-0.9zM386.8 312.2h0.9v0.9h-0.9zM411 332.3h0.9v0.9h-0.9zM384.1 313h0.9v0.9h-0.9zM365.4 311.3h0.9v0.9h-0.9zM412.9 331.5h0.9v0.9h-0.9zM320.1 325.8h0.9v0.9h-0.9zM394.8 318.2h0.9v0.9h-0.9zM354.3 313h0.9v0.9h-0.9zM396.2 324.7h0.9v0.9h-0.9zM405.4 330.1h0.9v0.9h-0.9zM375.9 308.7h0.9v0.9h-0.9zM362.1 306.1h0.9v0.9h-0.9zM323.5 318.1h0.9v0.9h-0.9zM355.3 309.9h0.9v0.9h-0.9zM346.9 311.2h0.9v0.9h-0.9zM333 315.2h0.9v0.9h-0.9zM377 311.4h0.9v0.9h-0.9zM330 320.7h0.9v0.9h-0.9zM365.2 303.6h0.9v0.9h-0.9zM384.9 330.2h0.9v0.9h-0.9zM321.6 321.1h0.9v0.9h-0.9zM405 332.7h0.9v0.9h-0.9zM345.7 301.2h0.9v0.9h-0.9zM363.1 317.8h0.9v0.9h-0.9zM409.2 330.7h0.9v0.9h-0.9z" fill="#9fe0d0" opacity="0.45"/>
</g></g>
<g clip-path="url(#clipc)">
<use href="#mw" x="379.9" y="299.3"/>
<use href="#mw" x="366.2" y="277.4"/>
<use href="#mw" x="362.5" y="280.6"/>
<use href="#ml" x="377.2" y="294.4"/>
<use href="#ml" x="331.5" y="296.5"/>
<use href="#ml" x="376.2" y="288.2"/>
<use href="#mw" x="328.6" y="290.4"/>
<use href="#ml" x="392.4" y="292"/>
<use href="#ml" x="342" y="275.9"/>
<use href="#ml" x="301.1" y="331.7"/>
<use href="#ml" x="390.2" y="292.3"/>
<use href="#mw" x="331.7" y="277"/>
<use href="#ml" x="349.3" y="300.7"/>
<use href="#ml" x="398.3" y="310.9"/>
<use href="#mw" x="398.2" y="312.6"/>
<use href="#ml" x="337.6" y="272.8"/>
<use href="#ml" x="362.2" y="299.5"/>
<use href="#ml" x="389.3" y="294.8"/>
<use href="#ml" x="375.8" y="297.2"/>
<use href="#mw" x="359.2" y="291"/>
<use href="#mw" x="321.7" y="316.7"/>
<use href="#ml" x="397.3" y="292"/>
<use href="#ml" x="393.3" y="299.6"/>
<use href="#mw" x="399.1" y="317.9"/>
<use href="#mw" x="336.7" y="276.4"/>
<use href="#ml" x="393.2" y="289.5"/>
<use href="#ml" x="326.5" y="312.2"/>
<use href="#ml" x="353.7" y="293.5"/>
<use href="#ml" x="329.6" y="298.9"/>
<use href="#ml" x="375.1" y="295.4"/>
<use href="#mw" x="349.8" y="287.1"/>
<use href="#ml" x="346.5" y="292"/>
<use href="#ml" x="315.5" y="324.2"/>
<use href="#ml" x="348" y="286.5"/>
<use href="#ml" x="341.6" y="280.2"/>
<use href="#mm" x="388.4" y="286.5"/>
<use href="#ml" x="347.4" y="283.8"/>
<use href="#mm" x="351" y="302.2"/>
<use href="#mm" x="369.6" y="277.6"/>
<use href="#ml" x="307.5" y="333.3"/>
<use href="#mm" x="350.2" y="288.1"/>
<use href="#mm" x="394.2" y="289"/>
<use href="#mm" x="380.1" y="302.6"/>
<use href="#mm" x="388.1" y="290.1"/>
<use href="#ml" x="380.3" y="301.4"/>
<use href="#ml" x="390.4" y="298.9"/>
<use href="#mw" x="328" y="301.4"/>
<use href="#mm" x="401.4" y="321.4"/>
<use href="#ml" x="340.3" y="276"/>
<use href="#mm" x="357.3" y="307.6"/>
<use href="#ml" x="397" y="299.8"/>
<use href="#ml" x="386.8" y="289.8"/>
<use href="#ml" x="396" y="303.7"/>
<use href="#ml" x="386" y="284.7"/>
<use href="#ml" x="336.4" y="281.9"/>
<use href="#mw" x="391.6" y="292.2"/>
<use href="#ml" x="389" y="279.8"/>
<use href="#mm" x="405.2" y="324.3"/>
<use href="#mw" x="332.2" y="292.4"/>
<use href="#mm" x="329" y="305.3"/>
<use href="#ml" x="340" y="278.3"/>
<use href="#mw" x="299.4" y="332.7"/>
<use href="#ml" x="369.2" y="274.5"/>
<use href="#mm" x="388.8" y="286.5"/>
<use href="#mw" x="304.6" y="332.5"/>
<use href="#mm" x="337.4" y="287.5"/>
<use href="#md" x="379.9" y="308.2"/>
<use href="#ml" x="305.8" y="332.4"/>
<use href="#ml" x="360.9" y="287.6"/>
<use href="#mm" x="365.5" y="297.2"/>
<use href="#mm" x="367.7" y="285.2"/>
<use href="#ml" x="308.4" y="324.1"/>
<use href="#md" x="334.7" y="291.9"/>
<use href="#mm" x="391.4" y="277.2"/>
<use href="#md" x="377.4" y="299.8"/>
<use href="#ml" x="405.7" y="324.3"/>
<use href="#mw" x="391.6" y="280.6"/>
<use href="#ml" x="326.5" y="299.4"/>
<use href="#md" x="353.8" y="302.5"/>
<use href="#md" x="363.6" y="298.1"/>
<use href="#ml" x="392.8" y="272.6"/>
<use href="#mm" x="376.9" y="297.8"/>
<use href="#ml" x="296.4" y="335.2"/>
<use href="#mm" x="347.1" y="293.2"/>
<use href="#mm" x="411.9" y="329.9"/>
<use href="#ml" x="369.4" y="284.5"/>
<use href="#md" x="373.8" y="291.1"/>
<use href="#mw" x="300.1" y="331.2"/>
<use href="#md" x="397.4" y="312.9"/>
<use href="#mm" x="326.3" y="309.7"/>
<use href="#ml" x="337" y="276.3"/>
<use href="#md" x="354.2" y="302.9"/>
<use href="#ml" x="365.4" y="276.6"/>
<use href="#md" x="366.4" y="301.9"/>
<use href="#mm" x="370" y="283.9"/>
<use href="#mm" x="318.5" y="315.9"/>
<use href="#mm" x="336.1" y="284.9"/>
<use href="#md" x="343.7" y="291.2"/>
<use href="#md" x="404.8" y="322.1"/>
<use href="#mm" x="372.8" y="285"/>
<use href="#md" x="306.7" y="332"/>
<use href="#ml" x="375.3" y="281.6"/>
<use href="#mm" x="413.2" y="329"/>
<use href="#mw" x="323.8" y="297.5"/>
<use href="#ml" x="335.1" y="277"/>
<use href="#ml" x="366.4" y="298.8"/>
<use href="#md" x="369.1" y="298.6"/>
<use href="#mm" x="375.6" y="296.6"/>
<use href="#mm" x="305.9" y="329.9"/>
<use href="#md" x="369.8" y="290.3"/>
<use href="#ml" x="336.6" y="283"/>
<use href="#mm" x="299.7" y="332.5"/>
<use href="#md" x="361.1" y="295.8"/>
<use href="#mm" x="318.5" y="319.4"/>
<use href="#md" x="331.3" y="302.3"/>
<use href="#mm" x="379" y="305.1"/>
<use href="#mm" x="379.4" y="304.3"/>
<use href="#ml" x="391.2" y="278"/>
<use href="#mk" x="372.8" y="292.1"/>
<use href="#mw" x="373.9" y="287.9"/>
<use href="#mm" x="376.5" y="297.2"/>
<use href="#ml" x="363.9" y="279.2"/>
<use href="#mm" x="406.9" y="326.2"/>
<use href="#mk" x="378.5" y="310"/>
<use href="#md" x="386.1" y="310.4"/>
<use href="#ml" x="361" y="282.4"/>
<use href="#md" x="375.7" y="305.7"/>
<use href="#mm" x="348.6" y="291.6"/>
<use href="#ml" x="335" y="277.2"/>
<use href="#mm" x="356.8" y="300.4"/>
<use href="#ml" x="337.7" y="280.9"/>
<use href="#mm" x="335.8" y="280.5"/>
<use href="#mk" x="351.2" y="306.3"/>
<use href="#ml" x="347.6" y="284.1"/>
<use href="#mm" x="390.7" y="300.2"/>
<use href="#ml" x="330.2" y="303.2"/>
<use href="#mk" x="368.3" y="290.6"/>
<use href="#mw" x="329.2" y="289.6"/>
<use href="#ml" x="302" y="331.3"/>
<use href="#mk" x="332.1" y="285.3"/>
<use href="#md" x="349.2" y="287.9"/>
<use href="#mk" x="355.3" y="302.6"/>
<use href="#mm" x="324.8" y="313.7"/>
<use href="#mm" x="346.9" y="293.4"/>
<use href="#mm" x="298.7" y="332.4"/>
<use href="#ml" x="316.4" y="319.6"/>
<use href="#mm" x="329.7" y="305.8"/>
<use href="#mw" x="329.7" y="286.3"/>
<use href="#mm" x="330.9" y="287.5"/>
<use href="#ml" x="331.4" y="291.4"/>
<use href="#md" x="398.3" y="311.5"/>
<use href="#mm" x="393" y="292.9"/>
<use href="#ml" x="339.6" y="286.2"/>
<use href="#md" x="379.5" y="300.3"/>
<use href="#ml" x="388.2" y="304.4"/>
<use href="#mm" x="398.8" y="314.5"/>
<use href="#md" x="353.4" y="290"/>
<use href="#md" x="351" y="301"/>
<use href="#mm" x="377.2" y="289.8"/>
<use href="#mm" x="360.5" y="299.1"/>
<use href="#mw" x="387.3" y="293.4"/>
<use href="#md" x="366.8" y="276.4"/>
<use href="#mm" x="379.9" y="296.4"/>
<use href="#mm" x="397" y="299"/>
<use href="#mm" x="391.7" y="292.5"/>
<use href="#mm" x="392.3" y="275.5"/>
<use href="#ml" x="394.8" y="288.1"/>
<use href="#mm" x="375.1" y="301.1"/>
<use href="#md" x="355.6" y="304.3"/>
<use href="#mm" x="387.8" y="290.2"/>
<use href="#md" x="389.4" y="286.8"/>
<use href="#mw" x="389" y="280.3"/>
<use href="#md" x="329.9" y="297.7"/>
<use href="#ml" x="339.9" y="280.5"/>
<use href="#mm" x="363.4" y="290.6"/>
<use href="#mm" x="382.1" y="303.8"/>
<use href="#ml" x="360.9" y="291.4"/>
<use href="#md" x="350.8" y="297.7"/>
<use href="#mm" x="416" y="330.6"/>
<use href="#mm" x="334.1" y="282.3"/>
<use href="#md" x="378.9" y="307"/>
<use href="#md" x="349.2" y="295.5"/>
<use href="#mm" x="383.3" y="299.4"/>
<use href="#md" x="370.5" y="288.7"/>
<use href="#mm" x="393.3" y="286.5"/>
<use href="#mm" x="379.2" y="301.2"/>
<use href="#mk" x="349.1" y="286.8"/>
<use href="#mk" x="327.8" y="298.7"/>
<use href="#mk" x="338.1" y="276.7"/>
<use href="#ml" x="375.3" y="292.9"/>
<use href="#mm" x="389.1" y="305.5"/>
<use href="#ml" x="391.9" y="283"/>
<use href="#mm" x="356.5" y="306.7"/>
<use href="#mm" x="362.2" y="292.1"/>
<use href="#mm" x="333.7" y="282"/>
<use href="#mm" x="321.2" y="318.1"/>
<use href="#md" x="388.4" y="271.3"/>
<use href="#mk" x="368.6" y="300.5"/>
<use href="#ml" x="400.1" y="308.4"/>
<use href="#mm" x="394.6" y="305.7"/>
<use href="#ml" x="391.5" y="285.2"/>
<use href="#mm" x="344" y="283.6"/>
<use href="#ml" x="406.9" y="327.9"/>
<use href="#ml" x="389.6" y="284.4"/>
<use href="#ml" x="334.3" y="278.3"/>
<use href="#mk" x="368.7" y="294.9"/>
<use href="#md" x="353.2" y="303.9"/>
<use href="#ml" x="407.9" y="326.3"/>
<use href="#mm" x="323.8" y="311.3"/>
<use href="#mm" x="393.7" y="300.9"/>
<use href="#mm" x="397.2" y="307.6"/>
<use href="#ml" x="306.7" y="329.5"/>
<use href="#mm" x="382.7" y="298.2"/>
<use href="#mm" x="347.9" y="287"/>
<use href="#mm" x="380.9" y="307.5"/>
<use href="#ml" x="395.6" y="300.9"/>
<use href="#mm" x="326.1" y="304.9"/>
<use href="#ml" x="351.4" y="287.9"/>
<use href="#mk" x="338.5" y="285.3"/>
<use href="#ml" x="396.4" y="307.8"/>
<use href="#ml" x="393.3" y="298.6"/>
<use href="#mm" x="391.2" y="290.1"/>
<use href="#mm" x="376.7" y="301.8"/>
<use href="#ml" x="366.8" y="295"/>
<use href="#ml" x="299.6" y="330.5"/>
<use href="#mk" x="389.9" y="284"/>
<use href="#md" x="311" y="329.1"/>
<use href="#mk" x="330.6" y="290.4"/>
<use href="#mm" x="372.6" y="293.8"/>
<use href="#ml" x="398.9" y="315.5"/>
<use href="#mm" x="350.1" y="289.4"/>
<use href="#md" x="330.4" y="302"/>
<use href="#mm" x="390.6" y="275.3"/>
<use href="#mm" x="350.2" y="296.9"/>
<use href="#mm" x="371.3" y="278"/>
<use href="#mm" x="363.3" y="284.1"/>
<use href="#mm" x="362.5" y="298.1"/>
<use href="#md" x="363.4" y="300.5"/>
<use href="#mk" x="378.4" y="308.3"/>
<use href="#md" x="373.6" y="291.4"/>
<use href="#ml" x="329.1" y="294.7"/>
<use href="#ml" x="401.4" y="321.4"/>
<use href="#mm" x="367.7" y="276.6"/>
<use href="#ml" x="350.3" y="297.9"/>
<use href="#ml" x="370.7" y="280.9"/>
<use href="#mm" x="371.6" y="285"/>
<use href="#md" x="309" y="329.5"/>
<use href="#mm" x="330.3" y="291.9"/>
<use href="#ml" x="299.8" y="333.1"/>
<use href="#ml" x="390.7" y="270.6"/>
<use href="#mk" x="390.8" y="295.9"/>
<use href="#ml" x="326.5" y="290.8"/>
<use href="#mm" x="303.5" y="333.9"/>
<use href="#md" x="330.5" y="298.1"/>
<use href="#mm" x="359.7" y="293.8"/>
<use href="#md" x="324.4" y="300.8"/>
<use href="#md" x="393.3" y="289.1"/>
<use href="#mk" x="345.5" y="298.5"/>
<use href="#mm" x="373.6" y="291.8"/>
<use href="#md" x="340.4" y="276.9"/>
<use href="#md" x="387.4" y="308.5"/>
<use href="#mm" x="395.6" y="281.8"/>
<use href="#mm" x="372.1" y="293.5"/>
<use href="#mk" x="354.4" y="309.2"/>
<use href="#mm" x="329.3" y="294.7"/>
<use href="#mk" x="355.8" y="307.6"/>
<use href="#mm" x="350.2" y="291.9"/>
<use href="#mm" x="315.1" y="319.9"/>
<use href="#mm" x="390.6" y="288.3"/>
<use href="#md" x="354.3" y="304.7"/>
<use href="#mm" x="373.6" y="284.7"/>
<use href="#mk" x="393" y="294.8"/>
<use href="#md" x="370.2" y="292.9"/>
<use href="#mm" x="374.1" y="279.2"/>
<use href="#md" x="330" y="302.6"/>
<use href="#mm" x="369.1" y="288.2"/>
<use href="#mm" x="363" y="274.4"/>
<use href="#mk" x="379.4" y="308.8"/>
<use href="#mk" x="370.6" y="285.8"/>
<use href="#md" x="345" y="292.3"/>
<use href="#mm" x="395.9" y="300.7"/>
<use href="#mm" x="347.9" y="290"/>
<use href="#md" x="373.7" y="285.7"/>
<use href="#mm" x="367.8" y="277.2"/>
<use href="#md" x="404.4" y="317.8"/>
<use href="#md" x="338.7" y="274.6"/>
<use href="#mm" x="328.9" y="301.8"/>
<use href="#mm" x="358.5" y="295.5"/>
<use href="#mm" x="354" y="301.3"/>
<use href="#md" x="313.1" y="319.4"/>
<use href="#mk" x="347.1" y="290.4"/>
<use href="#mm" x="364.7" y="283.4"/>
<use href="#mm" x="412.9" y="329.4"/>
<use href="#mm" x="368.3" y="289.1"/>
<use href="#md" x="391.8" y="280.1"/>
<use href="#mk" x="318.7" y="317.2"/>
<use href="#mk" x="334.6" y="292.6"/>
<use href="#md" x="334.5" y="283"/>
<use href="#md" x="365.4" y="278.9"/>
<use href="#md" x="368.4" y="278.7"/>
<use href="#mk" x="344.8" y="292.4"/>
<use href="#md" x="376.6" y="293.3"/>
<use href="#md" x="333.4" y="294.5"/>
<use href="#md" x="351" y="305.1"/>
<use href="#md" x="340.2" y="287.6"/>
<use href="#md" x="326.7" y="311.3"/>
<use href="#mk" x="364.3" y="283.4"/>
<use href="#md" x="370.4" y="279.8"/>
<use href="#mk" x="365.6" y="298.4"/>
<use href="#md" x="365.5" y="287.8"/>
<use href="#md" x="357.9" y="295.7"/>
<use href="#mk" x="339.9" y="286.8"/>
<use href="#md" x="304.7" y="334.3"/>
<use href="#md" x="391.7" y="297.1"/>
<use href="#md" x="388.6" y="308.1"/>
<use href="#mk" x="375.1" y="301.8"/>
<use href="#md" x="383.2" y="310.6"/>
<use href="#mk" x="390.1" y="307.8"/>
<use href="#md" x="328.9" y="307.6"/>
<use href="#mk" x="350.1" y="301.5"/>
<use href="#mk" x="334.9" y="284.2"/>
<use href="#mk" x="356.3" y="301.9"/>
<use href="#mk" x="391" y="300.5"/>
<use href="#mk" x="387.3" y="306.9"/>
<use href="#mk" x="345.8" y="292.9"/>
<use href="#mk" x="363.7" y="302.4"/>
<use href="#mk" x="368" y="296.3"/>
<path d="M373.5 292.3l0.9 0.9l-0.9 0.9l-0.9 -0.9zM367.5 282.4l1 1l-1 1l-1 -1zM364 289.7l1.3 1.3l-1.3 1.3l-1.3 -1.3zM413 329.1l1.3 1.3l-1.3 1.3l-1.3 -1.3zM385 311.3l1.3 1.3l-1.3 1.3l-1.3 -1.3zM369.5 280.4l1.5 1.5l-1.5 1.5l-1.5 -1.5zM338.5 286.4l1.1 1.1l-1.1 1.1l-1.1 -1.1zM318 325.3l1.1 1.1l-1.1 1.1l-1.1 -1.1zM389 310.9l1.2 1.2l-1.2 1.2l-1.2 -1.2zM391.5 280.5l1.4 1.4l-1.4 1.4l-1.4 -1.4zM375.5 301.9l1.2 1.2l-1.2 1.2l-1.2 -1.2zM359.5 299.6l1.1 1.1l-1.1 1.1l-1.1 -1.1zM394 295.4l1.2 1.2l-1.2 1.2l-1.2 -1.2zM366 292.3l1.1 1.1l-1.1 1.1l-1.1 -1.1zM325 309l1.4 1.4l-1.4 1.4l-1.4 -1.4zM402 325.7l1 1l-1 1l-1 -1zM352.5 298.5l1 1l-1 1l-1 -1zM322 317.9l1.1 1.1l-1.1 1.1l-1.1 -1.1zM338.5 275.7l1.1 1.1l-1.1 1.1l-1.1 -1.1zM410.5 332.8l1.4 1.4l-1.4 1.4l-1.4 -1.4zM337 283.9l1 1l-1 1l-1 -1zM301 332.7l1 1l-1 1l-1 -1zM308.5 331.8l1.3 1.3l-1.3 1.3l-1.3 -1.3zM339 285.9l1 1l-1 1l-1 -1zM374 301.8l1.4 1.4l-1.4 1.4l-1.4 -1.4zM357 299.5l1.4 1.4l-1.4 1.4l-1.4 -1.4zM347.5 286l1.2 1.2l-1.2 1.2l-1.2 -1.2zM333 298.7l1.2 1.2l-1.2 1.2l-1.2 -1.2zM341.5 285.7l1.4 1.4l-1.4 1.4l-1.4 -1.4zM361.5 292.2l1.1 1.1l-1.1 1.1l-1.1 -1.1zM346 294.1l1.1 1.1l-1.1 1.1l-1.1 -1.1zM391 273.5l1 1l-1 1l-1 -1zM346.5 293.7l1 1l-1 1l-1 -1zM316.5 324.3l1.1 1.1l-1.1 1.1l-1.1 -1.1zM384 313.3l1.1 1.1l-1.1 1.1l-1.1 -1.1zM370.5 291l1.3 1.3l-1.3 1.3l-1.3 -1.3zM335.5 284.4l1.5 1.5l-1.5 1.5l-1.5 -1.5zM327 310.7l1.5 1.5l-1.5 1.5l-1.5 -1.5zM340.5 286.8l1.3 1.3l-1.3 1.3l-1.3 -1.3zM409 326.3l1.4 1.4l-1.4 1.4l-1.4 -1.4zM320.5 314.8l1 1l-1 1l-1 -1zM337.5 275.8l1.1 1.1l-1.1 1.1l-1.1 -1.1zM357 302l1.2 1.2l-1.2 1.2l-1.2 -1.2zM366 298.7l1.3 1.3l-1.3 1.3l-1.3 -1.3zM346 299.5l1.4 1.4l-1.4 1.4l-1.4 -1.4zM326.5 316.1l1.3 1.3l-1.3 1.3l-1.3 -1.3zM408.5 330.6l1.1 1.1l-1.1 1.1l-1.1 -1.1zM351.5 297.1l1.5 1.5l-1.5 1.5l-1.5 -1.5zM402 323.9l0.9 0.9l-0.9 0.9l-0.9 -0.9zM378 312.3l1.2 1.2l-1.2 1.2l-1.2 -1.2zM395 306.1l0.9 0.9l-0.9 0.9l-0.9 -0.9zM376.5 302.5l1.4 1.4l-1.4 1.4l-1.4 -1.4zM332.5 289.3l1.3 1.3l-1.3 1.3l-1.3 -1.3zM384 308.9l1.1 1.1l-1.1 1.1l-1.1 -1.1zM359.5 309.2l1.2 1.2l-1.2 1.2l-1.2 -1.2zM363.5 306.3l1.4 1.4l-1.4 1.4l-1.4 -1.4zM351.5 294.6l0.9 0.9l-0.9 0.9l-0.9 -0.9zM357 297.2l1.2 1.2l-1.2 1.2l-1.2 -1.2zM337.5 289.6l1.3 1.3l-1.3 1.3l-1.3 -1.3zM306.5 332.9l1.5 1.5l-1.5 1.5l-1.5 -1.5zM355 300.2l1.3 1.3l-1.3 1.3l-1.3 -1.3zM394.5 294.7l1.2 1.2l-1.2 1.2l-1.2 -1.2zM345.5 299.8l1.3 1.3l-1.3 1.3l-1.3 -1.3zM403 323.5l1.4 1.4l-1.4 1.4l-1.4 -1.4zM394 305l1.1 1.1l-1.1 1.1l-1.1 -1.1zM402 327.9l0.9 0.9l-0.9 0.9l-0.9 -0.9zM335.5 295.1l1.2 1.2l-1.2 1.2l-1.2 -1.2zM415 332l1.3 1.3l-1.3 1.3l-1.3 -1.3zM355.5 302.5l1.3 1.3l-1.3 1.3l-1.3 -1.3zM333.5 284.6l1.4 1.4l-1.4 1.4l-1.4 -1.4zM338.5 288.8l1.4 1.4l-1.4 1.4l-1.4 -1.4zM341 283.9l1.1 1.1l-1.1 1.1l-1.1 -1.1zM339 279.6l1 1l-1 1l-1 -1zM390 299.4l1.3 1.3l-1.3 1.3l-1.3 -1.3zM374 306.9l1 1l-1 1l-1 -1zM331.5 300.1l1.4 1.4l-1.4 1.4l-1.4 -1.4zM376 300.3l1 1l-1 1l-1 -1zM373.5 289.7l1.1 1.1l-1.1 1.1l-1.1 -1.1zM371 294.5l1.3 1.3l-1.3 1.3l-1.3 -1.3zM357 307.1l1.2 1.2l-1.2 1.2l-1.2 -1.2zM371 292.8l1.5 1.5l-1.5 1.5l-1.5 -1.5zM391 297l1.4 1.4l-1.4 1.4l-1.4 -1.4zM353.5 295.2l1.2 1.2l-1.2 1.2l-1.2 -1.2zM356 311.3l1.1 1.1l-1.1 1.1l-1.1 -1.1zM361.5 298.4l1.1 1.1l-1.1 1.1l-1.1 -1.1zM375.5 291.1l1.2 1.2l-1.2 1.2l-1.2 -1.2zM325 311.9l1.3 1.3l-1.3 1.3l-1.3 -1.3zM406 329.4l1 1l-1 1l-1 -1zM396 307.2l1 1l-1 1l-1 -1zM332.5 292.5l1.3 1.3l-1.3 1.3l-1.3 -1.3zM368.5 295.4l0.9 0.9l-0.9 0.9l-0.9 -0.9zM372.5 289.5l1.1 1.1l-1.1 1.1l-1.1 -1.1zM407 327.1l0.9 0.9l-0.9 0.9l-0.9 -0.9zM384 308.3l0.9 0.9l-0.9 0.9l-0.9 -0.9zM372 279.8l1.4 1.4l-1.4 1.4l-1.4 -1.4zM365 300.8l1.5 1.5l-1.5 1.5l-1.5 -1.5zM380.5 308.6l1.4 1.4l-1.4 1.4l-1.4 -1.4zM390.5 290.3l1.3 1.3l-1.3 1.3l-1.3 -1.3zM350.5 293.9l1.1 1.1l-1.1 1.1l-1.1 -1.1zM395 294.1l0.9 0.9l-0.9 0.9l-0.9 -0.9zM401 324l1.2 1.2l-1.2 1.2l-1.2 -1.2zM374 288.6l1 1l-1 1l-1 -1zM370.5 282.1l1 1l-1 1l-1 -1zM375.5 296.8l1 1l-1 1l-1 -1zM357.5 304.5l1.1 1.1l-1.1 1.1l-1.1 -1.1zM366.5 292.7l1.2 1.2l-1.2 1.2l-1.2 -1.2zM388 311.7l1.5 1.5l-1.5 1.5l-1.5 -1.5zM336 283.4l0.9 0.9l-0.9 0.9l-0.9 -0.9zM371.5 291.9l1.3 1.3l-1.3 1.3l-1.3 -1.3zM375 291.1l1.1 1.1l-1.1 1.1l-1.1 -1.1zM399.5 314.9l1.3 1.3l-1.3 1.3l-1.3 -1.3zM354.5 304.5l1.4 1.4l-1.4 1.4l-1.4 -1.4zM338 283.3l1.5 1.5l-1.5 1.5l-1.5 -1.5zM361.5 306l0.9 0.9l-0.9 0.9l-0.9 -0.9zM316.5 325.9l1.1 1.1l-1.1 1.1l-1.1 -1.1zM351 309.8l1 1l-1 1l-1 -1zM368 304.6l1.1 1.1l-1.1 1.1l-1.1 -1.1zM351.5 290l1 1l-1 1l-1 -1zM419 332.7l1 1l-1 1l-1 -1zM393 282.7l1 1l-1 1l-1 -1zM363 302.1l0.9 0.9l-0.9 0.9l-0.9 -0.9zM328.5 310.4l1.5 1.5l-1.5 1.5l-1.5 -1.5zM341.5 282.6l1.1 1.1l-1.1 1.1l-1.1 -1.1zM354.5 307.5l1.2 1.2l-1.2 1.2l-1.2 -1.2zM388.5 307.3l1.3 1.3l-1.3 1.3l-1.3 -1.3zM344 296l1.2 1.2l-1.2 1.2l-1.2 -1.2zM393.5 286.9l1 1l-1 1l-1 -1zM332.5 294.2l1 1l-1 1l-1 -1zM336 279l1.4 1.4l-1.4 1.4l-1.4 -1.4zM369 297.1l1.3 1.3l-1.3 1.3l-1.3 -1.3zM360 295.6l1.4 1.4l-1.4 1.4l-1.4 -1.4zM346 296.5l1.2 1.2l-1.2 1.2l-1.2 -1.2zM339 289.5l1.1 1.1l-1.1 1.1l-1.1 -1.1zM408 327.7l1.3 1.3l-1.3 1.3l-1.3 -1.3zM367 282.5l1.4 1.4l-1.4 1.4l-1.4 -1.4zM373.5 305l1.3 1.3l-1.3 1.3l-1.3 -1.3zM339.5 285.4l1.2 1.2l-1.2 1.2l-1.2 -1.2zM314.5 323.5l1.1 1.1l-1.1 1.1l-1.1 -1.1zM329.5 307.6l1.1 1.1l-1.1 1.1l-1.1 -1.1zM363 293.4l1.3 1.3l-1.3 1.3l-1.3 -1.3zM363 290l1.2 1.2l-1.2 1.2l-1.2 -1.2zM333 285.6l1 1l-1 1l-1 -1zM351.5 290.9l1.4 1.4l-1.4 1.4l-1.4 -1.4zM315 320.2l1.2 1.2l-1.2 1.2l-1.2 -1.2zM376 302.5l1.3 1.3l-1.3 1.3l-1.3 -1.3zM383 308.9l1.2 1.2l-1.2 1.2l-1.2 -1.2zM336.5 275.8l1.3 1.3l-1.3 1.3l-1.3 -1.3zM372.5 302.5l1.1 1.1l-1.1 1.1l-1.1 -1.1zM394.5 307.5l1.4 1.4l-1.4 1.4l-1.4 -1.4zM332.5 302.7l1.2 1.2l-1.2 1.2l-1.2 -1.2zM378 310.5l1.2 1.2l-1.2 1.2l-1.2 -1.2zM405 324.5l1.1 1.1l-1.1 1.1l-1.1 -1.1zM376.5 308l1.1 1.1l-1.1 1.1l-1.1 -1.1zM324 315.4l1.2 1.2l-1.2 1.2l-1.2 -1.2zM323 316.2l1.5 1.5l-1.5 1.5l-1.5 -1.5zM392.5 281l1.4 1.4l-1.4 1.4l-1.4 -1.4zM322.5 318.4l1 1l-1 1l-1 -1zM369 299.9l0.9 0.9l-0.9 0.9l-0.9 -0.9zM311.5 330.5l1.2 1.2l-1.2 1.2l-1.2 -1.2zM334.5 282.4l1.3 1.3l-1.3 1.3l-1.3 -1.3zM344.5 297.6l1.4 1.4l-1.4 1.4l-1.4 -1.4zM344 292.9l1 1l-1 1l-1 -1zM382.5 303.6l1.3 1.3l-1.3 1.3l-1.3 -1.3zM364 296.5l1.4 1.4l-1.4 1.4l-1.4 -1.4zM354 295.8l1.4 1.4l-1.4 1.4l-1.4 -1.4zM377 296.7l1.2 1.2l-1.2 1.2l-1.2 -1.2zM362 288.7l1.4 1.4l-1.4 1.4l-1.4 -1.4zM376.5 293.6l1.2 1.2l-1.2 1.2l-1.2 -1.2zM321 317.3l1.1 1.1l-1.1 1.1l-1.1 -1.1z" fill="#a3c2fb" opacity="0.78"/>
<use href="#ml" x="307.1" y="324.8"/>
<use href="#md" x="315.1" y="318.8"/>
<use href="#md" x="316.2" y="313.6"/>
<use href="#mw" x="318.3" y="314.6"/>
<use href="#mw" x="323.8" y="304.5"/>
<use href="#mw" x="326.5" y="293.9"/>
<use href="#ml" x="328.9" y="284.1"/>
<use href="#mm" x="331.3" y="280.9"/>
<use href="#mm" x="342.3" y="277.2"/>
<use href="#mm" x="345.1" y="280.7"/>
<use href="#mm" x="356.5" y="292.2"/>
<use href="#md" x="360" y="286.2"/>
<use href="#mm" x="363.2" y="275.3"/>
<use href="#ml" x="366" y="273.9"/>
<use href="#mm" x="371.7" y="275.9"/>
<use href="#mw" x="375.6" y="283.8"/>
<use href="#mw" x="377.2" y="286.5"/>
<use href="#ml" x="382.4" y="296.6"/>
<use href="#mm" x="386.1" y="295.2"/>
<use href="#ml" x="391.4" y="272"/>
<use href="#mw" x="394.3" y="274.4"/>
<use href="#mw" x="395.3" y="279.5"/>
<use href="#md" x="396.9" y="282.9"/>
<use href="#mw" x="398.9" y="300.3"/>
<use href="#ml" x="397.5" y="305.2"/>
<use href="#ml" x="400.6" y="310.2"/>
<use href="#mm" x="403.4" y="316.7"/>
<use href="#ml" x="406.2" y="323"/>
<ellipse cx="368.8" cy="280.5" rx="2.6" ry="5.5" fill="#1a6c78" filter="url(#b2)" opacity="0.88"/>
<ellipse cx="393.3" cy="297.5" rx="2.4" ry="9.5" fill="#1a6c78" filter="url(#b2)" opacity="0.88"/>
</g>
<path d="M340.7 190.4V334.2" stroke="#6e6e6e" stroke-width="1" stroke-dasharray="1 2.6" fill="none" opacity="0.85"/>
<path d="M297.5 335H432V336.4L430.5 336.9L429.1 336.6L427.4 336.6L425.8 336.4L424.5 336.9L423.3 336.5L421.8 337L420.3 336.5L419.1 336.9L417.8 336.5L416.4 336.7L415 336.4L414 336.5L413.1 336.3L411.6 337.2L410.1 336.4L408.5 336.9L407 336.6L405.3 336.7L403.6 336.3L402.7 336.9L401.8 336.6L400.6 336.9L399.5 336.3L398.3 336.9L397.1 336.5L395.8 336.6L394.4 336.3L393.5 336.7L392.6 336.5L391.4 336.6L390.3 336.4L389 336.8L387.7 336.3L386.7 336.5L385.7 336.6L384.1 336.6L382.5 336.2L381.3 336.8L380.1 336.3L378.8 337.1L377.6 336.5L376.6 337L375.6 336.2L374.4 337L373.2 336.3L371.6 337.2L370 336.2L368.6 336.6L367.1 336.4L365.6 337L364 336.3L362.5 337L360.9 336.3L359.6 336.6L358.3 336.3L357.6 337L356.8 336.5L355.1 336.9L353.4 336.3L351.8 336.9L350.2 336.3L349.3 337.2L348.4 336.6L347.4 336.7L346.4 336.3L344.8 336.9L343.3 336.2L342.1 337.2L341 336.6L339.9 336.8L338.7 336.3L337.1 337L335.5 336.5L334.3 336.8L333.1 336.6L332.3 336.6L331.4 336.5L330.5 336.8L329.5 336.3L328.2 336.9L327 336.4L325.8 337.1L324.6 336.5L323 336.8L321.4 336.3L320.1 336.8L318.7 336.5L317.5 337L316.3 336.2L315 336.6L313.6 336.5L312.2 336.5L310.8 336.4L309.2 336.8L307.7 336.6L306.9 336.8L306.1 336.2L304.7 336.9L303.2 336.3L302.5 336.9L301.7 336.2L300.6 336.9L299.6 336.4L298.6 336.6L297.5 336.3Z" fill="#0b0b0b"/>
<path d="M432.5 335h7v1.5h-7z" fill="#0b0b0b"/>
<path d="M442 335h8v1.5h-8z" fill="#0b0b0b"/>
<path d="M454.7 335h7.6v1.5h-7.6z" fill="#0b0b0b"/>
<path d="M463.5 335h8v1.5h-8z" fill="#0b0b0b"/>
<path d="M482.4 335h4.4v1.5h-4.4z" fill="#0b0b0b"/>
<path d="M295 335h6v1.5h-6z" fill="#0b0b0b"/>
<rect x="287.3" y="189.4" width="203.2" height="149.4" fill="none" stroke="#4d4d4d" stroke-width="1.3"/>
<g font-size="8.5" fill="#2e2e2e"><text x="281.3" y="199.5" text-anchor="end">300</text><text x="281.3" y="222.7" text-anchor="end">250</text><text x="281.3" y="245.9" text-anchor="end">200</text><text x="281.3" y="269.1" text-anchor="end">150</text><text x="281.3" y="292.3" text-anchor="end">100</text><text x="281.3" y="315.5" text-anchor="end">50</text><text x="281.3" y="338.7" text-anchor="end">0</text><text x="309.5" y="346.4" text-anchor="middle">−10</text><text x="341" y="346.4" text-anchor="middle">0</text><text x="372.5" y="346.4" text-anchor="middle">10</text><text x="404" y="346.4" text-anchor="middle">20</text><text x="435.5" y="346.4" text-anchor="middle">30</text><text x="467" y="346.4" text-anchor="middle">40</text></g>
<text x="294.1" y="207.8" font-size="17" font-weight="bold" letter-spacing="0.3" fill="#111">[c]</text>
<text x="392" y="354.6" font-size="10" text-anchor="middle" fill="#222"><tspan font-style="italic">v</tspan>F</text>
<text transform="translate(263.2 261) rotate(-90)" font-size="9.6" font-weight="bold" text-anchor="middle" fill="#111">AuMet(kg)</text>
</g>
<g id="panel-d">
<path d="M52.7 371.3V520.7M73.6 371.3V520.7M94.4 371.3V520.7M115.2 371.3V520.7M136.1 371.3V520.7M157 371.3V520.7M177.8 371.3V520.7M198.7 371.3V520.7M219.5 371.3V520.7M240.4 371.3V520.7M38.9 380H242.3M38.9 391.6H242.3M38.9 403.1H242.3M38.9 414.6H242.3M38.9 426.2H242.3M38.9 437.8H242.3M38.9 449.3H242.3M38.9 460.9H242.3M38.9 472.4H242.3M38.9 483.9H242.3M38.9 495.5H242.3M38.9 507.1H242.3M38.9 518.6H242.3" stroke="#f3f3f3" stroke-width="0.7" fill="none"/>
<path d="M40.9 519.2H240.3" stroke="#8a8a8a" stroke-width="1" stroke-dasharray="1 2.2" fill="none"/>
<clipPath id="clipd"><rect x="38.9" y="371.3" width="203.4" height="148.5"/></clipPath>
<use href="#mw" x="160" y="376.2"/>
<use href="#mw" x="157.4" y="400.4"/>
<use href="#mw" x="162" y="412"/>
<use href="#mb" x="161.2" y="414"/>
<use href="#mw" x="166.2" y="415"/>
<use href="#mw" x="174.4" y="413.7"/>
<use href="#mw" x="169.4" y="420"/>
<use href="#mw" x="160" y="436"/>
<use href="#mw" x="157" y="444.3"/>
<use href="#mw" x="157" y="448.6"/>
<use href="#mw" x="174.4" y="446.8"/>
<use href="#mw" x="185" y="480"/>
<use href="#mw" x="199" y="482"/>
<use href="#mw" x="221" y="482.4"/>
<use href="#mw" x="199.3" y="497"/>
<use href="#mw" x="212.8" y="498.6"/>
<use href="#mw" x="202.3" y="501"/>
<use href="#mw" x="206" y="508.6"/>
<use href="#mw" x="216" y="508"/>
<use href="#mw" x="197.3" y="507"/>
<use href="#ms" x="232.3" y="510.4"/>
<use href="#mw" x="125" y="507"/>
<use href="#mw" x="141.2" y="505"/>
<g clip-path="url(#clipd)">
<path d="M41 521.2L41 515.8L43.3 515.8L46.2 516.4L48.1 515.1L50.8 516L53.6 515.9L55.2 516.1L56.7 514.9L59.5 516L61.8 515.5L64.6 516.2L67.3 515.8L69.3 514.9L71.8 514.8L73.9 515.7L75.6 515.1L77.8 516.3L81.1 515.2L83.1 515.6L85 515.1L87.9 515.3L90.9 515L94.2 515.1L96.5 516.3L99.4 515.1L101.2 514.9L103.1 516.3L105 515L107.8 516.1L110.3 516.1L113.6 515.5L116.5 515.4L118.5 515.3L120.2 515.9L122.6 515.9L125 516.5L125 521.2Z" fill="#8fb6fb"/>
<use href="#md" x="97.9" y="520.4"/>
<use href="#mm" x="45.7" y="520.3"/>
<use href="#mm" x="100.7" y="520.4"/>
<use href="#md" x="62.9" y="519.8"/>
<use href="#mm" x="86.8" y="520"/>
<use href="#mm" x="120" y="520.5"/>
<use href="#ml" x="70.2" y="519.5"/>
<use href="#mm" x="42.4" y="519.8"/>
<use href="#ml" x="103.1" y="520.5"/>
<use href="#mm" x="101.3" y="519.7"/>
<use href="#mm" x="107.4" y="520.2"/>
<use href="#ml" x="83" y="519.4"/>
<use href="#ml" x="62" y="519.6"/>
<use href="#ml" x="86.8" y="520.5"/>
<use href="#ml" x="115" y="520"/>
<use href="#ml" x="111.9" y="519.4"/>
<use href="#md" x="85.6" y="520"/>
<use href="#mm" x="65.5" y="520.3"/>
<use href="#ml" x="62.5" y="520.3"/>
<use href="#mm" x="48.2" y="520.6"/>
<use href="#ml" x="73.2" y="520.3"/>
<use href="#ml" x="48.9" y="520.4"/>
<use href="#ml" x="84" y="520.4"/>
<use href="#mm" x="111.9" y="519.6"/>
<use href="#mm" x="84.1" y="519.8"/>
<use href="#mm" x="82.7" y="520.5"/>
<use href="#mm" x="85.3" y="519.7"/>
<use href="#ml" x="59.3" y="520.2"/>
<use href="#mm" x="121.3" y="520.4"/>
<use href="#ml" x="121.3" y="520"/>
<use href="#ml" x="81" y="520.1"/>
<use href="#mm" x="88.1" y="519.6"/>
<use href="#mm" x="117.9" y="520.3"/>
<use href="#ml" x="65.1" y="520.5"/>
<use href="#mm" x="108" y="520.3"/>
<use href="#mm" x="52.6" y="520.6"/>
<use href="#md" x="53.3" y="520.5"/>
<use href="#ml" x="43.3" y="520.6"/>
<path d="M42 517.4h2.1v1.1h-2.1zM56.3 517.6h2.2v1.1h-2.2zM61.2 517.3h2.2v1.1h-2.2zM64.4 517.6h2.9v1.1h-2.9zM75.1 517.4h1.8v1.1h-1.8zM78 517.5h1.4v1.1h-1.4zM80.4 517.7h1.3v1.1h-1.3zM87.3 517.4h2.7v1.1h-2.7zM95.5 517.6h2.7v1.1h-2.7zM100.2 517.9h2.6v1.1h-2.6zM103.3 517.1h2.7v1.1h-2.7zM106.7 517.8h1.8v1.1h-1.8zM114.1 517.2h2.2v1.1h-2.2zM122.5 517.5h1.4v1.1h-1.4z" fill="#35b9e6" opacity="0.85"/>
<path d="M200 521.2L200 515.1L203.5 515.1L206.4 514.5L208.2 515.3L209.8 515.4L212.1 515.3L214.1 514.8L216.4 515.8L219.1 514.7L220.7 515.6L223.7 515.6L226.2 514.7L229.7 515.3L232.4 514.4L235.2 514.7L237 516L237 521.2Z" fill="#8fb6fb"/>
<use href="#ml" x="226" y="520.3"/>
<use href="#mm" x="221" y="520.3"/>
<use href="#ml" x="229.3" y="519.6"/>
<use href="#mm" x="212.2" y="520.1"/>
<use href="#ml" x="229.3" y="519.9"/>
<use href="#md" x="203.1" y="520.1"/>
<use href="#md" x="227.7" y="520"/>
<use href="#mm" x="210.9" y="519.7"/>
<use href="#ml" x="212.3" y="520.5"/>
<use href="#ml" x="226.6" y="519.7"/>
<use href="#ml" x="215.7" y="519.7"/>
<use href="#ml" x="217.8" y="519.9"/>
<use href="#mm" x="202.8" y="519.9"/>
<use href="#mm" x="223.2" y="519.9"/>
<use href="#mm" x="207.4" y="520.5"/>
<use href="#ml" x="219.8" y="519.8"/>
<path d="M201 517.8h2.2v1.1h-2.2zM204.6 517.5h1.7v1.1h-1.7zM208.9 517.5h2.9v1.1h-2.9zM223.2 517.6h1.7v1.1h-1.7zM226.8 517.8h1.8v1.1h-1.8zM231 517.5h1.4v1.1h-1.4z" fill="#35b9e6" opacity="0.85"/>
</g>
<mask id="maskd" maskUnits="userSpaceOnUse" x="0" y="0" width="501" height="550"><path d="M41 525.2L41 518L44 516L52 515.5L58 515L62.4 513L66 514.5L70 512.5L73 512L76 514L85 514.5L100 514.5L112 514L120 513.6L125 510L130 511.5L135 512L138 508L141 505L146 503L150 500L152.4 490L153 480L153.7 472.4L155 466L157.4 460L161 456L165 453.5L170 452L174 453L176 455L177.5 462L178.6 470L181 482.4L183.5 488L186 493.6L190 502.4L195 508.6L200 511.5L205 513.6L220 513.6L227 515L235 516L237 518.5L237 525.2Z" fill="#fff" stroke="#000" stroke-width="19" stroke-linejoin="round"/></mask>
<g clip-path="url(#clipd)"><rect x="38.9" y="371.3" width="203.4" height="149.4" fill="#1c2893" mask="url(#maskd)"/></g>
<g clip-path="url(#clipd)">
<use href="#ml" x="133.7" y="517.9"/>
<use href="#ml" x="81.6" y="516.8"/>
<use href="#ml" x="79.3" y="516.7"/>
<use href="#ml" x="195.2" y="514.8"/>
<use href="#mw" x="175" y="478.8"/>
<use href="#ml" x="101.1" y="517"/>
<use href="#ml" x="90.3" y="517.9"/>
<use href="#ml" x="115.3" y="518.5"/>
<use href="#mm" x="179" y="490.4"/>
<use href="#mm" x="124.2" y="515.2"/>
<use href="#mm" x="98.5" y="517"/>
<use href="#ml" x="104" y="517.4"/>
<use href="#ml" x="134.1" y="514.4"/>
<use href="#ml" x="112" y="516.5"/>
<use href="#ml" x="104.9" y="516.8"/>
<use href="#ml" x="85" y="517"/>
<use href="#ml" x="170.8" y="461.8"/>
<use href="#mm" x="177.7" y="481.8"/>
<use href="#mm" x="159.1" y="497.3"/>
<use href="#mm" x="172.7" y="461"/>
<use href="#ml" x="128.6" y="515.1"/>
<use href="#ml" x="93.7" y="517.3"/>
<use href="#mm" x="111" y="517.7"/>
<use href="#md" x="172.1" y="467.7"/>
<use href="#md" x="176.4" y="476.3"/>
<use href="#ml" x="176.3" y="472.4"/>
<use href="#mm" x="182.5" y="498.5"/>
<use href="#ml" x="73" y="516.4"/>
<use href="#md" x="85.5" y="517.9"/>
<use href="#mm" x="112.1" y="517.6"/>
<use href="#ml" x="154.8" y="503.9"/>
<use href="#mm" x="89.7" y="517"/>
<use href="#md" x="156.1" y="502.8"/>
<use href="#ml" x="181.5" y="498.9"/>
<use href="#md" x="164.1" y="481.5"/>
<use href="#md" x="113.7" y="518.8"/>
<use href="#ml" x="183.7" y="501.6"/>
<use href="#md" x="163.8" y="485.5"/>
<use href="#md" x="163.7" y="486.1"/>
<use href="#ml" x="137.4" y="513.8"/>
<use href="#md" x="201.7" y="517.9"/>
<use href="#ml" x="93.5" y="518.5"/>
<use href="#ml" x="175.7" y="468.6"/>
<use href="#ml" x="107.7" y="516.7"/>
<use href="#md" x="203.4" y="517.3"/>
<use href="#ml" x="97" y="518.9"/>
<use href="#ml" x="199.3" y="518.1"/>
<use href="#md" x="188.2" y="509.5"/>
<use href="#mm" x="175.5" y="474.1"/>
<use href="#mk" x="167.8" y="475.5"/>
<use href="#mm" x="147.2" y="511.6"/>
<use href="#ml" x="71.9" y="516.6"/>
<use href="#mm" x="137.7" y="513.9"/>
<use href="#ml" x="214.6" y="518.6"/>
<use href="#ml" x="93.2" y="516.9"/>
<use href="#mm" x="79.1" y="517.9"/>
<use href="#mw" x="112.7" y="517.5"/>
<use href="#md" x="201.6" y="519.2"/>
<use href="#mm" x="149.9" y="511"/>
<use href="#md" x="170.1" y="463.6"/>
<use href="#ml" x="143.6" y="512.4"/>
<use href="#mk" x="203.4" y="517.9"/>
<use href="#mm" x="146.1" y="512.4"/>
<use href="#ml" x="208.3" y="518.2"/>
<use href="#mm" x="202.3" y="517.7"/>
<use href="#ml" x="117.3" y="518.3"/>
<use href="#ml" x="178.6" y="485"/>
<use href="#md" x="177.1" y="482.9"/>
<use href="#ml" x="163.1" y="488"/>
<use href="#mm" x="137.4" y="516.7"/>
<use href="#md" x="196.4" y="514.8"/>
<use href="#md" x="156.9" y="502.4"/>
<use href="#ml" x="104.6" y="516.8"/>
<use href="#mm" x="176.6" y="488.4"/>
<use href="#md" x="167" y="474.9"/>
<use href="#mk" x="118.8" y="518.4"/>
<use href="#ml" x="141.4" y="512.7"/>
<use href="#md" x="173.3" y="461"/>
<use href="#mk" x="158.4" y="496.6"/>
<use href="#md" x="213.4" y="518.5"/>
<use href="#md" x="182.1" y="498.8"/>
<use href="#ml" x="70.9" y="518.8"/>
<use href="#mm" x="97" y="519.1"/>
<use href="#mk" x="197.1" y="517.9"/>
<use href="#ml" x="72.3" y="518.5"/>
<use href="#ml" x="138.2" y="515.3"/>
<use href="#md" x="157.7" y="501.9"/>
<use href="#mk" x="126.6" y="515.6"/>
<use href="#mm" x="129.8" y="514.3"/>
<use href="#mk" x="143.4" y="512.8"/>
<use href="#mm" x="88.9" y="516.9"/>
<use href="#md" x="175.8" y="471.6"/>
<use href="#ml" x="92.8" y="517.1"/>
<use href="#mk" x="187.4" y="508.3"/>
<use href="#mm" x="202.9" y="515.8"/>
<use href="#md" x="185.4" y="505.4"/>
<use href="#md" x="153.2" y="508.6"/>
<use href="#mk" x="158.1" y="501.7"/>
<use href="#md" x="164.9" y="477.9"/>
<use href="#mm" x="119.4" y="517.5"/>
<use href="#mk" x="163" y="489.9"/>
<use href="#ml" x="130.4" y="515.7"/>
<use href="#md" x="175" y="467.3"/>
<use href="#ml" x="101.1" y="517.8"/>
<use href="#mm" x="118" y="516"/>
<use href="#mm" x="145.2" y="511.7"/>
<use href="#md" x="97" y="517.4"/>
<use href="#ml" x="112.3" y="516.5"/>
<use href="#md" x="87" y="518.8"/>
<use href="#mm" x="176.8" y="476.5"/>
<use href="#mm" x="111" y="518.9"/>
<use href="#mm" x="168.1" y="470.6"/>
<use href="#mm" x="186.5" y="505.5"/>
<use href="#mm" x="143.7" y="513.6"/>
<use href="#mm" x="77.2" y="518.2"/>
<use href="#ml" x="127.4" y="518.2"/>
<use href="#mm" x="175.5" y="468.9"/>
<use href="#md" x="131.5" y="515.6"/>
<use href="#md" x="175.7" y="470.4"/>
<use href="#mm" x="76.3" y="516.5"/>
<use href="#md" x="171.5" y="464.1"/>
<use href="#mm" x="175.9" y="470.1"/>
<use href="#mm" x="151.6" y="508.2"/>
<use href="#mm" x="143.5" y="512.8"/>
<use href="#mk" x="153.5" y="507.5"/>
<use href="#md" x="140.8" y="513.3"/>
<use href="#md" x="191.7" y="512.8"/>
<use href="#md" x="168.5" y="469.3"/>
<use href="#md" x="97.9" y="517.5"/>
<use href="#mm" x="117.1" y="516.2"/>
<use href="#mm" x="162.3" y="491.8"/>
<use href="#mm" x="170.6" y="465.8"/>
<use href="#mm" x="163.2" y="488.4"/>
<use href="#mm" x="138.2" y="513.9"/>
<use href="#mk" x="169.3" y="469.6"/>
<use href="#mk" x="155.7" y="506.6"/>
<use href="#mm" x="205" y="516.7"/>
<use href="#mk" x="119.4" y="517.6"/>
<use href="#mm" x="147.8" y="511.1"/>
<use href="#md" x="185.8" y="506.6"/>
<use href="#mk" x="152.7" y="507.8"/>
<use href="#md" x="164.3" y="485.9"/>
<use href="#md" x="107.8" y="519.1"/>
<use href="#mm" x="91.9" y="518.2"/>
<use href="#mm" x="77.4" y="518"/>
<use href="#mk" x="158.6" y="497.3"/>
<use href="#mk" x="129.5" y="515.2"/>
<use href="#md" x="126.4" y="518.3"/>
<use href="#mk" x="172.6" y="463.9"/>
<use href="#mm" x="171.9" y="464.1"/>
<use href="#mm" x="157" y="502"/>
<use href="#md" x="78.5" y="519.1"/>
<use href="#mk" x="128" y="514.8"/>
<use href="#md" x="171.9" y="462.3"/>
<use href="#mk" x="188.9" y="509"/>
<use href="#md" x="160.5" y="495.9"/>
<use href="#md" x="148.1" y="512.1"/>
<use href="#md" x="116.7" y="517.9"/>
<use href="#md" x="192.9" y="514.7"/>
<use href="#md" x="170.8" y="464.5"/>
<use href="#md" x="173" y="471.9"/>
<use href="#md" x="186" y="504.8"/>
<use href="#mk" x="154.9" y="505.6"/>
<use href="#md" x="101.1" y="518.1"/>
<use href="#md" x="179.8" y="491.3"/>
<use href="#md" x="199.3" y="516.4"/>
<use href="#mk" x="169.7" y="470"/>
<use href="#mk" x="166.4" y="476.7"/>
<use href="#mk" x="180.9" y="496.4"/>
</g>
<mask id="clipdp" maskUnits="userSpaceOnUse" x="0" y="0" width="501" height="550"><path d="M41 527.2L41 518L44 516L52 515.5L58 515L62.4 513L66 514.5L70 512.5L73 512L76 514L85 514.5L100 514.5L112 514L120 513.6L125 510L130 511.5L135 512L138 508L141 505L146 503L150 500L152.4 490L153 480L153.7 472.4L155 466L157.4 460L161 456L165 453.5L170 452L174 453L176 455L177.5 462L178.6 470L181 482.4L183.5 488L186 493.6L190 502.4L195 508.6L200 511.5L205 513.6L220 513.6L227 515L235 516L237 518.5L237 527.2Z" fill="#fff" stroke="#000" stroke-width="3" stroke-linejoin="round"/></mask>
<g clip-path="url(#clipd)"><g mask="url(#clipdp)">
<path d="M69.5 527.2L69.5 518.7L71.5 516.4L99.5 516.4L119.5 515.9L135.3 513.6L146.1 509.8L153.2 505.1L157.7 497.9L162.3 488.6L165.9 477.3L169.5 466.4L171 461.3L172.5 458L174.2 461.3L175.8 466.4L177.5 479.4L180.3 490.4L183.9 499.6L187.5 507.1L193.8 512.6L200.9 515.4L210.5 517.5L215.5 518.7L215.5 527.2Z" fill="#1d4c98" filter="url(#b2)" opacity="0.8"/>
<path d="M70.5 527.2L70.5 519.2L72.5 517.1L100.5 517.1L120.5 516.6L136.3 514.5L147.1 511L154.2 506.7L158.7 500L161.3 491.5L164.9 481L168.5 470.9L170 466.3L171.5 463.2L173.2 466.3L174.8 470.9L176.5 482.9L179.3 493.1L182.9 501.6L186.5 508.5L192.8 513.6L199.9 516.2L209.5 518.1L214.5 519.2L214.5 527.2Z" fill="#1a6c78" filter="url(#b2)" opacity="0.95"/>
<path d="M72.5 527.2L72.5 519.2L74.5 517.6L102.5 517.6L122.5 517.3L138.3 515.6L149.1 513L156.2 509.7L160.7 504.7L159.3 498.2L162.9 490.3L166.5 482.6L168 479.1L169.5 476.8L171.2 479.1L172.8 482.6L174.5 491.7L177.3 499.4L180.9 505.9L184.5 511.1L190.8 515L197.9 516.9L207.5 518.3L212.5 519.2L212.5 527.2Z" fill="#1e7d28" filter="url(#b3)"/>
<path d="M76.5 527.2L76.5 519.2L78.5 518.2L106.5 518.2L126.5 518L142.3 517L153.1 515.5L160.2 513.5L156.7 510.5L163.3 506.6L158.9 501.8L162.5 497.3L164 495.1L165.5 493.8L167.2 495.1L168.8 497.3L170.5 502.7L173.3 507.3L176.9 511.2L180.5 514.3L186.8 516.7L193.9 517.8L203.5 518.7L208.5 519.2L208.5 527.2Z" fill="#33801c" filter="url(#b3)" opacity="0.7"/>
<path d="M146 527.2L146 519.2L150 514.5L154 510.5L158 506L162 502.5L166 500.6L170 500L174 501L177 503.5L180 507L183 511L186 515L189 519.2L189 527.2Z" fill="#646c18" filter="url(#b2)"/>
<path d="M150 527.2L150 519.2L153 515.5L157 512.5L162 510.5L166 509.7L170 509.5L174 510L178 512L181 514.5L183.5 517L185 519.2L185 527.2Z" fill="#a81424" filter="url(#b1)"/>
<path d="M154 527.2L154 519.2L157 516.9L161 515L166 513.8L170 513.3L166 513.2L170 513.5L174 514.7L177 516.3L179.5 517.8L181 519.2L181 527.2Z" fill="#860e38" filter="url(#b1)"/>
<path d="M161 527.2L161 519.2L163 516L166 514.3L170 513.8L174 514.3L177 516L179 519.2L179 527.2Z" fill="#82108a" filter="url(#b1)"/>
<ellipse cx="170" cy="518.6" rx="5.4" ry="2.1" fill="#a844b4" filter="url(#b1)"/>
<path d="M99.9 517.5h0.9v0.9h-0.9zM106.1 517.2h0.9v0.9h-0.9zM134.3 514.4h0.9v0.9h-0.9zM200.3 517.5h0.9v0.9h-0.9zM116.8 517.2h0.9v0.9h-0.9zM174.1 467.4h0.9v0.9h-0.9zM181.1 505.9h0.9v0.9h-0.9zM202.3 518.2h0.9v0.9h-0.9zM124.3 517.2h0.9v0.9h-0.9zM180.8 494.4h0.9v0.9h-0.9zM172.7 474h0.9v0.9h-0.9zM126.9 517.8h0.9v0.9h-0.9zM154.8 505.1h0.9v0.9h-0.9zM91.6 517.1h0.9v0.9h-0.9zM178.9 497h0.9v0.9h-0.9zM188.3 509.5h0.9v0.9h-0.9zM158.6 502.2h0.9v0.9h-0.9zM209 518h0.9v0.9h-0.9zM191.2 512h0.9v0.9h-0.9zM109.6 517.1h0.9v0.9h-0.9zM147.3 511.1h0.9v0.9h-0.9zM142.5 513.9h0.9v0.9h-0.9zM118.8 516.5h0.9v0.9h-0.9zM180.7 497.5h0.9v0.9h-0.9zM88 517h0.9v0.9h-0.9zM131.3 516.9h0.9v0.9h-0.9zM199.8 517h0.9v0.9h-0.9zM96.1 517.8h0.9v0.9h-0.9zM159.1 498.8h0.9v0.9h-0.9zM146.3 512.1h0.9v0.9h-0.9zM97.9 518h0.9v0.9h-0.9zM145.6 516.1h0.9v0.9h-0.9zM159.5 497.5h0.9v0.9h-0.9zM129.8 517.9h0.9v0.9h-0.9zM145 511.6h0.9v0.9h-0.9zM82.5 517.2h0.9v0.9h-0.9zM138.8 513.2h0.9v0.9h-0.9zM177.2 495.1h0.9v0.9h-0.9zM139.9 513.7h0.9v0.9h-0.9zM158.2 503.6h0.9v0.9h-0.9zM137.5 513.7h0.9v0.9h-0.9zM180.6 494.5h0.9v0.9h-0.9zM203.1 516.7h0.9v0.9h-0.9zM175 468.2h0.9v0.9h-0.9zM202.1 517.8h0.9v0.9h-0.9zM194.1 513.7h0.9v0.9h-0.9zM102.5 517.2h0.9v0.9h-0.9zM204.3 517.9h0.9v0.9h-0.9zM195.8 516.5h0.9v0.9h-0.9zM146 512.5h0.9v0.9h-0.9zM78.8 517.1h0.9v0.9h-0.9zM201.9 517.6h0.9v0.9h-0.9zM207.7 517.8h0.9v0.9h-0.9zM151.2 509.8h0.9v0.9h-0.9zM131.8 514.8h0.9v0.9h-0.9zM135.7 517.7h0.9v0.9h-0.9zM139 516.4h0.9v0.9h-0.9zM103.2 517.5h0.9v0.9h-0.9zM147 510.3h0.9v0.9h-0.9zM133.9 514.7h0.9v0.9h-0.9zM110.3 517.1h0.9v0.9h-0.9zM209.3 518h0.9v0.9h-0.9zM172.1 490.8h0.9v0.9h-0.9zM146.8 510.7h0.9v0.9h-0.9zM124.6 516.9h0.9v0.9h-0.9zM178.3 499.5h0.9v0.9h-0.9zM190.8 515.3h0.9v0.9h-0.9zM193.7 513.6h0.9v0.9h-0.9zM148.4 509.6h0.9v0.9h-0.9zM129.5 515.3h0.9v0.9h-0.9zM93.4 517.2h0.9v0.9h-0.9zM172.2 468.4h0.9v0.9h-0.9zM180.3 493.2h0.9v0.9h-0.9zM179 492.3h0.9v0.9h-0.9zM89.1 517.1h0.9v0.9h-0.9zM158.7 499.8h0.9v0.9h-0.9zM200.6 517.9h0.9v0.9h-0.9zM75.1 517.1h0.9v0.9h-0.9zM209.9 518.1h0.9v0.9h-0.9zM107.3 516.9h0.9v0.9h-0.9zM148.1 514.2h0.9v0.9h-0.9zM74.2 518h0.9v0.9h-0.9zM104.5 517.4h0.9v0.9h-0.9zM98.7 517.4h0.9v0.9h-0.9zM118 516.7h0.9v0.9h-0.9zM196.3 516h0.9v0.9h-0.9zM151.1 508.1h0.9v0.9h-0.9zM107.1 517h0.9v0.9h-0.9zM106 517h0.9v0.9h-0.9zM200.4 516.5h0.9v0.9h-0.9zM116.5 517.3h0.9v0.9h-0.9zM76.2 517.4h0.9v0.9h-0.9zM111.8 516.9h0.9v0.9h-0.9zM111.5 517h0.9v0.9h-0.9zM203.7 517.8h0.9v0.9h-0.9zM75.2 517.4h0.9v0.9h-0.9zM87.8 517.1h0.9v0.9h-0.9zM115.7 517.1h0.9v0.9h-0.9zM111.2 516.7h0.9v0.9h-0.9zM176.3 482.4h0.9v0.9h-0.9zM194.4 513.9h0.9v0.9h-0.9zM79.9 517h0.9v0.9h-0.9zM200.8 516.5h0.9v0.9h-0.9zM122.9 518.1h0.9v0.9h-0.9zM169 469.8h0.9v0.9h-0.9zM187 512.7h0.9v0.9h-0.9zM92.2 517.2h0.9v0.9h-0.9zM197 515.3h0.9v0.9h-0.9zM133.2 514.7h0.9v0.9h-0.9zM90.7 517.1h0.9v0.9h-0.9zM109 517h0.9v0.9h-0.9zM200.3 516h0.9v0.9h-0.9zM137 514h0.9v0.9h-0.9zM196.2 516.5h0.9v0.9h-0.9zM208.2 517.9h0.9v0.9h-0.9zM176.3 483.4h0.9v0.9h-0.9zM109.3 517.2h0.9v0.9h-0.9zM199.4 516h0.9v0.9h-0.9zM174.7 467h0.9v0.9h-0.9zM163.1 490.2h0.9v0.9h-0.9zM208.3 517.7h0.9v0.9h-0.9zM164.9 481.6h0.9v0.9h-0.9zM122.3 516.2h0.9v0.9h-0.9zM125.2 515.7h0.9v0.9h-0.9zM82.6 517.1h0.9v0.9h-0.9zM114.9 516.7h0.9v0.9h-0.9zM205.8 517.3h0.9v0.9h-0.9zM198.6 515.4h0.9v0.9h-0.9zM195.4 515.8h0.9v0.9h-0.9zM171.9 464.5h0.9v0.9h-0.9zM176.5 480.1h0.9v0.9h-0.9zM175.1 478.2h0.9v0.9h-0.9zM84.4 517.8h0.9v0.9h-0.9zM112.9 516.9h0.9v0.9h-0.9zM206.1 517.4h0.9v0.9h-0.9zM210.2 518.2h0.9v0.9h-0.9zM181.9 498.3h0.9v0.9h-0.9zM192.5 515.2h0.9v0.9h-0.9zM132.5 514.9h0.9v0.9h-0.9zM100.9 517.2h0.9v0.9h-0.9zM146.1 512.3h0.9v0.9h-0.9zM94.2 517.4h0.9v0.9h-0.9zM154.6 506.3h0.9v0.9h-0.9zM84 517.5h0.9v0.9h-0.9zM125.8 515.7h0.9v0.9h-0.9zM153.9 506.2h0.9v0.9h-0.9zM113.3 516.7h0.9v0.9h-0.9zM116.6 517.3h0.9v0.9h-0.9zM75.7 517.5h0.9v0.9h-0.9zM173.7 494.9h0.9v0.9h-0.9zM197 515.2h0.9v0.9h-0.9zM161.1 491.7h0.9v0.9h-0.9zM143.7 513.5h0.9v0.9h-0.9zM82.2 517.4h0.9v0.9h-0.9zM141.2 512.4h0.9v0.9h-0.9zM86.5 517.6h0.9v0.9h-0.9zM80.9 517.7h0.9v0.9h-0.9zM167 487.8h0.9v0.9h-0.9zM82 517.7h0.9v0.9h-0.9zM162.3 500.7h0.9v0.9h-0.9zM97.3 517.3h0.9v0.9h-0.9zM128.5 518.1h0.9v0.9h-0.9zM77.9 517h0.9v0.9h-0.9zM85 517.9h0.9v0.9h-0.9zM183.6 502.6h0.9v0.9h-0.9zM206 517.2h0.9v0.9h-0.9zM184 501.9h0.9v0.9h-0.9zM74.5 517.2h0.9v0.9h-0.9zM156.1 505.3h0.9v0.9h-0.9z" fill="#9fe0d0" opacity="0.45"/>
</g></g>
<g clip-path="url(#clipd)">
<use href="#mw" x="189.7" y="503.7"/>
<use href="#mw" x="160.5" y="463.3"/>
<use href="#mw" x="217.2" y="516.1"/>
<use href="#mw" x="68.6" y="516.7"/>
<use href="#ml" x="160" y="481"/>
<use href="#ml" x="201.2" y="514.8"/>
<use href="#ml" x="152.4" y="499.5"/>
<use href="#ml" x="169.4" y="458.7"/>
<use href="#ml" x="72.8" y="514.6"/>
<use href="#mw" x="75.3" y="516"/>
<use href="#ml" x="50.9" y="518.1"/>
<use href="#ml" x="222.7" y="516.6"/>
<use href="#ml" x="156.1" y="497.1"/>
<use href="#ml" x="230.8" y="518"/>
<use href="#mm" x="57.7" y="517.5"/>
<use href="#mm" x="155.6" y="475.6"/>
<use href="#mm" x="158" y="472.7"/>
<use href="#ml" x="190.7" y="509.2"/>
<use href="#mw" x="157.2" y="461.9"/>
<use href="#mw" x="145.3" y="507.8"/>
<use href="#mm" x="188" y="507.1"/>
<use href="#mw" x="59.1" y="516.8"/>
<use href="#mm" x="155.1" y="496.7"/>
<use href="#mw" x="205.9" y="516.1"/>
<use href="#mm" x="152.7" y="489.5"/>
<use href="#ml" x="191.5" y="509.7"/>
<use href="#ml" x="196.3" y="509"/>
<use href="#mm" x="160.6" y="457.4"/>
<use href="#mm" x="170.4" y="461.5"/>
<use href="#mm" x="170.8" y="452.3"/>
<use href="#mm" x="156.8" y="481.7"/>
<use href="#md" x="164.8" y="473"/>
<use href="#mm" x="153.4" y="475.6"/>
<use href="#mw" x="62.2" y="515.5"/>
<use href="#md" x="70.1" y="515"/>
<use href="#md" x="157" y="481.7"/>
<use href="#md" x="156.5" y="464.4"/>
<use href="#mw" x="156" y="495.4"/>
<use href="#mm" x="224.6" y="518.7"/>
<use href="#mw" x="152.5" y="494.6"/>
<use href="#mm" x="61.6" y="516.4"/>
<use href="#md" x="159.1" y="488.4"/>
<use href="#mm" x="156.2" y="481.1"/>
<use href="#mm" x="159.2" y="480.3"/>
<use href="#mm" x="224.5" y="516.7"/>
<use href="#ml" x="179.4" y="478"/>
<use href="#mm" x="158.1" y="486.2"/>
<use href="#mw" x="181.1" y="482.1"/>
<use href="#mm" x="189.4" y="507.9"/>
<use href="#ml" x="158.4" y="467.4"/>
<use href="#md" x="169.5" y="457.4"/>
<use href="#ml" x="159" y="481.2"/>
<use href="#ml" x="157" y="479.2"/>
<use href="#mm" x="179.7" y="486.3"/>
<use href="#md" x="160.9" y="464.2"/>
<use href="#md" x="158.9" y="485.3"/>
<use href="#ml" x="148.5" y="505.4"/>
<use href="#md" x="167.6" y="465.3"/>
<use href="#md" x="69.8" y="517"/>
<use href="#md" x="174" y="457.5"/>
<use href="#ml" x="41.9" y="519.2"/>
<use href="#ml" x="154.6" y="489"/>
<use href="#ml" x="154.6" y="495.1"/>
<use href="#ml" x="169.6" y="455.4"/>
<use href="#mm" x="172.8" y="456.1"/>
<use href="#mm" x="222.5" y="518.6"/>
<use href="#mm" x="233.1" y="518.1"/>
<use href="#mm" x="155.3" y="477.4"/>
<use href="#mm" x="64.2" y="517.1"/>
<use href="#mk" x="162.2" y="466.9"/>
<use href="#md" x="175.2" y="465.5"/>
<use href="#md" x="169.9" y="457.5"/>
<use href="#md" x="161.8" y="459.5"/>
<use href="#mm" x="160" y="463.9"/>
<use href="#mm" x="223.1" y="516.8"/>
<use href="#ml" x="157" y="470.3"/>
<use href="#ml" x="121.7" y="515.4"/>
<use href="#mk" x="167.4" y="470.5"/>
<use href="#md" x="159.3" y="467.3"/>
<use href="#md" x="168.9" y="463.9"/>
<use href="#md" x="160.1" y="480.6"/>
<use href="#ml" x="170.9" y="455.3"/>
<use href="#mm" x="156.5" y="470"/>
<use href="#mm" x="141.7" y="509.9"/>
<use href="#ml" x="188.6" y="500.6"/>
<use href="#md" x="160" y="485"/>
<use href="#md" x="164.6" y="471.3"/>
<use href="#md" x="172" y="456.4"/>
<use href="#mm" x="209.2" y="516.3"/>
<use href="#mm" x="143" y="510"/>
<use href="#ml" x="185.6" y="501.3"/>
<use href="#md" x="170.5" y="456.9"/>
<use href="#mw" x="209" y="516.1"/>
<use href="#md" x="159.1" y="475.7"/>
<use href="#mk" x="160" y="485.1"/>
<use href="#md" x="162.9" y="471.5"/>
<use href="#ml" x="124.9" y="513.5"/>
<use href="#md" x="187.6" y="505.5"/>
<use href="#md" x="158" y="485.1"/>
<use href="#ml" x="163.4" y="475.1"/>
<use href="#ml" x="160.3" y="460.9"/>
<use href="#ml" x="197.2" y="513"/>
<use href="#ml" x="228.1" y="517.6"/>
<use href="#mm" x="177.2" y="460"/>
<use href="#mk" x="166.3" y="472.4"/>
<use href="#md" x="155.4" y="491"/>
<use href="#ml" x="74.1" y="515.3"/>
<use href="#md" x="159.8" y="487.1"/>
<use href="#mm" x="220.5" y="516.2"/>
<use href="#ml" x="139.4" y="509.7"/>
<use href="#mk" x="158.7" y="491.4"/>
<use href="#mk" x="163.5" y="470.5"/>
<use href="#mm" x="162.9" y="471"/>
<use href="#ml" x="182.6" y="492.7"/>
<use href="#ml" x="150.8" y="505.2"/>
<use href="#md" x="163.5" y="475.6"/>
<use href="#md" x="181.6" y="491.9"/>
<use href="#md" x="161.2" y="468.6"/>
<use href="#ml" x="162.9" y="466.8"/>
<use href="#ml" x="166.3" y="457"/>
<use href="#mm" x="183.9" y="494"/>
<use href="#mm" x="149.7" y="499.8"/>
<use href="#mk" x="157.2" y="487"/>
<use href="#mm" x="159.3" y="468.6"/>
<use href="#md" x="156.4" y="473.8"/>
<use href="#md" x="153.5" y="498.2"/>
<use href="#ml" x="62.3" y="515.6"/>
<use href="#ml" x="158.5" y="463.3"/>
<use href="#ml" x="177.9" y="471"/>
<use href="#ml" x="160.7" y="474.6"/>
<use href="#md" x="157.9" y="489.7"/>
<use href="#md" x="191.9" y="506.8"/>
<use href="#md" x="170" y="457.3"/>
<use href="#md" x="161.5" y="466.2"/>
<use href="#mm" x="225.9" y="517.3"/>
<use href="#md" x="161.1" y="462.7"/>
<use href="#md" x="169.3" y="463.1"/>
<use href="#md" x="166.6" y="462.2"/>
<use href="#md" x="156.6" y="478.3"/>
<use href="#mm" x="155" y="469.4"/>
<use href="#mm" x="155.6" y="501.2"/>
<use href="#mm" x="159.2" y="471.6"/>
<use href="#mk" x="160" y="470.4"/>
<use href="#mm" x="160.6" y="479.6"/>
<use href="#ml" x="52.9" y="517.9"/>
<use href="#mm" x="125.6" y="511.4"/>
<use href="#md" x="54.6" y="518.2"/>
<use href="#md" x="236.6" y="519.2"/>
<use href="#mm" x="188.8" y="505.1"/>
<use href="#mm" x="212.2" y="516.1"/>
<use href="#mm" x="158.3" y="490.5"/>
<use href="#ml" x="205.1" y="515.9"/>
<use href="#mk" x="158.1" y="492.3"/>
<use href="#md" x="146.9" y="509.1"/>
<use href="#md" x="124.8" y="513.7"/>
<use href="#mm" x="143.3" y="510"/>
<use href="#md" x="62.8" y="518.7"/>
<use href="#md" x="232.2" y="518.9"/>
<use href="#mk" x="167.5" y="468.5"/>
<use href="#mk" x="169.6" y="461.1"/>
<use href="#mm" x="161.2" y="482.3"/>
<use href="#ml" x="204.1" y="515.7"/>
<use href="#mm" x="161.3" y="480"/>
<use href="#ml" x="154.9" y="488.1"/>
<use href="#mm" x="62.9" y="516.7"/>
<use href="#md" x="166.3" y="465"/>
<use href="#mm" x="160.4" y="488.7"/>
<use href="#md" x="163.9" y="459.8"/>
<use href="#md" x="171.1" y="459.2"/>
<use href="#md" x="163" y="459.6"/>
<use href="#ml" x="213.4" y="516.1"/>
<use href="#mm" x="156.6" y="487.2"/>
<use href="#mk" x="142.1" y="511"/>
<use href="#md" x="157.6" y="482.5"/>
<use href="#mm" x="176.1" y="463.6"/>
<use href="#mm" x="159.5" y="473.4"/>
<use href="#md" x="157.7" y="490.9"/>
<use href="#md" x="165.4" y="455.4"/>
<use href="#mm" x="157.6" y="495.3"/>
<use href="#mm" x="165.1" y="459.5"/>
<use href="#mm" x="157.2" y="482.1"/>
<use href="#mm" x="146.1" y="508.2"/>
<use href="#md" x="163.2" y="469.3"/>
<use href="#mk" x="165.1" y="462.9"/>
<use href="#mm" x="173.3" y="460.4"/>
<use href="#md" x="199.1" y="514.3"/>
<use href="#mm" x="232.5" y="518"/>
<use href="#mk" x="141.3" y="509.4"/>
<use href="#mm" x="51.8" y="519.2"/>
<use href="#mm" x="163.6" y="470.1"/>
<use href="#mm" x="218.1" y="518"/>
<use href="#md" x="165.6" y="473"/>
<use href="#mk" x="167.3" y="465.2"/>
<use href="#mm" x="149.3" y="503.8"/>
<use href="#md" x="61.4" y="518.4"/>
<use href="#mm" x="174.2" y="456.4"/>
<use href="#mk" x="167.9" y="469"/>
<use href="#mm" x="219.9" y="517"/>
<use href="#mm" x="161.5" y="471.6"/>
<use href="#mm" x="166.6" y="458.3"/>
<use href="#mk" x="163.8" y="479.4"/>
<use href="#md" x="63.3" y="518.3"/>
<use href="#md" x="158.8" y="493.4"/>
<use href="#md" x="162.1" y="460.7"/>
<use href="#md" x="140.7" y="511.4"/>
<use href="#md" x="156.8" y="476"/>
<use href="#md" x="162.4" y="483.6"/>
<use href="#mk" x="156.9" y="495"/>
<use href="#md" x="163.6" y="466.4"/>
<use href="#md" x="142" y="509.4"/>
<use href="#mk" x="159.9" y="479.6"/>
<use href="#mk" x="167.7" y="465.1"/>
<use href="#md" x="154.3" y="500.3"/>
<use href="#md" x="164.2" y="475.6"/>
<use href="#md" x="168.6" y="461.3"/>
<use href="#md" x="217.9" y="518.7"/>
<use href="#md" x="143.9" y="509.9"/>
<use href="#md" x="166.2" y="456.1"/>
<use href="#md" x="166.8" y="467.3"/>
<use href="#md" x="156.5" y="490.3"/>
<use href="#mk" x="162.5" y="471.6"/>
<use href="#md" x="166.9" y="459.8"/>
<use href="#mk" x="158.2" y="485.5"/>
<use href="#md" x="142.5" y="509.6"/>
<use href="#mk" x="155.3" y="491.4"/>
<use href="#mk" x="160.6" y="483.6"/>
<use href="#mk" x="159.7" y="490.9"/>
<use href="#mk" x="153.1" y="505.3"/>
<use href="#mk" x="166" y="465.3"/>
<use href="#mk" x="153.3" y="503.7"/>
<use href="#mk" x="160.9" y="467.6"/>
<path d="M186.5 507.5l1.1 1.1l-1.1 1.1l-1.1 -1.1zM156.5 482.2l1 1l-1 1l-1 -1zM135 514.5l1.2 1.2l-1.2 1.2l-1.2 -1.2zM160.5 469.6l1.3 1.3l-1.3 1.3l-1.3 -1.3zM165 464.2l1.4 1.4l-1.4 1.4l-1.4 -1.4zM161 476.1l1.1 1.1l-1.1 1.1l-1.1 -1.1zM166 476.8l1.1 1.1l-1.1 1.1l-1.1 -1.1zM174.5 467.9l1.4 1.4l-1.4 1.4l-1.4 -1.4zM139 513.6l1.3 1.3l-1.3 1.3l-1.3 -1.3zM164.5 476.7l1.4 1.4l-1.4 1.4l-1.4 -1.4zM202.5 515.2l1 1l-1 1l-1 -1zM159.5 467.4l1.4 1.4l-1.4 1.4l-1.4 -1.4zM88 516.4l1.5 1.5l-1.5 1.5l-1.5 -1.5zM168 460.6l1.5 1.5l-1.5 1.5l-1.5 -1.5zM167.5 467.5l1.5 1.5l-1.5 1.5l-1.5 -1.5zM230 517.6l1.4 1.4l-1.4 1.4l-1.4 -1.4zM148 509.9l1.4 1.4l-1.4 1.4l-1.4 -1.4zM55 517.2l1.5 1.5l-1.5 1.5l-1.5 -1.5zM206 516l1.5 1.5l-1.5 1.5l-1.5 -1.5zM155.5 493.6l1.1 1.1l-1.1 1.1l-1.1 -1.1zM166.5 473.8l1 1l-1 1l-1 -1zM180.5 490.6l1.5 1.5l-1.5 1.5l-1.5 -1.5zM191 509.4l1 1l-1 1l-1 -1zM114 516.7l1 1l-1 1l-1 -1zM186 502.3l1.1 1.1l-1.1 1.1l-1.1 -1.1zM173.5 459.7l1.4 1.4l-1.4 1.4l-1.4 -1.4zM179 488.7l1.1 1.1l-1.1 1.1l-1.1 -1.1zM183 494.6l1.5 1.5l-1.5 1.5l-1.5 -1.5zM151.5 509.5l1.2 1.2l-1.2 1.2l-1.2 -1.2zM70.5 517.4l1 1l-1 1l-1 -1zM173 456.2l0.9 0.9l-0.9 0.9l-0.9 -0.9zM82.5 517.5l1.1 1.1l-1.1 1.1l-1.1 -1.1zM199 517.5l1.2 1.2l-1.2 1.2l-1.2 -1.2zM64.5 516.4l1.5 1.5l-1.5 1.5l-1.5 -1.5zM166.5 475.2l1 1l-1 1l-1 -1zM157.5 483.3l1 1l-1 1l-1 -1zM183 498.5l1.4 1.4l-1.4 1.4l-1.4 -1.4zM130 517l1 1l-1 1l-1 -1zM221 515.8l1.2 1.2l-1.2 1.2l-1.2 -1.2zM158 498.2l0.9 0.9l-0.9 0.9l-0.9 -0.9zM58.5 517.3l1.3 1.3l-1.3 1.3l-1.3 -1.3zM221 515.7l1.3 1.3l-1.3 1.3l-1.3 -1.3zM187 504.9l1.1 1.1l-1.1 1.1l-1.1 -1.1zM81 516.7l0.9 0.9l-0.9 0.9l-0.9 -0.9zM164.5 462.3l1.1 1.1l-1.1 1.1l-1.1 -1.1zM164.5 464l1.2 1.2l-1.2 1.2l-1.2 -1.2zM195.5 512.6l1 1l-1 1l-1 -1zM162.5 471.3l0.9 0.9l-0.9 0.9l-0.9 -0.9zM159.5 468.7l1 1l-1 1l-1 -1zM163.5 473.2l1.4 1.4l-1.4 1.4l-1.4 -1.4zM109.5 516.2l1.2 1.2l-1.2 1.2l-1.2 -1.2zM217.5 517.5l1.5 1.5l-1.5 1.5l-1.5 -1.5zM158.5 485.8l1.2 1.2l-1.2 1.2l-1.2 -1.2zM187 510.3l0.9 0.9l-0.9 0.9l-0.9 -0.9zM165 482l1 1l-1 1l-1 -1zM172 461.7l1 1l-1 1l-1 -1zM124 513.5l1.2 1.2l-1.2 1.2l-1.2 -1.2zM184.5 505l1.3 1.3l-1.3 1.3l-1.3 -1.3zM143 512.9l1 1l-1 1l-1 -1zM168 461.7l1.4 1.4l-1.4 1.4l-1.4 -1.4zM213.5 516.9l1.3 1.3l-1.3 1.3l-1.3 -1.3zM190.5 508.2l1 1l-1 1l-1 -1zM164.5 468.5l1.4 1.4l-1.4 1.4l-1.4 -1.4zM161 472.2l1.2 1.2l-1.2 1.2l-1.2 -1.2zM170.5 458.1l1.4 1.4l-1.4 1.4l-1.4 -1.4zM68.5 516.4l1.1 1.1l-1.1 1.1l-1.1 -1.1zM160.5 486.6l1.4 1.4l-1.4 1.4l-1.4 -1.4zM159.5 495.1l1.1 1.1l-1.1 1.1l-1.1 -1.1zM221.5 517.5l1.2 1.2l-1.2 1.2l-1.2 -1.2zM68.5 517.9l0.9 0.9l-0.9 0.9l-0.9 -0.9zM164 478.8l1.1 1.1l-1.1 1.1l-1.1 -1.1zM168.5 458.1l1.2 1.2l-1.2 1.2l-1.2 -1.2zM203.5 516.4l1.3 1.3l-1.3 1.3l-1.3 -1.3zM145 512.9l1.3 1.3l-1.3 1.3l-1.3 -1.3zM202.5 517.9l1.1 1.1l-1.1 1.1l-1.1 -1.1zM194 514.1l1.4 1.4l-1.4 1.4l-1.4 -1.4zM122.5 517.4l0.9 0.9l-0.9 0.9l-0.9 -0.9zM138.5 513.6l1.3 1.3l-1.3 1.3l-1.3 -1.3zM158.5 474.7l0.9 0.9l-0.9 0.9l-0.9 -0.9zM149 510.5l1.1 1.1l-1.1 1.1l-1.1 -1.1zM189.5 511.3l1.3 1.3l-1.3 1.3l-1.3 -1.3zM136.5 516l1.4 1.4l-1.4 1.4l-1.4 -1.4zM159.5 481.1l1 1l-1 1l-1 -1zM174.5 464.1l1 1l-1 1l-1 -1zM94 517.8l1 1l-1 1l-1 -1zM140 511.9l1.1 1.1l-1.1 1.1l-1.1 -1.1zM158.5 496.7l1.1 1.1l-1.1 1.1l-1.1 -1.1zM196.5 513.1l1.1 1.1l-1.1 1.1l-1.1 -1.1zM181.5 495.7l1.2 1.2l-1.2 1.2l-1.2 -1.2zM157.5 492.1l0.9 0.9l-0.9 0.9l-0.9 -0.9zM195 514.2l1.3 1.3l-1.3 1.3l-1.3 -1.3zM164.5 462.2l1.1 1.1l-1.1 1.1l-1.1 -1.1zM56 517.2l1.3 1.3l-1.3 1.3l-1.3 -1.3zM159 474.7l1.1 1.1l-1.1 1.1l-1.1 -1.1zM111.5 516.8l0.9 0.9l-0.9 0.9l-0.9 -0.9zM78 516.6l1 1l-1 1l-1 -1zM163.5 483.2l1.2 1.2l-1.2 1.2l-1.2 -1.2zM205.5 515.7l1.2 1.2l-1.2 1.2l-1.2 -1.2zM82.5 516.8l1.4 1.4l-1.4 1.4l-1.4 -1.4zM119 517.7l1 1l-1 1l-1 -1zM200 514l1 1l-1 1l-1 -1zM153 505.6l1.1 1.1l-1.1 1.1l-1.1 -1.1zM179.5 488.6l1.3 1.3l-1.3 1.3l-1.3 -1.3zM99 516.7l1.4 1.4l-1.4 1.4l-1.4 -1.4zM182 497.7l1.4 1.4l-1.4 1.4l-1.4 -1.4zM58.5 517.5l1.3 1.3l-1.3 1.3l-1.3 -1.3z" fill="#a3c2fb" opacity="0.78"/>
<use href="#ml" x="138.7" y="510.7"/>
<use href="#ml" x="139.8" y="506.6"/>
<use href="#ml" x="142.1" y="505.3"/>
<use href="#ml" x="145.2" y="504.6"/>
<use href="#mw" x="149.5" y="500.4"/>
<use href="#ml" x="154.2" y="486.8"/>
<use href="#mw" x="152.9" y="484.8"/>
<use href="#md" x="155.7" y="478.2"/>
<use href="#ml" x="155.6" y="470.9"/>
<use href="#ml" x="159.5" y="461.3"/>
<use href="#ml" x="162.8" y="455.8"/>
<use href="#mm" x="165.4" y="453.6"/>
<use href="#ml" x="168.6" y="452.2"/>
<use href="#mm" x="171.9" y="454"/>
<use href="#mw" x="173.7" y="454.8"/>
<use href="#ml" x="174.3" y="458.5"/>
<use href="#mm" x="178.4" y="466.8"/>
<use href="#ml" x="178.5" y="477.3"/>
<use href="#ml" x="179.4" y="484.6"/>
</g>
<path d="M178.2 372.3V518.2" stroke="#6e6e6e" stroke-width="1" stroke-dasharray="1 2.6" fill="none" opacity="0.85"/>
<path d="M41.5 519H237V520.4L235.4 520.8L233.9 520.3L232.7 521.3L231.5 520.5L230.7 521.2L229.9 520.3L228.4 521.1L227 520.4L226 521L225 520.5L224.1 520.6L223.2 520.6L221.6 520.7L219.9 520.3L218.7 521L217.5 520.4L216.3 521.3L215.1 520.3L213.7 520.7L212.3 520.2L210.6 521.3L209 520.5L207.7 520.7L206.5 520.3L205.4 521L204.3 520.3L202.7 520.9L201.2 520.5L199.7 521.3L198.3 520.5L197.2 521.2L196.2 520.2L194.9 520.6L193.5 520.5L192.5 521.1L191.5 520.6L190 520.7L188.5 520.6L187.2 521L185.9 520.5L184.6 520.8L183.4 520.4L182 521.2L180.5 520.5L179 520.6L177.4 520.6L176.1 521.1L174.8 520.4L173.8 521L172.8 520.3L171.7 521.1L170.6 520.3L169.1 521.3L167.6 520.6L166.8 520.7L166 520.4L165 521.1L164.1 520.4L163.3 521L162.5 520.3L161.1 520.6L159.7 520.4L158.8 520.7L157.9 520.4L156.2 521.1L154.5 520.5L153.3 520.9L152.1 520.5L150.9 521L149.6 520.6L148.1 520.6L146.7 520.5L145.6 521.1L144.6 520.3L143.6 521L142.6 520.4L140.9 520.7L139.2 520.5L138.1 520.6L137 520.5L135.6 521L134.1 520.3L132.8 520.8L131.4 520.3L129.8 521.2L128.1 520.4L127.2 521.1L126.2 520.3L124.6 520.6L123 520.4L121.9 521.1L120.9 520.5L120.1 521.3L119.3 520.5L118.4 520.7L117.5 520.6L116.4 521.2L115.2 520.6L114.3 521.1L113.3 520.5L112.1 520.6L111 520.3L109.3 520.7L107.6 520.5L106.2 520.8L104.9 520.5L103.4 521L101.9 520.4L100.7 520.8L99.5 520.5L97.9 520.8L96.4 520.3L95.6 520.8L94.8 520.3L93.9 520.9L93.1 520.3L92.2 520.9L91.4 520.4L90.1 521.2L88.7 520.5L87.2 520.6L85.6 520.4L84.8 520.9L83.9 520.5L82.9 521.3L81.9 520.4L80.7 520.5L79.5 520.3L77.9 520.5L76.2 520.5L75.1 520.8L74 520.2L73.1 520.5L72.2 520.5L71 520.8L69.8 520.5L69 520.6L68.2 520.3L67.2 520.7L66.3 520.5L64.6 521.2L62.9 520.5L61.4 520.9L60 520.5L59 521.2L58 520.3L56.7 521.2L55.4 520.3L53.8 521.3L52.2 520.2L50.7 521L49.3 520.3L47.8 520.8L46.2 520.2L45.4 521.2L44.5 520.3L43.7 521L43 520.5L42.2 520.8L41.5 520.5Z" fill="#0b0b0b"/>
<rect x="38.9" y="371.3" width="203.4" height="149.4" fill="none" stroke="#4d4d4d" stroke-width="1.3"/>
<g font-size="8.5" fill="#2e2e2e"><text x="35.4" y="382.7" text-anchor="end">300</text><text x="35.4" y="405.8" text-anchor="end">250</text><text x="35.4" y="428.9" text-anchor="end">200</text><text x="35.4" y="452" text-anchor="end">150</text><text x="35.4" y="475.1" text-anchor="end">100</text><text x="35.4" y="498.2" text-anchor="end">50</text><text x="35.4" y="521.3" text-anchor="end">0</text><text x="52.7" y="529.9" text-anchor="middle">−150</text><text x="94.4" y="529.9" text-anchor="middle">−100</text><text x="136.1" y="529.9" text-anchor="middle">−50</text><text x="177.8" y="529.9" text-anchor="middle">0</text><text x="219.5" y="529.9" text-anchor="middle">50</text></g>
<text x="43.9" y="389.7" font-size="17" font-weight="bold" letter-spacing="0.3" fill="#111">[d]</text>
<text x="143" y="541.6" font-size="10" text-anchor="middle" fill="#222"><tspan font-style="italic">wa</tspan>F (m)</text>
<text transform="translate(17.7 444.2) rotate(-90)" font-size="9.6" font-weight="bold" text-anchor="middle" fill="#111">AuMet(kg)</text>
</g>
<g id="panel-e">
<path d="M305 371.3V520.9M333 371.3V520.9M361.1 371.3V520.9M389.1 371.3V520.9M417.2 371.3V520.9M445.2 371.3V520.9M473.3 371.3V520.9M287.2 377.7H490.5M287.2 389.2H490.5M287.2 400.7H490.5M287.2 412.2H490.5M287.2 423.7H490.5M287.2 435.2H490.5M287.2 446.7H490.5M287.2 458.2H490.5M287.2 469.7H490.5M287.2 481.2H490.5M287.2 492.7H490.5M287.2 504.2H490.5M287.2 515.7H490.5" stroke="#f3f3f3" stroke-width="0.7" fill="none"/>
<path d="M289.2 517H488.5" stroke="#8a8a8a" stroke-width="1" stroke-dasharray="1 2.2" fill="none"/>
<clipPath id="clipe"><rect x="287.2" y="371.3" width="203.3" height="146.3"/></clipPath>
<use href="#mw" x="405" y="375.4"/>
<use href="#mw" x="405" y="399.3"/>
<use href="#mw" x="405" y="410"/>
<use href="#mb" x="405" y="413.4"/>
<use href="#mw" x="405" y="434"/>
<use href="#mw" x="405" y="442.4"/>
<use href="#mw" x="405" y="447.2"/>
<use href="#mw" x="436" y="412.3"/>
<use href="#mw" x="440.2" y="413.4"/>
<use href="#mw" x="421.4" y="418.5"/>
<use href="#mw" x="434" y="445.5"/>
<use href="#mw" x="419.1" y="450.8"/>
<use href="#mw" x="391.5" y="450.3"/>
<use href="#mw" x="377.7" y="453.7"/>
<use href="#mw" x="399.4" y="452"/>
<use href="#mw" x="422.4" y="456.2"/>
<use href="#mw" x="438.6" y="460"/>
<use href="#mw" x="431" y="465"/>
<use href="#mw" x="416" y="468.7"/>
<use href="#mw" x="421" y="472.4"/>
<use href="#mw" x="413.6" y="477"/>
<use href="#mw" x="441" y="468.7"/>
<use href="#mw" x="454.8" y="502"/>
<use href="#mw" x="466" y="506"/>
<use href="#mu" x="472.7" y="515.9"/>
<use href="#ms" x="478" y="516.2"/>
<use href="#mt" x="484" y="516.8"/>
<use href="#mw" x="316" y="508.6"/>
<use href="#mw" x="334.8" y="504.4"/>
<use href="#mw" x="364.8" y="501"/>
<g clip-path="url(#clipe)">
<path d="M294 519L294 513.6L295.6 513.1L297.4 512.5L299 512.4L302 512.9L305.3 513.1L307.8 513.5L310.7 513.7L313.9 513L317.3 512.5L319.9 513.3L323 513.6L326.5 513.1L328.7 513.4L330.9 512.8L334 512.8L336.6 512.5L339.2 512.6L342.2 513.6L344.5 512.9L347.1 512.9L349 513.8L350.8 513.1L352.5 512.9L355 512.8L357.8 512.4L360.4 512.7L362.7 512.8L365.3 513.9L367 512.7L369.2 512.5L372 514L372 519Z" fill="#8fb6fb"/>
<use href="#ml" x="302" y="517.8"/>
<use href="#md" x="311.5" y="517.5"/>
<use href="#mm" x="302.3" y="518.3"/>
<use href="#mm" x="357.2" y="518.3"/>
<use href="#ml" x="362.3" y="518.1"/>
<use href="#mm" x="295.4" y="518.3"/>
<use href="#md" x="328.2" y="518.3"/>
<use href="#mm" x="348.2" y="518"/>
<use href="#mm" x="334.8" y="518"/>
<use href="#md" x="303.9" y="517.3"/>
<use href="#ml" x="326.9" y="518.3"/>
<use href="#ml" x="361.2" y="517.7"/>
<use href="#mm" x="333.5" y="517.5"/>
<use href="#mm" x="353.8" y="517.7"/>
<use href="#ml" x="338.8" y="518.2"/>
<use href="#mm" x="309.4" y="517.6"/>
<use href="#md" x="336.8" y="517.9"/>
<use href="#mm" x="360.9" y="518.3"/>
<use href="#mm" x="303.3" y="518.4"/>
<use href="#md" x="368.3" y="517.3"/>
<use href="#ml" x="311.3" y="518.1"/>
<use href="#ml" x="310.4" y="518.2"/>
<use href="#md" x="342.8" y="518.1"/>
<use href="#md" x="325.6" y="517.4"/>
<use href="#ml" x="296.1" y="518"/>
<use href="#mm" x="333.9" y="517.5"/>
<use href="#md" x="359.5" y="517.6"/>
<use href="#ml" x="334.5" y="518.2"/>
<use href="#mm" x="348.5" y="517.7"/>
<use href="#ml" x="361.3" y="517.5"/>
<use href="#md" x="365.4" y="518.4"/>
<use href="#ml" x="313.8" y="517.2"/>
<use href="#md" x="333" y="518.2"/>
<use href="#ml" x="330.3" y="517.3"/>
<use href="#md" x="298.5" y="518"/>
<path d="M306.4 514.9h1.2v1.1h-1.2zM312.9 515.3h2.3v1.1h-2.3zM316.4 515.1h1.3v1.1h-1.3zM318.9 515.1h2.1v1.1h-2.1zM325.5 515.3h2.8v1.1h-2.8zM331.9 515.7h1.4v1.1h-1.4zM338.9 515.8h1.1v1.1h-1.1zM349.3 515.3h2.5v1.1h-2.5zM353.6 515.2h1.3v1.1h-1.3zM357 515.4h1.8v1.1h-1.8zM363.7 515.7h2.4v1.1h-2.4zM367.3 515.7h1.4v1.1h-1.4z" fill="#35b9e6" opacity="0.85"/>
</g>
<mask id="maske" maskUnits="userSpaceOnUse" x="0" y="0" width="501" height="550"><path d="M294 523L294 516L295 512.5L305 512L312 511L316 508.6L320 511L326 510L331 507L334.8 504.4L338 508L345 510L355 510L360 507L363.7 502L366 505L370 509L372 498L373.7 490L374.5 475L375 465L376 457L377.5 452.5L381 454L385 455L389 452.5L392.4 451L396 452L400 452.5L403 454.5L406 457.5L408 462L410 467.4L412.4 477.4L415 481.5L417.4 485L420 488L422.4 490L425 488L427.4 485L429 476L431 465L433 462L435 460L438 462L441 465L442.5 474L443.6 482.4L445.5 490L447.3 497.4L450 500L453.6 502.4L457 504L460 506L462.5 509L464.8 512.4L467.5 514.5L470 516.5L470 523Z" fill="#fff" stroke="#000" stroke-width="19" stroke-linejoin="round"/></mask>
<g clip-path="url(#clipe)">
<use href="#mw" x="323.4" y="515.2"/>
<use href="#mw" x="337.5" y="515.9"/>
<use href="#ml" x="390.6" y="464.6"/>
<use href="#ml" x="462.3" y="515.6"/>
<use href="#ml" x="391.4" y="462.7"/>
<use href="#ml" x="451.5" y="510.9"/>
<use href="#ml" x="392.7" y="461.1"/>
<use href="#ml" x="342.6" y="515.1"/>
<use href="#mm" x="406.5" y="486.1"/>
<use href="#mm" x="432.1" y="499.8"/>
<use href="#ml" x="340.2" y="513.6"/>
<use href="#mm" x="375.3" y="510.2"/>
<use href="#mm" x="365.1" y="514.7"/>
<use href="#mm" x="376.2" y="504.5"/>
<use href="#ml" x="366.3" y="513.7"/>
<use href="#ml" x="406.5" y="487.2"/>
<use href="#mw" x="352.3" y="513.9"/>
<use href="#mm" x="442.4" y="501"/>
<use href="#mm" x="377.9" y="499.8"/>
<use href="#md" x="379.2" y="492.7"/>
<use href="#mm" x="433.5" y="500.3"/>
<use href="#mm" x="427.1" y="503"/>
<use href="#md" x="397.4" y="465.9"/>
<use href="#mm" x="449.1" y="506.9"/>
<use href="#md" x="390.9" y="464.4"/>
<use href="#mw" x="310.8" y="513.7"/>
<use href="#mm" x="428" y="502.1"/>
<use href="#ml" x="449.8" y="506.8"/>
<use href="#mm" x="445.4" y="504"/>
<use href="#mm" x="389.7" y="463.3"/>
<use href="#mm" x="309.4" y="516.1"/>
<use href="#mm" x="402.4" y="476.7"/>
<use href="#mm" x="403.1" y="475.4"/>
<use href="#md" x="412.8" y="496.7"/>
<use href="#mm" x="341.9" y="513.5"/>
<use href="#ml" x="361.2" y="514.4"/>
<use href="#ml" x="460.7" y="515.2"/>
<use href="#ml" x="459.3" y="516.5"/>
<use href="#mk" x="447" y="506.1"/>
<use href="#md" x="325.1" y="515.7"/>
<use href="#mm" x="363.5" y="513.7"/>
<use href="#mw" x="461.1" y="514.8"/>
<use href="#md" x="323.2" y="514.3"/>
<use href="#md" x="399.9" y="470.1"/>
<use href="#mk" x="399.1" y="469.8"/>
<use href="#ml" x="302.8" y="514.6"/>
<use href="#mk" x="388.9" y="466.6"/>
<use href="#ml" x="361.5" y="514.1"/>
<use href="#mm" x="366.5" y="515.5"/>
<use href="#mm" x="449.1" y="507.7"/>
<use href="#md" x="382" y="482.7"/>
<use href="#md" x="330.3" y="516.4"/>
<use href="#md" x="380.2" y="490"/>
<use href="#mm" x="357.9" y="514.4"/>
<use href="#mm" x="375.8" y="509.1"/>
<use href="#ml" x="348.3" y="513.1"/>
<use href="#mm" x="400.4" y="469.8"/>
<use href="#md" x="344.6" y="515.9"/>
<use href="#mk" x="407.6" y="486.3"/>
<use href="#md" x="444.4" y="504.7"/>
<use href="#md" x="404.7" y="482.1"/>
<use href="#mw" x="303" y="516.7"/>
<use href="#ml" x="411.4" y="496.5"/>
<use href="#ml" x="452.7" y="510.4"/>
<use href="#mk" x="405.1" y="481.3"/>
<use href="#ml" x="325.4" y="515.1"/>
<use href="#md" x="386.2" y="470.6"/>
<use href="#mk" x="397.8" y="466.7"/>
<use href="#mw" x="330.6" y="515.3"/>
<use href="#ml" x="380.8" y="489.5"/>
<use href="#md" x="410.2" y="492.7"/>
<use href="#ml" x="407.9" y="485.7"/>
<use href="#mm" x="444.5" y="503.1"/>
<use href="#ml" x="316.9" y="513.4"/>
<use href="#mm" x="405.2" y="481.7"/>
<use href="#mm" x="387.6" y="469.1"/>
<use href="#mm" x="378.5" y="497.6"/>
<use href="#md" x="320.1" y="515"/>
<use href="#mk" x="386.2" y="468.6"/>
<use href="#mk" x="423.6" y="503.7"/>
<use href="#mm" x="417.2" y="500.1"/>
<use href="#mm" x="365.5" y="512.7"/>
<use href="#mm" x="354.2" y="513.4"/>
<use href="#mm" x="350.4" y="516.7"/>
<use href="#mk" x="384.6" y="474"/>
<use href="#mk" x="431.8" y="499.9"/>
<use href="#mk" x="423.3" y="503.9"/>
<use href="#mm" x="321.1" y="513.3"/>
<use href="#md" x="391.8" y="461.3"/>
<use href="#md" x="387" y="467"/>
<use href="#ml" x="321.9" y="515"/>
<use href="#mm" x="346.6" y="514.2"/>
<use href="#mk" x="457.4" y="512.7"/>
<use href="#mm" x="301.7" y="515.5"/>
<use href="#md" x="380.6" y="492.7"/>
<use href="#mm" x="446.6" y="506.4"/>
<use href="#mk" x="461.2" y="514.5"/>
<use href="#md" x="330.1" y="516.7"/>
<use href="#mm" x="376.8" y="507.1"/>
<use href="#mk" x="413.2" y="497.3"/>
<use href="#md" x="457.3" y="512.9"/>
<use href="#mm" x="409.7" y="490.1"/>
<use href="#md" x="347.5" y="516"/>
<use href="#md" x="348.3" y="514.7"/>
<use href="#md" x="401" y="475.4"/>
<use href="#md" x="402.1" y="472.8"/>
<use href="#mk" x="385.1" y="474.8"/>
<use href="#mm" x="449.2" y="507.1"/>
<use href="#md" x="404.3" y="478.8"/>
<use href="#md" x="387" y="471.9"/>
<use href="#md" x="372" y="511"/>
<use href="#mm" x="400.4" y="472.2"/>
<use href="#md" x="345.1" y="514.9"/>
<use href="#mm" x="336.8" y="516.6"/>
<use href="#mk" x="422.8" y="504.8"/>
<use href="#md" x="396.9" y="465.8"/>
<use href="#mm" x="380.4" y="488.9"/>
<use href="#mm" x="366.8" y="513"/>
<use href="#md" x="397.5" y="468.6"/>
<use href="#mk" x="386.9" y="472.6"/>
<use href="#mk" x="459.3" y="514.7"/>
<use href="#md" x="456.9" y="512.1"/>
<use href="#md" x="388.8" y="466.7"/>
<use href="#md" x="459.2" y="514.5"/>
<use href="#md" x="329" y="513.2"/>
<use href="#mk" x="418.5" y="503"/>
<use href="#md" x="433.8" y="501.9"/>
<use href="#md" x="409.9" y="491.2"/>
<use href="#mk" x="411.2" y="493.7"/>
<use href="#mk" x="384.7" y="473.2"/>
</g>
<mask id="clipep" maskUnits="userSpaceOnUse" x="0" y="0" width="501" height="550"><path d="M294 525L294 516L295 512.5L305 512L312 511L316 508.6L320 511L326 510L331 507L334.8 504.4L338 508L345 510L355 510L360 507L363.7 502L366 505L370 509L372 498L373.7 490L374.5 475L375 465L376 457L377.5 452.5L381 454L385 455L389 452.5L392.4 451L396 452L400 452.5L403 454.5L406 457.5L408 462L410 467.4L412.4 477.4L415 481.5L417.4 485L420 488L422.4 490L425 488L427.4 485L429 476L431 465L433 462L435 460L438 462L441 465L442.5 474L443.6 482.4L445.5 490L447.3 497.4L450 500L453.6 502.4L457 504L460 506L462.5 509L464.8 512.4L467.5 514.5L470 516.5L470 525Z" fill="#fff" stroke="#000" stroke-width="3" stroke-linejoin="round"/></mask>
<g clip-path="url(#clipe)"><g mask="url(#clipep)">
<path d="M297.5 525L297.5 516.5L299.5 513.9L329.5 513.2L349.5 512.9L364.5 512.4L371.5 511.4L375.5 507.2L377.1 498L379.8 488.7L382.5 479.4L385.2 470.1L388 461.9L391.5 457.2L395.5 460.9L401.5 470.1L405.9 479.4L409.5 488.7L412.5 493.8L415.8 498L419.5 501.1L424.5 501.6L428.5 500.5L432.5 499L437.5 497.4L442.5 499L446.5 502.6L450.5 507.2L455.5 510.8L460.5 513.4L464.5 516.5L464.5 525Z" fill="#1d4c98" filter="url(#b2)" opacity="0.8"/>
<path d="M298.5 525L298.5 517L300.5 514.6L330.5 514L350.5 513.7L365.5 513.2L372.5 512.2L376.5 508.4L378.1 499.9L380.8 491.4L383.5 482.8L386.2 474.2L389 466.6L392.5 462.3L396.5 465.7L400.5 474.2L404.9 482.8L408.5 491.4L411.5 496.1L414.8 499.9L418.5 502.8L423.5 503.2L427.5 502.3L431.5 500.9L436.5 499.4L441.5 500.9L445.5 504.2L449.5 508.4L454.5 511.8L459.5 514.1L463.5 517L463.5 525Z" fill="#1a6c78" filter="url(#b2)" opacity="0.95"/>
<path d="M300.5 525L300.5 517L302.5 515.2L332.5 514.7L352.5 514.5L367.5 514.1L374.5 513.4L378.5 510.5L380.1 504L382.8 497.6L385.5 491.1L388.2 484.6L391 478.8L394.5 475.5L398.5 478.1L398.5 484.6L402.9 491.1L406.5 497.6L409.5 501.2L412.8 504L416.5 506.2L421.5 506.6L425.5 505.8L429.5 504.8L434.5 503.7L439.5 504.8L443.5 507.3L447.5 510.5L452.5 513L457.5 514.8L461.5 517L461.5 525Z" fill="#1e7d28" filter="url(#b3)"/>
<path d="M304.5 525L304.5 517L306.5 515.9L336.5 515.6L356.5 515.5L371.5 515.3L378.5 514.8L382.5 513.1L384.1 509.2L386.8 505.3L389.5 501.4L392.2 497.6L395 494.1L398.5 492.1L402.5 493.7L402.5 497.6L398.9 501.4L402.5 505.3L405.5 507.5L408.8 509.2L412.5 510.5L417.5 510.7L421.5 510.3L425.5 509.7L430.5 509L435.5 509.7L439.5 511.2L443.5 513.1L448.5 514.6L453.5 515.7L457.5 517L457.5 525Z" fill="#33801c" filter="url(#b3)" opacity="0.7"/>
<path d="M345 525L345 517L360 514.5L372 511L382 507L390 504.5L397 504L405 506L415 509L425 511.5L435 513.5L445 516L450 517L450 525Z" fill="#646c18" filter="url(#b2)"/>
<path d="M355 525L355 517L368 514.5L378 511.5L388 509.3L397.4 508.6L406 509.5L416 511.5L426 513.5L436 515.5L444 517L444 525Z" fill="#a81424" filter="url(#b1)"/>
<path d="M359 525L359 517L372 515.5L382 513.6L392 512.2L401.4 511.8L402 512.4L412 513.6L422 514.8L432 516.1L440 517L440 525Z" fill="#860e38" filter="url(#b1)"/>
<path d="M380 525L380 517L385 514.5L392 513L400 512.8L408 513.5L414 515.5L417 517L417 525Z" fill="#82108a" filter="url(#b1)"/>
<ellipse cx="398.5" cy="516.4" rx="11.1" ry="1.6" fill="#a844b4" filter="url(#b1)"/>
<path d="M360.3 513.2h0.9v0.9h-0.9zM336.9 515.4h0.9v0.9h-0.9zM325.5 514.6h0.9v0.9h-0.9zM326.8 514.5h0.9v0.9h-0.9zM326.8 514h0.9v0.9h-0.9zM427.4 508h0.9v0.9h-0.9zM451 511.6h0.9v0.9h-0.9zM303.3 515.8h0.9v0.9h-0.9zM443.8 514.6h0.9v0.9h-0.9zM324.2 515.1h0.9v0.9h-0.9zM453.3 510.5h0.9v0.9h-0.9zM309.5 515.8h0.9v0.9h-0.9zM301 514.8h0.9v0.9h-0.9zM414.7 505.2h0.9v0.9h-0.9zM329.6 514h0.9v0.9h-0.9zM316.8 514.3h0.9v0.9h-0.9zM428.1 505.2h0.9v0.9h-0.9zM438.4 500h0.9v0.9h-0.9zM422.3 502.3h0.9v0.9h-0.9zM346.6 515.1h0.9v0.9h-0.9zM356.1 513.7h0.9v0.9h-0.9zM427.3 509.6h0.9v0.9h-0.9zM441.3 500.9h0.9v0.9h-0.9zM352.2 514h0.9v0.9h-0.9zM438.9 501h0.9v0.9h-0.9zM327.7 513.9h0.9v0.9h-0.9zM443.3 503.1h0.9v0.9h-0.9zM436.6 509.5h0.9v0.9h-0.9zM348.5 515.1h0.9v0.9h-0.9zM429 503.3h0.9v0.9h-0.9zM351.1 514.2h0.9v0.9h-0.9zM391.1 489.9h0.9v0.9h-0.9zM321.3 514.6h0.9v0.9h-0.9zM441 512.9h0.9v0.9h-0.9zM414.5 498.1h0.9v0.9h-0.9zM460.7 514.6h0.9v0.9h-0.9zM441.2 510.7h0.9v0.9h-0.9zM378.2 501.4h0.9v0.9h-0.9zM311.4 514.2h0.9v0.9h-0.9zM316.1 514.7h0.9v0.9h-0.9zM431 508.7h0.9v0.9h-0.9zM298.9 515.9h0.9v0.9h-0.9zM313.3 514.5h0.9v0.9h-0.9zM409 495.7h0.9v0.9h-0.9zM411.2 505.6h0.9v0.9h-0.9zM392.4 472.8h0.9v0.9h-0.9zM429.2 509.3h0.9v0.9h-0.9zM413.4 498.9h0.9v0.9h-0.9zM415.2 499.1h0.9v0.9h-0.9zM400.4 471.5h0.9v0.9h-0.9zM345.6 514.3h0.9v0.9h-0.9zM302.5 515.9h0.9v0.9h-0.9zM338.8 515h0.9v0.9h-0.9zM341.5 515.4h0.9v0.9h-0.9zM381.2 498h0.9v0.9h-0.9zM353 514.1h0.9v0.9h-0.9zM323.3 515.1h0.9v0.9h-0.9zM379.4 493.4h0.9v0.9h-0.9zM377.6 501.4h0.9v0.9h-0.9zM432.6 507.1h0.9v0.9h-0.9zM334.1 514.6h0.9v0.9h-0.9zM456.1 512.1h0.9v0.9h-0.9zM312.1 514.4h0.9v0.9h-0.9zM323.5 514.1h0.9v0.9h-0.9zM386.9 486h0.9v0.9h-0.9zM413.7 497.4h0.9v0.9h-0.9zM457.4 515.3h0.9v0.9h-0.9zM338.8 514.5h0.9v0.9h-0.9zM333.7 515.8h0.9v0.9h-0.9zM410.6 504.6h0.9v0.9h-0.9zM408.1 496.6h0.9v0.9h-0.9zM454.3 511.7h0.9v0.9h-0.9zM432.7 509.2h0.9v0.9h-0.9zM338.1 513.9h0.9v0.9h-0.9zM415.9 504.8h0.9v0.9h-0.9zM378.5 500.7h0.9v0.9h-0.9zM421.8 507.6h0.9v0.9h-0.9zM458.5 514.2h0.9v0.9h-0.9zM384.2 505.3h0.9v0.9h-0.9zM389.8 462.6h0.9v0.9h-0.9zM336.7 513.8h0.9v0.9h-0.9zM431.6 500.7h0.9v0.9h-0.9zM307.6 515.7h0.9v0.9h-0.9zM455 512.3h0.9v0.9h-0.9zM429.3 508.5h0.9v0.9h-0.9zM410.8 495.8h0.9v0.9h-0.9zM432.7 502.8h0.9v0.9h-0.9zM405 502.3h0.9v0.9h-0.9zM439.9 501.6h0.9v0.9h-0.9zM388.3 467.7h0.9v0.9h-0.9zM337.9 513.8h0.9v0.9h-0.9zM408.9 494.3h0.9v0.9h-0.9zM410.9 506.3h0.9v0.9h-0.9zM434.2 502.5h0.9v0.9h-0.9zM430.2 501.6h0.9v0.9h-0.9zM315.3 514.4h0.9v0.9h-0.9zM394.2 474.8h0.9v0.9h-0.9zM407.7 493.2h0.9v0.9h-0.9zM358.3 513.8h0.9v0.9h-0.9zM453.5 511.3h0.9v0.9h-0.9zM461.6 515.3h0.9v0.9h-0.9zM437.1 508.8h0.9v0.9h-0.9zM420.4 505.2h0.9v0.9h-0.9zM462 515.6h0.9v0.9h-0.9zM304.1 514.6h0.9v0.9h-0.9zM330 513.8h0.9v0.9h-0.9zM438.1 505.5h0.9v0.9h-0.9zM441.3 507h0.9v0.9h-0.9zM353.6 513.7h0.9v0.9h-0.9zM329.7 513.8h0.9v0.9h-0.9zM442.2 511h0.9v0.9h-0.9zM361.1 513.1h0.9v0.9h-0.9zM324.6 515.5h0.9v0.9h-0.9zM386.7 474.9h0.9v0.9h-0.9zM438.2 503.7h0.9v0.9h-0.9zM431.3 508.9h0.9v0.9h-0.9zM307.5 514.5h0.9v0.9h-0.9zM382.3 495.4h0.9v0.9h-0.9zM456.4 513.9h0.9v0.9h-0.9zM414.8 506.8h0.9v0.9h-0.9zM318.6 515.6h0.9v0.9h-0.9zM420.5 502.5h0.9v0.9h-0.9zM378.6 498.9h0.9v0.9h-0.9zM425.2 508.9h0.9v0.9h-0.9zM355.2 513.3h0.9v0.9h-0.9zM444 510.1h0.9v0.9h-0.9zM343.7 513.7h0.9v0.9h-0.9zM334.6 513.8h0.9v0.9h-0.9zM402.2 488.2h0.9v0.9h-0.9zM385.6 480.3h0.9v0.9h-0.9zM348.2 513.6h0.9v0.9h-0.9zM349.1 513.6h0.9v0.9h-0.9zM428.7 509.7h0.9v0.9h-0.9zM421 506.2h0.9v0.9h-0.9zM358.5 513.2h0.9v0.9h-0.9zM442.7 500.6h0.9v0.9h-0.9zM337.5 514.4h0.9v0.9h-0.9zM361 513.1h0.9v0.9h-0.9zM430.9 507.8h0.9v0.9h-0.9zM397.7 471.8h0.9v0.9h-0.9zM417.5 508.3h0.9v0.9h-0.9zM402.7 483.1h0.9v0.9h-0.9zM448.5 507.1h0.9v0.9h-0.9zM341.4 515.8h0.9v0.9h-0.9zM457.6 515.5h0.9v0.9h-0.9zM378.5 506.7h0.9v0.9h-0.9zM324.5 514.6h0.9v0.9h-0.9zM306.5 514.5h0.9v0.9h-0.9zM460.2 516h0.9v0.9h-0.9zM308.4 514.7h0.9v0.9h-0.9zM310.6 514.8h0.9v0.9h-0.9zM459 514.5h0.9v0.9h-0.9zM415.2 498.9h0.9v0.9h-0.9zM443.9 504.9h0.9v0.9h-0.9zM416 500.1h0.9v0.9h-0.9zM390.7 475.7h0.9v0.9h-0.9zM379.8 494.1h0.9v0.9h-0.9zM333.6 513.7h0.9v0.9h-0.9zM402.7 487.8h0.9v0.9h-0.9zM315.1 514.5h0.9v0.9h-0.9zM346.6 513.8h0.9v0.9h-0.9zM306.9 514.4h0.9v0.9h-0.9zM405 501.9h0.9v0.9h-0.9zM400.5 471.6h0.9v0.9h-0.9zM301.3 515.7h0.9v0.9h-0.9zM385.1 496.6h0.9v0.9h-0.9zM320.1 514.2h0.9v0.9h-0.9zM340.6 515.4h0.9v0.9h-0.9zM338.6 513.7h0.9v0.9h-0.9zM454.4 511.8h0.9v0.9h-0.9zM413 506h0.9v0.9h-0.9zM390.4 476h0.9v0.9h-0.9z" fill="#9fe0d0" opacity="0.45"/>
</g></g>
<g clip-path="url(#clipe)">
<use href="#mw" x="450.2" y="503.1"/>
<use href="#mw" x="434.2" y="477.4"/>
<use href="#ml" x="409" y="485.8"/>
<use href="#ml" x="439.6" y="485"/>
<use href="#ml" x="412.8" y="493.6"/>
<use href="#ml" x="420.5" y="492.1"/>
<use href="#mw" x="332.4" y="511.9"/>
<use href="#ml" x="379.7" y="472.8"/>
<use href="#ml" x="437.3" y="465.1"/>
<use href="#ml" x="426" y="497.7"/>
<use href="#ml" x="445.1" y="499.3"/>
<use href="#ml" x="379.6" y="471.4"/>
<use href="#ml" x="440.5" y="487"/>
<use href="#ml" x="401.2" y="456.4"/>
<use href="#mw" x="424.8" y="491.9"/>
<use href="#mw" x="377.8" y="484.9"/>
<use href="#ml" x="464.5" y="515.8"/>
<use href="#ml" x="410.3" y="481.7"/>
<use href="#ml" x="375.3" y="500.1"/>
<use href="#ml" x="377.6" y="488.9"/>
<use href="#mm" x="442.4" y="475"/>
<use href="#mm" x="297.2" y="514.9"/>
<use href="#mm" x="418.3" y="494.7"/>
<use href="#mm" x="413.3" y="490.4"/>
<use href="#mw" x="391.3" y="458.6"/>
<use href="#mm" x="437.6" y="487.7"/>
<use href="#mw" x="397.8" y="455.6"/>
<use href="#mw" x="445.3" y="500.1"/>
<use href="#ml" x="378.1" y="467.4"/>
<use href="#mm" x="361.8" y="510.3"/>
<use href="#ml" x="437" y="474.1"/>
<use href="#mw" x="365.3" y="508.9"/>
<use href="#ml" x="459.1" y="508.4"/>
<use href="#mm" x="438.8" y="483.9"/>
<use href="#mm" x="407.4" y="461.6"/>
<use href="#mm" x="380.7" y="457.7"/>
<use href="#mm" x="438.2" y="475.4"/>
<use href="#mm" x="406" y="465.1"/>
<use href="#mm" x="464.1" y="513.8"/>
<use href="#ml" x="379.6" y="476.3"/>
<use href="#ml" x="316" y="512.3"/>
<use href="#mm" x="341.4" y="512.8"/>
<use href="#mm" x="330.3" y="512.6"/>
<use href="#mm" x="363.2" y="507.8"/>
<use href="#mm" x="433.1" y="496.3"/>
<use href="#mm" x="377.8" y="456.4"/>
<use href="#mm" x="334.8" y="511.8"/>
<use href="#mm" x="441.5" y="498.5"/>
<use href="#ml" x="405.9" y="471.8"/>
<use href="#mm" x="332.6" y="510.1"/>
<use href="#mw" x="448" y="504"/>
<use href="#mm" x="381.3" y="461.1"/>
<use href="#ml" x="406" y="463.7"/>
<use href="#ml" x="378.7" y="478.4"/>
<use href="#ml" x="381.5" y="473.3"/>
<use href="#mm" x="385.8" y="461.6"/>
<use href="#mm" x="389" y="457.1"/>
<use href="#ml" x="430.6" y="482.3"/>
<use href="#ml" x="439.8" y="494.8"/>
<use href="#ml" x="452.1" y="504"/>
<use href="#mm" x="375.7" y="497"/>
<use href="#mm" x="375.5" y="489.4"/>
<use href="#mm" x="431.6" y="497.3"/>
<use href="#ml" x="401.7" y="465.7"/>
<use href="#mw" x="411.3" y="484.1"/>
<use href="#mm" x="435.2" y="498.1"/>
<use href="#mm" x="339.9" y="510.4"/>
<use href="#mm" x="377.5" y="489.6"/>
<use href="#md" x="385.3" y="467.2"/>
<use href="#ml" x="441.6" y="486.8"/>
<use href="#ml" x="434.6" y="473.4"/>
<use href="#ml" x="379.2" y="469.8"/>
<use href="#ml" x="430.8" y="484.2"/>
<use href="#mm" x="388.5" y="460.4"/>
<use href="#ml" x="379.9" y="485.6"/>
<use href="#mm" x="430.4" y="484"/>
<use href="#mw" x="327.7" y="511.9"/>
<use href="#mm" x="411.9" y="492.1"/>
<use href="#md" x="405.3" y="467.3"/>
<use href="#mm" x="406.5" y="475"/>
<use href="#md" x="415.2" y="487.2"/>
<use href="#ml" x="439.2" y="497.8"/>
<use href="#md" x="297.6" y="515.7"/>
<use href="#md" x="383" y="468"/>
<use href="#mw" x="426.1" y="494"/>
<use href="#md" x="448.8" y="502.6"/>
<use href="#mm" x="414.1" y="482.2"/>
<use href="#md" x="392.2" y="455.1"/>
<use href="#mw" x="440.9" y="468.3"/>
<use href="#ml" x="379.2" y="457.7"/>
<use href="#ml" x="391.7" y="456.7"/>
<use href="#ml" x="444.5" y="489"/>
<use href="#mm" x="339.4" y="512"/>
<use href="#ml" x="437.7" y="472.7"/>
<use href="#mm" x="441.1" y="497.5"/>
<use href="#mm" x="454.3" y="509.1"/>
<use href="#md" x="298" y="514.4"/>
<use href="#mm" x="400" y="464.6"/>
<use href="#md" x="316.2" y="512"/>
<use href="#md" x="364.1" y="508.1"/>
<use href="#md" x="418.6" y="496.2"/>
<use href="#md" x="296.8" y="515.9"/>
<use href="#mm" x="461.6" y="511.5"/>
<use href="#mm" x="379.3" y="470.2"/>
<use href="#md" x="421.8" y="494.9"/>
<use href="#mm" x="382.7" y="464.7"/>
<use href="#ml" x="435.7" y="467.4"/>
<use href="#mw" x="432.7" y="486.7"/>
<use href="#mm" x="431.4" y="485.7"/>
<use href="#mm" x="397.6" y="455.1"/>
<use href="#ml" x="414.4" y="489.8"/>
<use href="#mm" x="467.9" y="517"/>
<use href="#md" x="384" y="468.5"/>
<use href="#ml" x="375.4" y="498.6"/>
<use href="#md" x="435" y="496"/>
<use href="#mm" x="406.8" y="474"/>
<use href="#mm" x="439.1" y="483.6"/>
<use href="#ml" x="458.7" y="504.9"/>
<use href="#mm" x="441.2" y="494.7"/>
<use href="#mm" x="405.5" y="466.2"/>
<use href="#ml" x="436.9" y="467.7"/>
<use href="#mm" x="381.6" y="478.8"/>
<use href="#mm" x="441.6" y="497.7"/>
<use href="#ml" x="342.4" y="511.9"/>
<use href="#md" x="383.2" y="460.7"/>
<use href="#ml" x="405.1" y="467.6"/>
<use href="#mm" x="431.5" y="477.8"/>
<use href="#ml" x="382.7" y="468.7"/>
<use href="#md" x="436.7" y="486.2"/>
<use href="#mm" x="322.8" y="513.1"/>
<use href="#mm" x="430.2" y="495.7"/>
<use href="#mm" x="378.4" y="469.1"/>
<use href="#mm" x="365.8" y="504.7"/>
<use href="#ml" x="433.8" y="482"/>
<use href="#mm" x="380.7" y="470.7"/>
<use href="#mm" x="440.7" y="490.9"/>
<use href="#md" x="438.7" y="464.3"/>
<use href="#mm" x="425.1" y="496.6"/>
<use href="#mm" x="374.3" y="476"/>
<use href="#mm" x="437.8" y="489.9"/>
<use href="#mm" x="417" y="497.8"/>
<use href="#mm" x="411.6" y="481.6"/>
<use href="#md" x="430.5" y="496.7"/>
<use href="#ml" x="435.8" y="464.5"/>
<use href="#mm" x="439.8" y="486.1"/>
<use href="#md" x="437.4" y="485.9"/>
<use href="#md" x="436.3" y="479"/>
<use href="#md" x="354.2" y="512.5"/>
<use href="#mm" x="401.4" y="463.6"/>
<use href="#mm" x="431.7" y="474"/>
<use href="#md" x="435" y="487.8"/>
<use href="#ml" x="441.7" y="498.4"/>
<use href="#md" x="398" y="461.4"/>
<use href="#mm" x="406.2" y="475"/>
<use href="#mw" x="330.5" y="512.5"/>
<use href="#mw" x="428.2" y="493.7"/>
<use href="#mm" x="408.6" y="486.1"/>
<use href="#mm" x="432.7" y="484"/>
<use href="#mm" x="324.3" y="512.8"/>
<use href="#mm" x="407.6" y="480.7"/>
<use href="#md" x="412" y="492.4"/>
<use href="#mm" x="440.6" y="495.6"/>
<use href="#ml" x="372" y="509.5"/>
<use href="#md" x="381.5" y="459.9"/>
<use href="#mw" x="356.4" y="512"/>
<use href="#md" x="455.3" y="510.6"/>
<use href="#ml" x="298" y="514.9"/>
<use href="#md" x="362.3" y="507.7"/>
<use href="#md" x="317.1" y="513.2"/>
<use href="#mm" x="426.5" y="498.1"/>
<use href="#md" x="419.1" y="498.6"/>
<use href="#mm" x="348.3" y="512.5"/>
<use href="#mm" x="434.8" y="479.9"/>
<use href="#mm" x="433.1" y="465.5"/>
<use href="#mm" x="456" y="506.5"/>
<use href="#md" x="436.2" y="494.2"/>
<use href="#mw" x="436.3" y="462.5"/>
<use href="#ml" x="359.7" y="509.5"/>
<use href="#md" x="427.9" y="483.1"/>
<use href="#mm" x="404.5" y="472.5"/>
<use href="#mk" x="425.3" y="497.6"/>
<use href="#ml" x="377.5" y="457.4"/>
<use href="#md" x="380.7" y="460.6"/>
<use href="#md" x="441.2" y="486.8"/>
<use href="#mk" x="337.4" y="509.5"/>
<use href="#mm" x="437.1" y="481.4"/>
<use href="#mm" x="400.3" y="459.5"/>
<use href="#mw" x="377.7" y="472.3"/>
<use href="#md" x="317.7" y="512.8"/>
<use href="#mk" x="408.1" y="478.3"/>
<use href="#mm" x="454.6" y="509.5"/>
<use href="#md" x="377.2" y="486.7"/>
<use href="#ml" x="458.5" y="510.1"/>
<use href="#mk" x="383.2" y="463.5"/>
<use href="#mk" x="385.3" y="469.3"/>
<use href="#md" x="436.6" y="478.5"/>
<use href="#mm" x="391.4" y="455.9"/>
<use href="#md" x="401.2" y="461.1"/>
<use href="#md" x="365.6" y="512"/>
<use href="#ml" x="362.7" y="511"/>
<use href="#ml" x="437.6" y="479.7"/>
<use href="#mm" x="425.1" y="492.2"/>
<use href="#md" x="376.1" y="492.2"/>
<use href="#mm" x="406.3" y="480.5"/>
<use href="#md" x="443.5" y="497.6"/>
<use href="#ml" x="465.9" y="516.1"/>
<use href="#mm" x="417.7" y="487"/>
<use href="#ml" x="436.3" y="469.1"/>
<use href="#mm" x="462.6" y="512.9"/>
<use href="#mk" x="394.4" y="459.2"/>
<use href="#md" x="395.1" y="458.7"/>
<use href="#mm" x="455.6" y="509.9"/>
<use href="#mk" x="414.4" y="495.2"/>
<use href="#ml" x="403.9" y="464.3"/>
<use href="#mk" x="428.4" y="499.9"/>
<use href="#mm" x="372.2" y="498.7"/>
<use href="#mk" x="385.4" y="464.4"/>
<use href="#mm" x="386.5" y="465.3"/>
<use href="#md" x="438.7" y="465.4"/>
<use href="#md" x="315.8" y="512.2"/>
<use href="#mm" x="410" y="470.3"/>
<use href="#mm" x="381.8" y="480.8"/>
<use href="#ml" x="435.9" y="467"/>
<use href="#mk" x="425" y="496.8"/>
<use href="#ml" x="437.7" y="467.3"/>
<use href="#md" x="438.3" y="482.3"/>
<use href="#mk" x="434.6" y="493.6"/>
<use href="#ml" x="443" y="491.7"/>
<use href="#md" x="382.1" y="457.8"/>
<use href="#ml" x="460" y="510.2"/>
<use href="#ml" x="456" y="505.6"/>
<use href="#ml" x="429.6" y="495.7"/>
<use href="#ml" x="381.4" y="480.9"/>
<use href="#md" x="384" y="462.1"/>
<use href="#md" x="400.2" y="464.8"/>
<use href="#mm" x="334.7" y="507.8"/>
<use href="#md" x="395.9" y="457.7"/>
<use href="#ml" x="373.6" y="493"/>
<use href="#ml" x="415.9" y="489.7"/>
<use href="#mm" x="458.5" y="509.8"/>
<use href="#ml" x="384.2" y="457.4"/>
<use href="#md" x="432.5" y="492.9"/>
<use href="#mm" x="457.4" y="511.1"/>
<use href="#md" x="378.9" y="485.3"/>
<use href="#md" x="379.9" y="460.5"/>
<use href="#mk" x="413.6" y="495.4"/>
<use href="#mm" x="394.2" y="457.1"/>
<use href="#md" x="434.3" y="482.1"/>
<use href="#md" x="428.3" y="496.9"/>
<use href="#mm" x="410.6" y="474"/>
<use href="#mm" x="436.7" y="469"/>
<use href="#mm" x="448" y="497.7"/>
<use href="#md" x="454.7" y="508.7"/>
<use href="#mk" x="413.4" y="490.2"/>
<use href="#md" x="458.8" y="508.9"/>
<use href="#mk" x="423.6" y="500.9"/>
<use href="#mm" x="417.1" y="495.6"/>
<use href="#mk" x="426.6" y="500.3"/>
<use href="#md" x="400.4" y="468.3"/>
<use href="#mk" x="381.5" y="477"/>
<use href="#mm" x="409.6" y="483.9"/>
<use href="#md" x="431.6" y="492.3"/>
<use href="#mm" x="431.1" y="480"/>
<use href="#mm" x="314.5" y="512.7"/>
<use href="#mm" x="388.4" y="454"/>
<use href="#md" x="439.2" y="473.6"/>
<use href="#mk" x="401.2" y="465.9"/>
<use href="#mm" x="335.1" y="510.7"/>
<use href="#mm" x="438" y="471.7"/>
<use href="#mm" x="398.4" y="455.4"/>
<use href="#md" x="411.3" y="480.8"/>
<use href="#md" x="366.3" y="511.5"/>
<use href="#md" x="433.8" y="495.2"/>
<use href="#md" x="428.9" y="490"/>
<use href="#mk" x="456.4" y="508.5"/>
<use href="#md" x="438.7" y="475.5"/>
<use href="#md" x="383" y="459"/>
<use href="#md" x="437.5" y="493"/>
<use href="#mk" x="434.7" y="497.6"/>
<use href="#md" x="430.5" y="477.6"/>
<use href="#md" x="402.5" y="467"/>
<use href="#md" x="331.2" y="511.6"/>
<use href="#mk" x="434.2" y="497"/>
<use href="#md" x="397.3" y="456"/>
<use href="#md" x="426" y="501"/>
<use href="#md" x="314.6" y="512.1"/>
<use href="#md" x="443.8" y="498.8"/>
<use href="#mk" x="435.4" y="493.4"/>
<use href="#md" x="426.4" y="496.9"/>
<use href="#mk" x="421.7" y="500.4"/>
<use href="#mk" x="422" y="495.9"/>
<use href="#mk" x="409.9" y="485.9"/>
<use href="#mk" x="433.2" y="475.5"/>
<use href="#mk" x="431.2" y="494.2"/>
<use href="#mk" x="365.5" y="511.5"/>
<use href="#mk" x="335.9" y="510.6"/>
<path d="M382.5 474.6l1 1l-1 1l-1 -1zM378.5 486.9l1.3 1.3l-1.3 1.3l-1.3 -1.3zM379 461.2l1.2 1.2l-1.2 1.2l-1.2 -1.2zM411.5 491.8l1.3 1.3l-1.3 1.3l-1.3 -1.3zM430.5 487.3l1 1l-1 1l-1 -1zM361.5 510.9l1.4 1.4l-1.4 1.4l-1.4 -1.4zM415.5 489.7l1.4 1.4l-1.4 1.4l-1.4 -1.4zM422 503.6l1.4 1.4l-1.4 1.4l-1.4 -1.4zM424 494.5l1.3 1.3l-1.3 1.3l-1.3 -1.3zM439.5 492l1.3 1.3l-1.3 1.3l-1.3 -1.3zM383 476.7l1.1 1.1l-1.1 1.1l-1.1 -1.1zM303.5 514.8l1.1 1.1l-1.1 1.1l-1.1 -1.1zM434 485.8l1.3 1.3l-1.3 1.3l-1.3 -1.3zM453 505.1l1.4 1.4l-1.4 1.4l-1.4 -1.4zM427.5 497.5l1.4 1.4l-1.4 1.4l-1.4 -1.4zM379.5 490.9l1.2 1.2l-1.2 1.2l-1.2 -1.2zM393 454.7l0.9 0.9l-0.9 0.9l-0.9 -0.9zM411 488.8l1.1 1.1l-1.1 1.1l-1.1 -1.1zM399 470.2l1 1l-1 1l-1 -1zM448.5 505.3l1.4 1.4l-1.4 1.4l-1.4 -1.4zM330 512.2l1.3 1.3l-1.3 1.3l-1.3 -1.3zM441 493.2l1.4 1.4l-1.4 1.4l-1.4 -1.4zM388.5 457.6l1.5 1.5l-1.5 1.5l-1.5 -1.5zM395 454.3l0.9 0.9l-0.9 0.9l-0.9 -0.9zM441.5 496.6l1.5 1.5l-1.5 1.5l-1.5 -1.5zM315 514.7l1.3 1.3l-1.3 1.3l-1.3 -1.3zM410.5 479.9l1 1l-1 1l-1 -1zM399.5 463.3l1.3 1.3l-1.3 1.3l-1.3 -1.3zM308.5 513.9l1.3 1.3l-1.3 1.3l-1.3 -1.3zM328.5 511.8l1.5 1.5l-1.5 1.5l-1.5 -1.5zM377 487.5l1.4 1.4l-1.4 1.4l-1.4 -1.4zM366.5 511.6l1.4 1.4l-1.4 1.4l-1.4 -1.4zM343 515.1l1.2 1.2l-1.2 1.2l-1.2 -1.2zM419 501.2l1.2 1.2l-1.2 1.2l-1.2 -1.2zM434 494.7l1 1l-1 1l-1 -1zM400.5 470.5l1.4 1.4l-1.4 1.4l-1.4 -1.4zM379 474.5l1 1l-1 1l-1 -1zM326 515l1.4 1.4l-1.4 1.4l-1.4 -1.4zM405 472.9l1 1l-1 1l-1 -1zM380 475.1l1.2 1.2l-1.2 1.2l-1.2 -1.2zM428 497.2l1 1l-1 1l-1 -1zM435 470.4l1 1l-1 1l-1 -1zM449.5 503.3l1.3 1.3l-1.3 1.3l-1.3 -1.3zM381.5 485l1 1l-1 1l-1 -1zM394.5 461l1 1l-1 1l-1 -1zM407.5 485.4l1.5 1.5l-1.5 1.5l-1.5 -1.5zM419 501.2l1.3 1.3l-1.3 1.3l-1.3 -1.3zM386.5 466.5l1.5 1.5l-1.5 1.5l-1.5 -1.5zM349 512.6l1.4 1.4l-1.4 1.4l-1.4 -1.4zM402 461.5l1.2 1.2l-1.2 1.2l-1.2 -1.2zM383.5 461.4l1.5 1.5l-1.5 1.5l-1.5 -1.5zM377.5 497.4l1.3 1.3l-1.3 1.3l-1.3 -1.3zM456 512.7l1.2 1.2l-1.2 1.2l-1.2 -1.2zM351.5 514.4l1.2 1.2l-1.2 1.2l-1.2 -1.2zM373 513.3l1.2 1.2l-1.2 1.2l-1.2 -1.2zM383.5 462.5l1.5 1.5l-1.5 1.5l-1.5 -1.5zM438.5 476.2l1 1l-1 1l-1 -1zM331.5 514.2l1.1 1.1l-1.1 1.1l-1.1 -1.1zM363 509.1l1.3 1.3l-1.3 1.3l-1.3 -1.3zM420 498.9l1.2 1.2l-1.2 1.2l-1.2 -1.2zM382 486.7l1.2 1.2l-1.2 1.2l-1.2 -1.2zM432.5 479.3l1.3 1.3l-1.3 1.3l-1.3 -1.3zM410 482.7l1 1l-1 1l-1 -1zM413.5 483.8l1.3 1.3l-1.3 1.3l-1.3 -1.3zM315.5 512.6l0.9 0.9l-0.9 0.9l-0.9 -0.9zM419 501.6l1.3 1.3l-1.3 1.3l-1.3 -1.3zM378 499.2l1 1l-1 1l-1 -1zM326 513.8l1 1l-1 1l-1 -1zM427 503.9l1.1 1.1l-1.1 1.1l-1.1 -1.1zM398.5 463l1.1 1.1l-1.1 1.1l-1.1 -1.1zM426 493.8l1.4 1.4l-1.4 1.4l-1.4 -1.4zM450.5 505.5l1.5 1.5l-1.5 1.5l-1.5 -1.5zM411.5 489.2l1.2 1.2l-1.2 1.2l-1.2 -1.2zM432 502.1l1.3 1.3l-1.3 1.3l-1.3 -1.3zM426 502.4l1.4 1.4l-1.4 1.4l-1.4 -1.4zM323.5 513.9l1 1l-1 1l-1 -1zM377 500l1.3 1.3l-1.3 1.3l-1.3 -1.3zM417.5 498l1.3 1.3l-1.3 1.3l-1.3 -1.3zM401.5 466.8l1.3 1.3l-1.3 1.3l-1.3 -1.3zM364.5 513l1.2 1.2l-1.2 1.2l-1.2 -1.2zM358.5 510.7l1.1 1.1l-1.1 1.1l-1.1 -1.1zM334 514.8l1 1l-1 1l-1 -1zM414.5 486.3l1.2 1.2l-1.2 1.2l-1.2 -1.2zM417.5 491l1.1 1.1l-1.1 1.1l-1.1 -1.1zM432.5 495l1.2 1.2l-1.2 1.2l-1.2 -1.2zM379.5 462.5l1.1 1.1l-1.1 1.1l-1.1 -1.1zM323 512.8l1.4 1.4l-1.4 1.4l-1.4 -1.4zM338 511.3l1 1l-1 1l-1 -1zM314 514.4l1.5 1.5l-1.5 1.5l-1.5 -1.5zM406 484.9l1.1 1.1l-1.1 1.1l-1.1 -1.1zM377.5 481.5l1.1 1.1l-1.1 1.1l-1.1 -1.1zM437 487l1.5 1.5l-1.5 1.5l-1.5 -1.5zM458 513.1l1.2 1.2l-1.2 1.2l-1.2 -1.2zM432.5 488.9l1 1l-1 1l-1 -1zM398.5 457.5l0.9 0.9l-0.9 0.9l-0.9 -0.9zM404.5 462.7l1.1 1.1l-1.1 1.1l-1.1 -1.1zM386 458l1.1 1.1l-1.1 1.1l-1.1 -1.1zM413 493.8l1.2 1.2l-1.2 1.2l-1.2 -1.2zM380.5 475.2l1.2 1.2l-1.2 1.2l-1.2 -1.2zM431 495l1.1 1.1l-1.1 1.1l-1.1 -1.1zM438.5 481.9l1.2 1.2l-1.2 1.2l-1.2 -1.2zM340.5 513l1.1 1.1l-1.1 1.1l-1.1 -1.1zM417.5 501.9l1.3 1.3l-1.3 1.3l-1.3 -1.3zM346 512.3l1.3 1.3l-1.3 1.3l-1.3 -1.3zM301.5 515.1l0.9 0.9l-0.9 0.9l-0.9 -0.9zM375 509l1.2 1.2l-1.2 1.2l-1.2 -1.2zM381.5 457.1l1.3 1.3l-1.3 1.3l-1.3 -1.3zM324.5 513.8l1.1 1.1l-1.1 1.1l-1.1 -1.1zM382.5 474l1.3 1.3l-1.3 1.3l-1.3 -1.3zM448.5 503.5l1.4 1.4l-1.4 1.4l-1.4 -1.4zM404 474.1l0.9 0.9l-0.9 0.9l-0.9 -0.9zM337.5 512.3l1.1 1.1l-1.1 1.1l-1.1 -1.1zM443.5 501.3l1.2 1.2l-1.2 1.2l-1.2 -1.2zM334.5 510.1l1.2 1.2l-1.2 1.2l-1.2 -1.2zM406 484.9l1 1l-1 1l-1 -1zM321 514.3l1.2 1.2l-1.2 1.2l-1.2 -1.2zM435.5 490.8l1.4 1.4l-1.4 1.4l-1.4 -1.4zM446.5 502.8l1 1l-1 1l-1 -1zM403 461l1.2 1.2l-1.2 1.2l-1.2 -1.2zM424.5 498.1l1.3 1.3l-1.3 1.3l-1.3 -1.3zM448 505.6l1.3 1.3l-1.3 1.3l-1.3 -1.3zM381 463.5l1.4 1.4l-1.4 1.4l-1.4 -1.4zM445 501.9l1.5 1.5l-1.5 1.5l-1.5 -1.5zM426.5 491.3l1 1l-1 1l-1 -1zM384.5 457.6l1 1l-1 1l-1 -1zM454 508.5l1.1 1.1l-1.1 1.1l-1.1 -1.1zM425 496.8l1.4 1.4l-1.4 1.4l-1.4 -1.4zM451 503.9l1.3 1.3l-1.3 1.3l-1.3 -1.3zM334.5 507.7l1.4 1.4l-1.4 1.4l-1.4 -1.4zM378 475.3l0.9 0.9l-0.9 0.9l-0.9 -0.9zM354.5 515.6l1 1l-1 1l-1 -1zM445 501.2l1.5 1.5l-1.5 1.5l-1.5 -1.5zM326 512.3l1.2 1.2l-1.2 1.2l-1.2 -1.2zM404 462.3l1.1 1.1l-1.1 1.1l-1.1 -1.1zM379 461l1.1 1.1l-1.1 1.1l-1.1 -1.1zM440.5 501.1l1.4 1.4l-1.4 1.4l-1.4 -1.4zM374.5 510.3l1.1 1.1l-1.1 1.1l-1.1 -1.1zM438 473.5l1.3 1.3l-1.3 1.3l-1.3 -1.3zM406 479.6l1.3 1.3l-1.3 1.3l-1.3 -1.3zM409 487.4l1.2 1.2l-1.2 1.2l-1.2 -1.2zM433 482l1.3 1.3l-1.3 1.3l-1.3 -1.3zM379.5 491.2l1.1 1.1l-1.1 1.1l-1.1 -1.1zM403 468.6l1.4 1.4l-1.4 1.4l-1.4 -1.4zM405 467.2l1.4 1.4l-1.4 1.4l-1.4 -1.4zM405.5 468.8l0.9 0.9l-0.9 0.9l-0.9 -0.9zM337 512.3l1.2 1.2l-1.2 1.2l-1.2 -1.2zM440 486.6l1.5 1.5l-1.5 1.5l-1.5 -1.5zM379 478.6l1.4 1.4l-1.4 1.4l-1.4 -1.4zM434.5 479.4l1.2 1.2l-1.2 1.2l-1.2 -1.2zM419.5 491.3l1.1 1.1l-1.1 1.1l-1.1 -1.1zM412 493.7l1.2 1.2l-1.2 1.2l-1.2 -1.2zM435 497.1l1.2 1.2l-1.2 1.2l-1.2 -1.2zM336 515.6l1.1 1.1l-1.1 1.1l-1.1 -1.1zM395.5 454.9l1.3 1.3l-1.3 1.3l-1.3 -1.3zM454 505.6l1.4 1.4l-1.4 1.4l-1.4 -1.4zM303 514.5l1.4 1.4l-1.4 1.4l-1.4 -1.4zM375.5 509.3l1.3 1.3l-1.3 1.3l-1.3 -1.3zM384.5 460.2l1.3 1.3l-1.3 1.3l-1.3 -1.3zM427 491l1.3 1.3l-1.3 1.3l-1.3 -1.3zM455 509.3l1 1l-1 1l-1 -1zM310 514.2l1 1l-1 1l-1 -1zM420 497.5l1.5 1.5l-1.5 1.5l-1.5 -1.5zM416.5 491.7l1.3 1.3l-1.3 1.3l-1.3 -1.3zM424.5 493.5l1.2 1.2l-1.2 1.2l-1.2 -1.2zM434 471.8l1.1 1.1l-1.1 1.1l-1.1 -1.1z" fill="#a3c2fb" opacity="0.78"/>
<use href="#mw" x="327.9" y="509.2"/>
<use href="#ml" x="329.9" y="509.6"/>
<use href="#mw" x="334.4" y="505.7"/>
<use href="#ml" x="335.2" y="507.9"/>
<use href="#md" x="360.6" y="508.2"/>
<use href="#mm" x="371.2" y="508.3"/>
<use href="#ml" x="374.3" y="478.2"/>
<use href="#mm" x="376.5" y="457.4"/>
<use href="#mm" x="378.2" y="455.3"/>
<use href="#ml" x="378.3" y="455.6"/>
<use href="#mm" x="382.7" y="455.2"/>
<use href="#md" x="384" y="454.9"/>
<use href="#mw" x="390.7" y="451.6"/>
<use href="#mw" x="397.7" y="454.2"/>
<use href="#mm" x="398.1" y="453.8"/>
<use href="#ml" x="399.4" y="453.9"/>
<use href="#ml" x="400.7" y="455.8"/>
<use href="#ml" x="403.8" y="457.4"/>
<use href="#mw" x="408.2" y="469.6"/>
<use href="#md" x="415.1" y="485.3"/>
<use href="#ml" x="419.2" y="486.8"/>
<use href="#mw" x="418.8" y="489.7"/>
<use href="#mm" x="424.6" y="489"/>
<use href="#ml" x="427.3" y="488.6"/>
<use href="#ml" x="430.4" y="468"/>
<use href="#mw" x="432.2" y="466.8"/>
<use href="#mw" x="431.5" y="464.9"/>
<use href="#md" x="433.8" y="460.6"/>
<use href="#md" x="435.2" y="462.3"/>
<use href="#ml" x="441.3" y="465.9"/>
<use href="#mm" x="440.9" y="471.2"/>
<use href="#ml" x="441.5" y="480.8"/>
<use href="#ml" x="441.7" y="483"/>
<use href="#md" x="444.5" y="486.1"/>
<use href="#ml" x="446" y="492.2"/>
<use href="#mw" x="444.3" y="494.3"/>
<use href="#mm" x="446.1" y="496.3"/>
<use href="#mm" x="450.6" y="500.1"/>
<use href="#mw" x="451.8" y="502.9"/>
<use href="#mw" x="457.2" y="504.7"/>
<use href="#mm" x="459.3" y="508.5"/>
<ellipse cx="437" cy="492.5" rx="3.2" ry="7.5" fill="#1a6c78" filter="url(#b2)" opacity="0.88"/>
</g>
<path d="M417.3 372.3V516" stroke="#6e6e6e" stroke-width="1" stroke-dasharray="1 2.6" fill="none" opacity="0.85"/>
<path d="M294.5 516.8H470V518.2L468.7 518.4L467.4 518.4L466 518.7L464.7 518.2L463.9 519L463.1 518.1L461.6 518.8L460.1 518.1L458.9 518.4L457.6 518.1L456.3 518.9L454.9 518.2L453.7 518.8L452.4 518.3L450.8 519L449.3 518.3L448 519L446.6 518.3L445.3 519L443.9 518.3L443.1 518.5L442.4 518.2L440.7 518.6L439.1 518.2L437.7 518.9L436.2 518.4L435.3 519L434.4 518.2L433.4 518.9L432.3 518.1L430.7 518.4L429.1 518.1L428.1 518.4L427.2 518.4L425.7 518.8L424.3 518.2L423.1 518.4L422 518.3L420.4 518.7L418.8 518.2L417.3 518.8L415.9 518L414.1 518.7L412.4 518.3L410.9 518.7L409.4 518.2L408 518.6L406.6 518.2L405.6 518.5L404.6 518.3L403.2 518.5L401.7 518.1L400 519L398.2 518.2L396.7 519L395.2 518.3L393.7 519.1L392.3 518L391.5 518.7L390.7 518.4L389.6 518.5L388.5 518.4L386.9 519L385.3 518.2L384.1 518.8L383 518.4L381.7 518.5L380.5 518L379.4 518.8L378.4 518.1L377.5 518.4L376.7 518.3L375.8 519L374.9 518.2L373.2 518.8L371.6 518.3L370.4 518.3L369.1 518.1L368.1 518.6L367 518.3L365.5 518.4L364.1 518.3L362.5 518.5L361 518.3L360.2 518.5L359.3 518L357.6 519L355.9 518.2L355 518.9L354.1 518.4L352.9 518.4L351.8 518L350.5 519L349.1 518L348.1 518.9L347 518.2L346.2 518.4L345.3 518.4L343.9 518.5L342.4 518L341.3 518.8L340.2 518.1L338.6 519L337.1 518.3L335.4 518.5L333.7 518.1L332.3 518.3L330.9 518.2L329.8 518.8L328.6 518.2L327.6 518.4L326.6 518.3L325 518.6L323.5 518.1L322.2 518.9L321 518.3L319.4 518.9L317.9 518.2L316.6 518.4L315.4 518.1L313.7 518.3L312.1 518.2L311.1 518.9L310.2 518.3L308.7 518.7L307.3 518.1L305.8 519.1L304.2 518.3L302.7 518.8L301.2 518.2L300.2 518.9L299.2 518.3L298.4 519L297.5 518.2L296.6 518.6L295.7 518.3L295.1 518.4L294.5 518.1Z" fill="#0b0b0b"/>
<rect x="287.2" y="371.3" width="203.3" height="149.6" fill="none" stroke="#4d4d4d" stroke-width="1.3"/>
<g font-size="8.5" fill="#2e2e2e"><text x="284.6" y="380.4" text-anchor="end">300</text><text x="284.6" y="403.4" text-anchor="end">250</text><text x="284.6" y="426.4" text-anchor="end">200</text><text x="284.6" y="449.4" text-anchor="end">150</text><text x="284.6" y="472.4" text-anchor="end">100</text><text x="284.6" y="495.4" text-anchor="end">50</text><text x="284.6" y="518.4" text-anchor="end">0</text><text x="305" y="530.2" text-anchor="middle">−100</text><text x="361.1" y="530.2" text-anchor="middle">−50</text><text x="417.2" y="530.2" text-anchor="middle">0</text><text x="473.3" y="530.2" text-anchor="middle">50</text></g>
<text x="295" y="389.7" font-size="17" font-weight="bold" letter-spacing="0.3" fill="#111">[e]</text>
<text x="393.2" y="539.2" font-size="10" text-anchor="middle" fill="#222"><tspan font-style="italic">wb</tspan>F (m)</text>
<text transform="translate(265.1 442.3) rotate(-90)" font-size="9.6" font-weight="bold" text-anchor="middle" fill="#111">AuMet(kg)</text>
</g>
<g font-size="8.2" font-style="italic" fill="#333" letter-spacing="0.45"><text x="163.2" y="26.4">Footwall</text><text x="206.6" y="26.2">Hanging</text><text x="206.6" y="33.8">wall</text></g>
<rect x="272.4" y="49.4" width="3.8" height="78.4" fill="url(#cb)"/>
<text x="273.5" y="44.6" font-size="9" text-anchor="middle" fill="#222">high</text>
<text x="273.8" y="137.3" font-size="9" text-anchor="middle" fill="#222">low</text>
<text transform="translate(265.9 88) rotate(-90)" font-size="10.2" text-anchor="middle" fill="#222" stroke="#222" stroke-width="0.22">Data density</text>
</svg></body></html>
